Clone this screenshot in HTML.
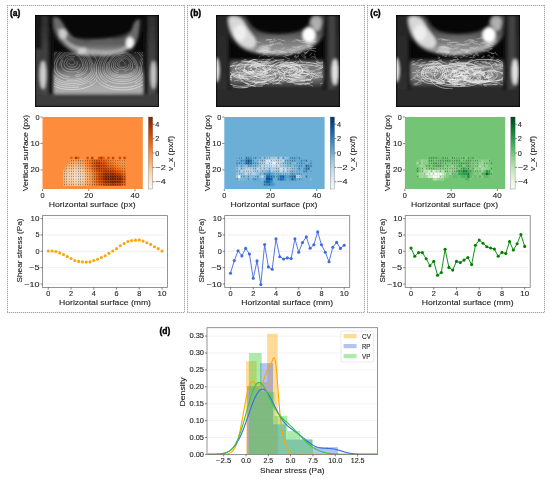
<!DOCTYPE html>
<html><head><meta charset="utf-8"><style>
html,body{margin:0;padding:0;background:#fff;width:550px;height:481px;overflow:hidden}
svg{display:block}
text{font-family:"Liberation Sans", sans-serif}
#root{will-change:transform;transform:translateZ(0)}
</style></head><body>
<svg id="root" width="550" height="481" viewBox="0 0 550 481">
<rect width="550" height="481" fill="#fff"/>
<defs>
<filter id="blur1" x="-20%" y="-20%" width="140%" height="140%"><feGaussianBlur stdDeviation="1.6"/></filter>
<filter id="blur03" x="-20%" y="-20%" width="140%" height="140%"><feGaussianBlur stdDeviation="0.3"/></filter>
<filter id="blur05" x="-20%" y="-20%" width="140%" height="140%"><feGaussianBlur stdDeviation="0.45"/></filter>
<filter id="blur2" x="-50%" y="-50%" width="200%" height="200%"><feGaussianBlur stdDeviation="3"/></filter>
<linearGradient id="swirlA" x1="0" y1="0" x2="0" y2="1"><stop offset="0" stop-color="#303030"/><stop offset="0.45" stop-color="#555"/><stop offset="0.8" stop-color="#b4b4b4"/><stop offset="1" stop-color="#c8c8c8"/></linearGradient>
<linearGradient id="swirlB" x1="0" y1="0" x2="0" y2="1"><stop offset="0" stop-color="#505050"/><stop offset="0.2" stop-color="#9a9a9a"/><stop offset="0.6" stop-color="#a0a0a0"/><stop offset="1" stop-color="#202020"/></linearGradient>
</defs>
<path d="M7 5.5 H185 M184.5 5 V313 M7 312.5 H185 M7.5 5 V313" fill="none" stroke="#e2e2e2" stroke-width="1"/>
<path d="M7 5.5 H185 M184.5 5 V313 M7 312.5 H185 M7.5 5 V313" fill="none" stroke="#a8a8a8" stroke-width="1" stroke-dasharray="1 1"/>
<path d="M187 5.5 H365 M364.5 5 V313 M187 312.5 H365 M187.5 5 V313" fill="none" stroke="#e2e2e2" stroke-width="1"/>
<path d="M187 5.5 H365 M364.5 5 V313 M187 312.5 H365 M187.5 5 V313" fill="none" stroke="#a8a8a8" stroke-width="1" stroke-dasharray="1 1"/>
<path d="M367 5.5 H545 M544.5 5 V313 M367 312.5 H545 M367.5 5 V313" fill="none" stroke="#e2e2e2" stroke-width="1"/>
<path d="M367 5.5 H545 M544.5 5 V313 M367 312.5 H545 M367.5 5 V313" fill="none" stroke="#a8a8a8" stroke-width="1" stroke-dasharray="1 1"/>
<text x="10.00" y="15.60" font-size="8.5" text-anchor="start" fill="#000" font-weight="bold" stroke="#000" stroke-width="0.4">(a)</text>
<text x="190.30" y="15.60" font-size="8.5" text-anchor="start" fill="#000" font-weight="bold" stroke="#000" stroke-width="0.4">(b)</text>
<text x="370.30" y="15.60" font-size="8.5" text-anchor="start" fill="#000" font-weight="bold" stroke="#000" stroke-width="0.4">(c)</text>
<text x="159.50" y="333.60" font-size="8.5" text-anchor="start" fill="#000" font-weight="bold" stroke="#000" stroke-width="0.4">(d)</text>
<svg x="35" y="15" width="124" height="92" viewBox="0 0 124 92"><defs>
<clipPath id="pasw"><rect x="19" y="37" width="89" height="39"/></clipPath>
<clipPath id="paswl"><rect x="19" y="37" width="43" height="39"/></clipPath>
<clipPath id="paswr"><rect x="61" y="37" width="47" height="39"/></clipPath>
<linearGradient id="pag1" x1="0" y1="0" x2="0" y2="1"><stop offset="0" stop-color="#222"/><stop offset="0.35" stop-color="#3a3a3a"/><stop offset="0.6" stop-color="#909090"/><stop offset="1" stop-color="#b4b4b4"/></linearGradient>
<linearGradient id="papl" x1="0" y1="0" x2="0" y2="1"><stop offset="0" stop-color="#2e2e2e"/><stop offset="0.4" stop-color="#404040"/><stop offset="1" stop-color="#505050"/></linearGradient>
<linearGradient id="paringmask" x1="0" y1="0" x2="0" y2="1"><stop offset="0" stop-color="#fff" stop-opacity="0.35"/><stop offset="0.5" stop-color="#fff" stop-opacity="0.6"/><stop offset="1" stop-color="#fff" stop-opacity="1"/></linearGradient>
<linearGradient id="pabg" gradientUnits="userSpaceOnUse" x1="0" y1="20" x2="0" y2="40"><stop offset="0" stop-color="#6a6a6a"/><stop offset="0.4" stop-color="#5a5a5a"/><stop offset="1" stop-color="#9e9e9e"/></linearGradient>
<mask id="pamk"><rect x="0" y="37" width="124" height="40" fill="url(#paringmask)"/></mask>
</defs><rect width="124" height="92" fill="#080808"/><g filter="url(#blur1)"><rect x="0" y="0" width="6.5" height="92" fill="#161616"/><rect x="0" y="34" width="6.5" height="46" fill="#404040"/><rect x="6.5" y="0" width="7" height="92" fill="url(#papl)"/><ellipse cx="8" cy="60" rx="3.2" ry="14" fill="#cfcfcf"/><rect x="112.5" y="0" width="10.5" height="92" fill="url(#papl)"/><rect x="121" y="0" width="3" height="92" fill="#1a1a1a"/><ellipse cx="118.5" cy="60" rx="2.8" ry="14" fill="#c8c8c8"/><rect x="19" y="37" width="89" height="39" fill="url(#pag1)"/><rect x="18" y="75.5" width="91" height="3.5" fill="#a8a8a8"/><rect x="0" y="79" width="124" height="13" fill="#3c3c3c"/><rect x="14.5" y="0" width="4.5" height="79" fill="#0c0c0c"/><rect x="108" y="0" width="4.5" height="79" fill="#0c0c0c"/><path d="M18.50 4.00 C18.17 7.25 19.75 17.67 22.00 22.50 C24.25 27.33 28.17 30.25 32.00 33.00 C35.83 35.75 39.83 37.75 45.00 39.00 C50.17 40.25 57.17 40.42 63.00 40.50 C68.83 40.58 75.33 40.20 80.00 39.50 C84.67 38.80 87.43 38.28 91.00 36.30 C94.57 34.32 99.10 31.92 101.40 27.60 C103.70 23.28 104.37 14.33 104.80 10.40 C105.23 6.47 104.97 4.40 104.00 4.00 C103.03 3.60 100.33 6.08 99.00 8.00 C97.67 9.92 97.92 13.08 96.00 15.50 C94.08 17.92 93.00 21.00 87.50 22.50 C82.00 24.00 69.33 24.00 63.00 24.50 C56.67 25.00 53.75 26.00 49.50 25.50 C45.25 25.00 41.25 24.58 37.50 21.50 C33.75 18.42 29.25 10.08 27.00 7.00 C24.75 3.92 25.42 3.50 24.00 3.00 C22.58 2.50 18.83 0.75 18.50 4.00Z" fill="url(#pabg)"/><path d="M24 14 C 28 30, 42 36, 64 37 S 88 35, 97 28" stroke="#b0b0b0" stroke-width="3" fill="none"/><ellipse cx="28" cy="19" rx="4" ry="5" fill="#cccccc"/><ellipse cx="95" cy="28" rx="4" ry="6" fill="#f4f4f4"/><rect x="43" y="33" width="8" height="6" fill="#d0d0d0"/><path d="M33 22 C 45 26, 80 26, 94 18" stroke="#707070" stroke-width="1" fill="none"/></g><g mask="url(#pamk)" filter="url(#blur03)"><g clip-path="url(#paswl)"><polyline points="34.9,45.7 35.2,45.5 35.5,45.2 35.9,45.0 36.3,44.9 36.7,44.8 37.1,44.8 37.6,44.8 38.0,45.0 38.4,45.2 38.7,45.4 39.0,45.6 39.2,45.9 39.4,46.2 39.6,46.5 39.8,46.8 39.9,47.2 40.0,47.5 40.0,47.9 40.0,48.2 39.8,48.6 39.6,48.9 39.3,49.2 39.0,49.4 38.6,49.6 38.2,49.7 37.8,49.8 37.4,49.9 37.0,49.9 36.6,49.9 36.2,49.8 35.8,49.7 35.4,49.6 35.0,49.4 34.7,49.2 34.4,48.9 34.2,48.6 34.0,48.3 34.0,47.9 34.0,47.5" stroke="#e8e8e8" stroke-width="0.75" fill="none" opacity="0.9"/><polyline points="41.8,46.3 42.1,46.8 42.3,47.4 42.4,48.1 42.4,48.7 42.3,49.4 42.0,50.0 41.6,50.6 41.0,51.1 40.4,51.5 39.7,51.7 39.0,51.9 38.3,52.1 37.5,52.1 36.8,52.1 36.1,52.1 35.4,52.0 34.7,51.8 34.0,51.6 33.3,51.3 32.7,50.8 32.2,50.3 31.9,49.7 31.7,49.1 31.6,48.4 31.7,47.8 31.8,47.1 32.1,46.5 32.4,46.0 32.7,45.5 33.1,45.0 33.6,44.5 34.1,44.0 34.7,43.6 35.4,43.3 36.1,43.1 36.9,43.0 37.7,43.1 38.5,43.3 39.2,43.5" stroke="#e8e8e8" stroke-width="0.75" fill="none" opacity="0.9"/><polyline points="44.9,49.4 44.8,50.3 44.5,51.1 44.0,51.9 43.3,52.6 42.6,53.2 41.7,53.7 40.8,54.0 39.8,54.3 38.9,54.4 37.9,54.5 37.0,54.5 36.0,54.5 35.1,54.4 34.1,54.3 33.2,54.0 32.3,53.6 31.4,53.2 30.6,52.6 30.0,51.9 29.5,51.1 29.2,50.3 29.1,49.4 29.1,48.5 29.2,47.7 29.5,46.9 29.9,46.1 30.3,45.4 30.8,44.7 31.3,44.0 31.9,43.4 32.6,42.8 33.3,42.2 34.2,41.8 35.1,41.4 36.1,41.2 37.2,41.2 38.2,41.3 39.2,41.5 40.1,41.9" stroke="#e8e8e8" stroke-width="0.75" fill="none" opacity="0.9"/><polyline points="30.9,41.6 32.1,40.7 33.5,40.0 35.0,39.5 36.6,39.3 38.2,39.4 39.7,39.7 41.2,40.3 42.5,41.1 43.6,42.0 44.5,43.0 45.3,44.0 46.0,45.1 46.6,46.3 47.1,47.5 47.4,48.8 47.5,50.1 47.3,51.5 46.7,52.8 45.9,53.9 44.7,54.9 43.4,55.7 42.0,56.3 40.5,56.6 39.0,56.9 37.6,56.9 36.1,56.9 34.6,56.8 33.1,56.6 31.7,56.2 30.3,55.6 29.0,54.7 27.9,53.7 27.1,52.5 26.7,51.2 26.5,49.8 26.6,48.5 27.0,47.2 27.5,46.0 28.1,44.9" stroke="#e8e8e8" stroke-width="0.75" fill="none" opacity="0.9"/><polyline points="25.0,50.8 25.0,49.6 25.1,48.4 25.5,47.3 25.9,46.2 26.4,45.2 27.0,44.2 27.7,43.2 28.5,42.3 29.3,41.4 30.2,40.6 31.3,39.8 32.5,39.2 33.7,38.7 35.1,38.3 36.5,38.2 38.0,38.2 39.4,38.4 40.7,38.8 42.0,39.4 43.1,40.1 44.1,40.9 45.0,41.8 45.8,42.6 46.5,43.6 47.2,44.5 47.8,45.5 48.3,46.6 48.7,47.7 48.9,48.8 49.1,50.0 49.0,51.2 48.7,52.4 48.2,53.6 47.5,54.6 46.5,55.6 45.5,56.4 44.3,57.0 43.0,57.6 41.7,57.9" stroke="#e8e8e8" stroke-width="0.75" fill="none" opacity="0.9"/><polyline points="25.1,44.0 25.8,43.0 26.5,42.0 27.4,41.1 28.3,40.2 29.3,39.3 30.4,38.5 31.7,37.9 33.0,37.3 34.4,36.9 35.9,36.7 37.4,36.6 38.9,36.8 40.4,37.1 41.8,37.6 43.1,38.2 44.2,39.0 45.3,39.8 46.2,40.7 47.1,41.6 47.9,42.6 48.6,43.6 49.2,44.6 49.8,45.7 50.3,46.8 50.7,48.0 51.0,49.2 51.1,50.4 51.1,51.7 50.8,53.0 50.4,54.2 49.7,55.3 48.9,56.4 47.8,57.3 46.7,58.2 45.4,58.8 44.1,59.4 42.7,59.8 41.3,60.0 40.0,60.2" stroke="#e8e8e8" stroke-width="0.75" fill="none" opacity="0.9"/><polyline points="34.2,61.9 32.0,61.6 29.8,61.0 27.6,60.2 25.6,59.1 23.8,57.6 22.5,55.9 21.6,54.0 21.2,51.9 21.3,49.9 21.7,47.9 22.4,46.1 23.3,44.3 24.4,42.6 25.6,41.1 27.0,39.6 28.7,38.2 30.6,37.0 32.8,36.1 35.1,35.5 37.6,35.4 40.0,35.7 42.3,36.4 44.3,37.5 46.1,38.8 47.6,40.2 49.0,41.8 50.1,43.4 51.1,45.1 51.9,46.9 52.5,48.8 52.8,50.8 52.7,52.9 52.0,54.9 50.9,56.7 49.4,58.4 47.5,59.7 45.4,60.6 43.2,61.3 41.0,61.7" stroke="#e8e8e8" stroke-width="0.75" fill="none" opacity="0.9"/><polyline points="46.7,62.6 44.3,63.4 41.8,63.9 39.4,64.1 36.9,64.2 34.4,64.1 32.0,63.8 29.5,63.4 27.1,62.6 24.8,61.5 22.7,60.0 21.0,58.2 19.8,56.2 19.1,54.0 18.9,51.7 19.1,49.5 19.7,47.4 20.5,45.4 21.6,43.5 22.8,41.7 24.2,39.9 25.8,38.3 27.6,36.8 29.7,35.5 32.1,34.5 34.7,33.8 37.4,33.7 40.1,34.0 42.6,34.7 44.9,35.8 46.9,37.2 48.7,38.7 50.2,40.4 51.6,42.2 52.7,44.0 53.7,45.9 54.5,48.0 55.0,50.1 55.1,52.3 54.8,54.6" stroke="#e8e8e8" stroke-width="0.75" fill="none" opacity="0.9"/><polyline points="23.1,39.2 24.4,37.8 25.9,36.6 27.5,35.4 29.3,34.3 31.3,33.5 33.4,32.9 35.6,32.6 37.8,32.5 40.0,32.8 42.2,33.3 44.2,34.1 46.0,35.1 47.7,36.2 49.2,37.5 50.5,38.8 51.7,40.2 52.8,41.7 53.8,43.2 54.7,44.8 55.5,46.4 56.1,48.1 56.5,49.9 56.7,51.7 56.7,53.6 56.3,55.4 55.6,57.2 54.6,58.9 53.3,60.4 51.7,61.8 49.9,62.9 48.0,63.8 46.0,64.5 44.0,65.0 42.0,65.4 39.9,65.6 37.9,65.7 35.9,65.7 33.8,65.6 31.8,65.4" stroke="#e8e8e8" stroke-width="0.75" fill="none" opacity="0.9"/><polyline points="51.0,37.7 52.4,39.2 53.6,40.9 54.8,42.5 55.8,44.2 56.6,46.0 57.4,47.9 57.9,49.9 58.1,51.9 58.1,54.0 57.7,56.1 56.9,58.1 55.7,59.9 54.2,61.6 52.4,63.1 50.4,64.3 48.3,65.3 46.1,66.0 43.8,66.5 41.5,66.8 39.2,67.0 37.0,67.0 34.7,67.0 32.5,66.8 30.2,66.5 27.9,66.0 25.7,65.2 23.5,64.3 21.5,63.1 19.8,61.6 18.3,59.9 17.1,58.0 16.3,56.0 15.9,54.0 15.9,51.9 16.1,49.9 16.6,47.9 17.4,46.0 18.2,44.2 19.3,42.5" stroke="#e8e8e8" stroke-width="0.75" fill="none" opacity="0.9"/><polyline points="59.1,48.3 59.7,51.1 59.8,54.0 59.3,56.9 58.0,59.7 56.2,62.2 53.8,64.3 50.9,66.0 47.9,67.2 44.7,68.0 41.5,68.4 38.3,68.6 35.1,68.6 32.0,68.4 28.8,67.8 25.6,67.0 22.6,65.7 19.8,64.0 17.5,61.8 15.7,59.2 14.6,56.4 14.2,53.5 14.4,50.6 15.1,47.8 16.1,45.2 17.5,42.8 19.0,40.4 20.8,38.2 22.8,36.1 25.2,34.1 28.0,32.4 31.1,31.1 34.4,30.4 37.9,30.2 41.3,30.7 44.6,31.8 47.5,33.2 50.1,35.1 52.3,37.1 54.2,39.3" stroke="#e8e8e8" stroke-width="0.75" fill="none" opacity="0.9"/><polyline points="59.8,45.9 60.8,48.4 61.4,51.0 61.6,53.8 61.3,56.6 60.4,59.3 58.9,61.8 56.9,64.1 54.5,66.0 51.8,67.5 48.9,68.7 45.8,69.5 42.8,70.0 39.8,70.2 36.8,70.3 33.7,70.2 30.7,69.9 27.7,69.4 24.7,68.5 21.8,67.3 19.1,65.7 16.7,63.7 14.8,61.4 13.4,58.8 12.7,56.1 12.4,53.3 12.7,50.6 13.3,48.0 14.3,45.5 15.6,43.1 17.0,40.8 18.6,38.7 20.4,36.6 22.4,34.6 24.8,32.8 27.4,31.2 30.4,30.0 33.5,29.2 36.8,28.9 40.2,29.2" stroke="#e8e8e8" stroke-width="0.75" fill="none" opacity="0.9"/><polyline points="44.2,71.9 40.4,72.3 36.6,72.4 32.7,72.3 28.9,71.8 25.1,70.9 21.3,69.6 17.9,67.7 14.9,65.2 12.5,62.3 11.0,59.0 10.2,55.5 10.3,52.0 11.0,48.6 12.2,45.5 13.8,42.5 15.6,39.6 17.7,36.9 20.1,34.3 23.0,32.0 26.3,29.9 30.0,28.4 34.0,27.5 38.2,27.3 42.3,27.9 46.2,29.2 49.7,31.0 52.7,33.3 55.3,35.8 57.5,38.4 59.5,41.2 61.2,44.2 62.5,47.3 63.5,50.5 63.8,54.0 63.5,57.5 62.3,60.9 60.2,64.0 57.5,66.7 54.2,68.9" stroke="#e8e8e8" stroke-width="0.75" fill="none" opacity="0.9"/><polyline points="64.3,46.4 65.5,49.8 66.0,53.5 65.9,57.2 64.9,60.9 63.0,64.3 60.4,67.4 57.0,69.9 53.3,71.8 49.3,73.1 45.2,74.0 41.1,74.4 37.0,74.6 32.9,74.4 28.9,74.0 24.8,73.1 20.7,71.8 17.0,69.9 13.6,67.4 11.0,64.3 9.1,60.9 8.1,57.2 8.0,53.5 8.5,49.8 9.7,46.4 11.2,43.1 13.1,40.0 15.2,37.1 17.7,34.3 20.5,31.7 23.8,29.3 27.6,27.5 31.8,26.2 36.2,25.6 40.7,25.9 45.0,26.9 48.9,28.6 52.4,30.8 55.4,33.4 58.0,36.1" stroke="#e8e8e8" stroke-width="0.75" fill="none" opacity="0.9"/></g><g clip-path="url(#paswr)"><polyline points="85.0,50.5 84.7,50.3 84.5,50.1 84.3,49.8 84.1,49.6 84.0,49.3 84.0,49.0 84.0,48.7 84.0,48.4 84.1,48.1 84.2,47.9 84.3,47.6 84.4,47.4 84.6,47.1 84.8,46.9 85.0,46.7 85.2,46.5 85.4,46.3 85.7,46.1 86.0,46.0 86.3,45.9 86.7,45.8 87.0,45.8 87.4,45.8 87.7,45.9 88.0,46.0 88.3,46.1 88.6,46.3 88.8,46.5 89.0,46.7 89.2,46.9 89.4,47.1 89.6,47.4 89.7,47.6 89.8,47.9 89.9,48.1 90.0,48.4 90.0,48.7 90.0,49.0 90.0,49.3" stroke="#e8e8e8" stroke-width="0.75" fill="none" opacity="0.9"/><polyline points="91.4,50.3 91.2,50.7 90.8,51.1 90.4,51.5 90.0,51.8 89.5,52.0 89.0,52.1 88.5,52.3 87.9,52.3 87.4,52.4 86.9,52.4 86.4,52.4 85.9,52.3 85.4,52.2 84.9,52.1 84.4,51.9 83.9,51.7 83.4,51.4 83.1,51.0 82.8,50.6 82.5,50.2 82.4,49.7 82.4,49.2 82.4,48.8 82.5,48.3 82.7,47.9 82.9,47.5 83.1,47.1 83.3,46.7 83.6,46.3 83.9,46.0 84.3,45.6 84.7,45.3 85.2,45.1 85.6,44.8 86.2,44.7 86.7,44.6 87.3,44.6 87.9,44.7 88.4,44.9" stroke="#e8e8e8" stroke-width="0.75" fill="none" opacity="0.9"/><polyline points="93.7,49.1 93.8,49.9 93.7,50.7 93.4,51.5 92.9,52.2 92.3,52.9 91.6,53.4 90.8,53.8 89.9,54.1 89.0,54.3 88.1,54.4 87.2,54.4 86.4,54.4 85.5,54.3 84.6,54.2 83.7,54.0 82.9,53.6 82.1,53.2 81.4,52.6 80.9,51.9 80.5,51.2 80.3,50.4 80.2,49.6 80.3,48.8 80.6,48.0 80.9,47.3 81.3,46.6 81.7,46.0 82.2,45.4 82.8,44.8 83.4,44.2 84.1,43.8 85.0,43.4 85.9,43.1 86.8,43.0 87.8,43.1 88.7,43.3 89.6,43.6 90.4,44.1 91.0,44.6" stroke="#e8e8e8" stroke-width="0.75" fill="none" opacity="0.9"/><polyline points="83.9,55.9 82.8,55.5 81.6,55.1 80.6,54.4 79.7,53.7 79.0,52.7 78.6,51.7 78.4,50.6 78.5,49.5 78.7,48.5 79.0,47.5 79.5,46.6 80.1,45.7 80.7,44.9 81.4,44.1 82.3,43.4 83.2,42.7 84.3,42.2 85.6,41.8 86.8,41.7 88.1,41.8 89.4,42.1 90.5,42.6 91.5,43.2 92.4,43.9 93.1,44.7 93.8,45.5 94.3,46.4 94.8,47.3 95.2,48.3 95.5,49.3 95.6,50.3 95.5,51.4 95.1,52.5 94.5,53.4 93.6,54.3 92.6,54.9 91.5,55.4 90.4,55.8 89.2,56.0" stroke="#e8e8e8" stroke-width="0.75" fill="none" opacity="0.9"/><polyline points="82.9,57.6 81.6,57.2 80.4,56.7 79.2,56.0 78.3,55.2 77.5,54.2 76.9,53.1 76.5,52.0 76.4,50.8 76.5,49.7 76.8,48.6 77.2,47.5 77.7,46.5 78.2,45.5 78.9,44.6 79.6,43.7 80.5,42.9 81.4,42.1 82.5,41.4 83.7,40.8 85.0,40.4 86.4,40.2 87.8,40.3 89.2,40.5 90.4,40.9 91.6,41.5 92.7,42.2 93.6,43.0 94.5,43.8 95.2,44.7 95.8,45.6 96.4,46.6 96.9,47.6 97.3,48.7 97.5,49.8 97.6,51.0 97.4,52.1 97.1,53.3 96.5,54.4 95.6,55.3" stroke="#e8e8e8" stroke-width="0.75" fill="none" opacity="0.9"/><polyline points="99.4,53.9 98.7,55.5 97.5,56.9 96.0,58.0 94.3,58.9 92.5,59.5 90.6,59.9 88.8,60.1 86.9,60.2 85.1,60.1 83.2,59.9 81.3,59.5 79.5,58.8 77.8,57.9 76.4,56.7 75.2,55.3 74.5,53.7 74.2,52.0 74.2,50.3 74.6,48.7 75.2,47.1 75.9,45.7 76.8,44.3 77.9,43.0 79.1,41.8 80.5,40.7 82.1,39.7 83.9,39.0 85.9,38.6 87.9,38.6 89.9,38.9 91.8,39.6 93.4,40.6 94.8,41.7 96.0,42.9 97.1,44.2 98.0,45.6 98.8,47.0 99.4,48.6 99.8,50.2" stroke="#e8e8e8" stroke-width="0.75" fill="none" opacity="0.9"/><polyline points="87.0,37.5 89.1,37.7 91.2,38.2 93.1,39.1 94.7,40.2 96.1,41.4 97.4,42.7 98.5,44.1 99.4,45.6 100.2,47.1 100.8,48.8 101.2,50.5 101.3,52.3 101.0,54.1 100.2,55.8 99.1,57.4 97.6,58.7 95.9,59.8 94.0,60.6 92.0,61.1 90.0,61.4 88.1,61.5 86.1,61.5 84.1,61.4 82.2,61.1 80.2,60.6 78.3,59.9 76.5,58.8 75.0,57.5 73.8,56.0 73.1,54.3 72.7,52.5 72.8,50.7 73.1,48.9 73.7,47.3 74.5,45.7 75.5,44.3 76.5,42.9 77.7,41.5 79.2,40.3" stroke="#e8e8e8" stroke-width="0.75" fill="none" opacity="0.9"/><polyline points="90.8,37.0 92.6,37.6 94.2,38.5 95.7,39.5 97.0,40.7 98.2,41.9 99.2,43.2 100.1,44.5 100.9,45.8 101.6,47.3 102.2,48.8 102.6,50.4 102.7,52.0 102.6,53.6 102.2,55.3 101.5,56.8 100.4,58.3 99.1,59.5 97.6,60.6 95.9,61.4 94.1,62.0 92.3,62.4 90.5,62.7 88.7,62.9 86.9,62.9 85.1,62.9 83.3,62.7 81.5,62.4 79.7,61.9 77.9,61.3 76.2,60.4 74.7,59.4 73.4,58.1 72.4,56.6 71.7,55.1 71.3,53.4 71.3,51.8 71.5,50.1 71.9,48.6 72.5,47.1" stroke="#e8e8e8" stroke-width="0.75" fill="none" opacity="0.9"/><polyline points="104.8,51.5 104.8,53.1 104.7,54.8 104.2,56.4 103.5,57.9 102.5,59.3 101.3,60.6 99.8,61.7 98.3,62.6 96.6,63.4 94.8,64.0 93.1,64.4 91.3,64.7 89.5,64.8 87.7,64.9 86.0,64.9 84.2,64.8 82.4,64.6 80.7,64.3 78.9,63.9 77.1,63.3 75.5,62.5 73.9,61.5 72.5,60.4 71.3,59.1 70.4,57.7 69.7,56.1 69.3,54.5 69.1,52.9 69.2,51.3 69.5,49.7 70.0,48.2 70.6,46.7 71.3,45.3 72.1,44.0 73.0,42.7 74.0,41.5 75.1,40.3 76.3,39.1 77.6,38.0" stroke="#e8e8e8" stroke-width="0.75" fill="none" opacity="0.9"/><polyline points="104.8,46.5 105.6,48.2 106.1,50.0 106.4,51.8 106.5,53.7 106.2,55.6 105.6,57.5 104.7,59.2 103.5,60.9 101.9,62.3 100.2,63.5 98.2,64.5 96.2,65.2 94.2,65.8 92.1,66.1 90.0,66.4 87.9,66.5 85.9,66.5 83.8,66.3 81.7,66.1 79.6,65.7 77.5,65.2 75.5,64.4 73.6,63.4 71.9,62.1 70.4,60.7 69.2,59.1 68.3,57.3 67.7,55.4 67.5,53.5 67.6,51.6 68.0,49.8 68.5,48.0 69.3,46.3 70.1,44.7 71.1,43.2 72.2,41.7 73.4,40.2 74.7,38.8 76.2,37.5" stroke="#e8e8e8" stroke-width="0.75" fill="none" opacity="0.9"/><polyline points="105.6,43.8 106.9,46.2 107.9,48.7 108.6,51.4 108.8,54.3 108.4,57.1 107.3,59.8 105.5,62.3 103.2,64.4 100.4,66.1 97.4,67.3 94.3,68.0 91.2,68.5 88.1,68.7 85.0,68.6 81.8,68.4 78.7,67.8 75.6,66.9 72.7,65.6 70.0,63.8 67.9,61.6 66.3,59.0 65.4,56.2 65.2,53.4 65.5,50.6 66.4,47.9 67.5,45.4 68.9,43.0 70.5,40.8 72.4,38.6 74.5,36.6 77.0,34.8 79.9,33.4 83.1,32.4 86.4,32.0 89.8,32.2 93.1,33.0 96.1,34.3 98.7,36.0 101.0,38.0" stroke="#e8e8e8" stroke-width="0.75" fill="none" opacity="0.9"/><polyline points="72.4,67.6 69.8,66.0 67.6,64.2 65.7,62.0 64.4,59.5 63.6,56.9 63.3,54.3 63.6,51.6 64.2,49.1 65.1,46.7 66.3,44.4 67.6,42.3 69.1,40.2 70.8,38.2 72.8,36.3 75.0,34.5 77.5,33.0 80.3,31.8 83.3,31.0 86.4,30.6 89.6,30.8 92.7,31.4 95.6,32.5 98.2,33.9 100.5,35.6 102.5,37.5 104.3,39.4 105.9,41.5 107.3,43.6 108.5,45.9 109.5,48.2 110.2,50.7 110.6,53.3 110.5,56.0 110.0,58.6 108.8,61.1 107.2,63.4 105.0,65.4 102.6,67.1 99.8,68.3" stroke="#e8e8e8" stroke-width="0.75" fill="none" opacity="0.9"/><polyline points="107.9,66.2 105.1,68.4 101.9,70.0 98.5,71.2 95.1,72.0 91.6,72.4 88.1,72.6 84.7,72.6 81.2,72.3 77.7,71.8 74.3,70.9 70.9,69.5 67.9,67.7 65.2,65.4 63.2,62.7 61.8,59.7 61.1,56.5 61.1,53.3 61.6,50.3 62.6,47.3 63.9,44.6 65.5,41.9 67.3,39.4 69.3,37.0 71.7,34.8 74.4,32.7 77.5,31.0 81.0,29.7 84.7,29.0 88.5,28.9 92.2,29.5 95.7,30.7 98.9,32.3 101.7,34.3 104.1,36.5 106.2,38.9 108.1,41.3 109.7,43.9 111.1,46.7 112.2,49.6" stroke="#e8e8e8" stroke-width="0.75" fill="none" opacity="0.9"/><polyline points="104.4,34.2 106.3,36.1 108.0,38.0 109.5,40.0 110.9,42.1 112.1,44.2 113.2,46.4 114.2,48.7 114.9,51.1 115.3,53.6 115.4,56.2 115.1,58.7 114.4,61.3 113.2,63.7 111.6,66.0 109.7,68.0 107.5,69.8 105.0,71.2 102.3,72.4 99.6,73.4 96.8,74.0 93.9,74.5 91.1,74.8 88.3,74.9 85.6,74.9 82.8,74.7 79.9,74.5 77.1,74.0 74.3,73.3 71.6,72.4 68.9,71.2 66.4,69.7 64.2,67.9 62.3,65.9 60.7,63.6 59.6,61.2 58.9,58.6 58.6,56.1 58.7,53.5 59.2,51.0" stroke="#e8e8e8" stroke-width="0.75" fill="none" opacity="0.9"/></g></g><rect x="0" y="0" width="124" height="92" fill="none" stroke="#000" stroke-width="1"/></svg>
<svg x="216" y="15" width="124" height="92" viewBox="0 0 124 92"><defs>
<clipPath id="pbsw"><rect x="14" y="44" width="93" height="30"/></clipPath>
<linearGradient id="pbg1" x1="0" y1="0" x2="0" y2="1"><stop offset="0" stop-color="#282828"/><stop offset="0.2" stop-color="#787878"/><stop offset="0.6" stop-color="#808080"/><stop offset="0.88" stop-color="#404040"/><stop offset="1" stop-color="#1c1c1c"/></linearGradient>
<linearGradient id="pbpl" x1="0" y1="0" x2="0" y2="1"><stop offset="0" stop-color="#262626"/><stop offset="1" stop-color="#303030"/></linearGradient>
<linearGradient id="pbbg" gradientUnits="userSpaceOnUse" x1="0" y1="16" x2="0" y2="41"><stop offset="0" stop-color="#4a4a4a"/><stop offset="0.45" stop-color="#7a7a7a"/><stop offset="0.8" stop-color="#9a9a9a"/><stop offset="1" stop-color="#707070"/></linearGradient>
</defs><rect width="124" height="92" fill="#070707"/><g filter="url(#blur1)"><rect x="0" y="0" width="12" height="92" fill="url(#pbpl)"/><ellipse cx="0" cy="55" rx="3" ry="12" fill="#f0f0f0"/><rect x="110" y="0" width="14" height="92" fill="url(#pbpl)"/><rect x="113" y="0" width="6" height="92" fill="#555" opacity="0.6"/><ellipse cx="119" cy="57" rx="3.2" ry="13" fill="#e4e4e4"/><rect x="14" y="44" width="93" height="30" fill="url(#pbg1)"/><rect x="0" y="74" width="124" height="18" fill="#2c2c2c"/><rect x="12" y="0" width="2.5" height="75" fill="#0a0a0a"/><rect x="107.5" y="0" width="2.5" height="75" fill="#0a0a0a"/><path d="M12.00 1.00 C9.67 4.00 11.67 13.67 14.00 19.00 C16.33 24.33 20.92 29.67 26.00 33.00 C31.08 36.33 37.50 37.75 44.50 39.00 C51.50 40.25 60.25 41.17 68.00 40.50 C75.75 39.83 84.83 37.82 91.00 35.00 C97.17 32.18 102.17 28.60 105.00 23.60 C107.83 18.60 107.67 8.93 108.00 5.00 C108.33 1.07 109.00 0.67 107.00 0.00 C105.00 -0.67 98.67 -0.83 96.00 1.00 C93.33 2.83 93.75 8.33 91.00 11.00 C88.25 13.67 84.33 15.67 79.50 17.00 C74.67 18.33 67.58 19.00 62.00 19.00 C56.42 19.00 50.33 18.33 46.00 17.00 C41.67 15.67 39.00 13.67 36.00 11.00 C33.00 8.33 32.00 2.67 28.00 1.00 C24.00 -0.67 14.33 -2.00 12.00 1.00Z" fill="url(#pbbg)"/><path d="M13.00 3.00 C11.67 5.50 14.17 13.67 16.00 18.00 C17.83 22.33 20.67 26.50 24.00 29.00 C27.33 31.50 33.33 33.50 36.00 33.00 C38.67 32.50 40.67 29.17 40.00 26.00 C39.33 22.83 34.67 17.83 32.00 14.00 C29.33 10.17 27.17 4.83 24.00 3.00 C20.83 1.17 14.33 0.50 13.00 3.00Z" fill="#d8d8d8"/><ellipse cx="24" cy="18" rx="6" ry="8" fill="#eeeeee"/><ellipse cx="48" cy="35" rx="6" ry="4" fill="#c4c4c4"/><path d="M40 37 C 55 40, 80 38, 100 26" stroke="#b8b8b8" stroke-width="2.2" fill="none"/><ellipse cx="100" cy="7" rx="6" ry="6" fill="#a8a8a8"/><ellipse cx="93" cy="20" rx="6.5" ry="7.5" fill="#ffffff"/><ellipse cx="101" cy="10" rx="4" ry="6" fill="#b0b0b0"/></g><g clip-path="url(#pbsw)" filter="url(#blur03)"><g stroke="#f2f2f2" stroke-width="0.65" fill="none" opacity="0.85"><polyline points="32.1,52.7 32.7,52.3 32.8,51.9 33.6,51.6 33.9,51.2 34.6,50.9 35.6,50.6 36.7,50.3 37.2,50.0 38.2,49.8 39.5,49.6 40.7,49.4 41.6,49.2 42.7,49.1 44.2,49.0 44.9,48.9"/><polyline points="59.5,59.5 59.0,59.7 57.8,60.0 57.2,60.1 56.3,60.3 55.2,60.5 54.3,60.6 53.1,60.7 52.1,60.8 51.2,60.9 50.5,61.0 49.3,61.0 48.2,61.1 47.4,61.1 46.3,61.0 45.1,61.0"/><polyline points="48.4,62.5 46.7,62.5 44.8,62.4 42.7,62.2 41.4,61.9 39.2,61.6 37.7,61.1 36.4,60.6 34.7,60.0 33.6,59.4 32.2,58.7 31.7,57.9 30.9,57.1 30.2,56.3 29.9,55.5 29.3,54.6"/><polyline points="33.4,50.2 34.2,49.7 34.8,49.2 35.9,48.7 36.6,48.2 38.1,47.8 39.3,47.4 40.8,47.1 42.1,46.9 43.1,46.7 44.6,46.5 46.2,46.4 47.3,46.4 49.0,46.4 50.3,46.5 51.7,46.7"/><polyline points="51.1,55.6 51.1,55.7 50.4,55.8 50.3,55.9 50.1,56.0 50.0,56.1 49.6,56.1 49.3,56.2 48.7,56.2 48.4,56.3 48.1,56.3 48.0,56.3 47.7,56.3 46.9,56.3 46.6,56.3 46.3,56.2"/><polyline points="40.4,52.0 41.0,51.8 41.3,51.6 41.8,51.4 42.4,51.3 42.7,51.1 43.0,51.0 43.6,50.8 44.1,50.7 44.2,50.6 45.2,50.5 45.7,50.5 46.3,50.4 46.8,50.4 47.1,50.4 47.7,50.4"/><polyline points="52.9,54.8 52.8,55.0 52.8,55.1 52.5,55.2 52.3,55.3 52.2,55.4 52.0,55.5 52.0,55.6 51.6,55.7 51.9,55.8 51.5,55.9 51.1,55.9 50.9,56.0 50.7,56.1 50.5,56.1 50.1,56.2"/><polyline points="28.6,56.1 28.3,55.1 28.3,54.1 28.3,53.2 28.8,52.2 28.8,51.3 29.2,50.3 30.4,49.4 30.9,48.6 31.7,47.7 33.0,47.0 33.9,46.3 35.5,45.6 37.2,45.0 38.6,44.5 40.1,44.1"/><polyline points="52.0,56.8 51.2,57.0 49.9,57.1 48.8,57.2 48.1,57.2 47.2,57.2 46.0,57.1 45.0,57.0 44.0,56.9 43.0,56.7 41.9,56.4 41.3,56.1 40.5,55.8 39.8,55.4 39.3,55.1 39.1,54.7"/></g><g stroke="#f2f2f2" stroke-width="0.65" fill="none" opacity="0.85"><polyline points="63.0,56.9 63.6,58.1 64.1,59.4 64.2,60.7 63.8,61.9 63.0,63.2 62.1,64.3 60.6,65.4 58.6,66.4 56.1,67.2 53.6,67.9 50.9,68.5 47.6,68.8 44.9,69.0 41.9,69.0 38.8,68.8"/><polyline points="50.6,66.9 48.9,67.3 46.9,67.5 44.4,67.6 42.3,67.6 40.4,67.5 38.2,67.3 35.8,67.0 33.9,66.6 32.1,66.1 30.9,65.5 29.4,64.8 27.8,64.0 27.3,63.2 26.6,62.3 26.0,61.5"/><polyline points="50.4,63.6 49.9,63.7 49.5,63.9 49.4,64.0 48.8,64.1 48.7,64.2 48.3,64.3 47.5,64.4 47.2,64.4 46.8,64.5 46.4,64.6 46.2,64.6 45.5,64.7 45.2,64.7 44.6,64.8 44.7,64.8"/><polyline points="34.1,58.2 35.2,57.7 35.9,57.2 37.0,56.9 38.2,56.5 39.2,56.3 40.8,56.1 42.0,56.0 43.3,56.0 45.2,56.1 46.2,56.2 47.7,56.4 49.0,56.7 50.1,57.1 50.9,57.5 51.9,58.0"/><polyline points="54.0,64.6 53.1,65.1 52.4,65.6 51.1,66.0 50.0,66.4 48.8,66.7 47.6,66.9 46.0,67.1 44.7,67.2 43.2,67.3 41.8,67.2 40.6,67.1 39.1,67.0 37.8,66.7 36.5,66.4 35.6,66.1"/><polyline points="58.7,57.3 59.3,57.8 59.5,58.4 59.3,58.9 59.4,59.5 59.7,60.1 59.5,60.7 59.5,61.3 59.2,61.8 59.3,62.4 59.1,63.0 58.8,63.5 57.9,64.0 57.7,64.6 57.1,65.1 56.1,65.5"/><polyline points="46.9,70.9 44.1,71.1 41.6,71.0 38.7,70.8 35.6,70.3 33.3,69.7 31.0,68.8 28.8,67.8 26.9,66.7 25.5,65.4 24.6,64.0 23.4,62.5 23.3,61.0 23.3,59.5 23.4,58.0 24.4,56.5"/><polyline points="57.3,62.9 56.4,63.7 54.6,64.5 53.2,65.2 51.3,65.7 49.8,66.2 47.5,66.5 45.2,66.8 43.2,66.8 41.3,66.8 39.1,66.6 36.7,66.2 34.7,65.8 33.4,65.2 31.6,64.5 30.4,63.8"/><polyline points="40.8,58.7 41.7,58.6 42.0,58.6 42.6,58.6 42.6,58.5 43.6,58.5 43.6,58.6 44.5,58.6 44.7,58.6 45.1,58.7 45.7,58.7 46.3,58.8 46.3,58.9 46.6,59.0 47.2,59.1 47.4,59.2"/></g><g stroke="#f2f2f2" stroke-width="0.65" fill="none" opacity="0.85"><polyline points="31.0,55.5 30.3,55.5 30.2,55.4 29.7,55.3 29.5,55.3 29.0,55.2 28.9,55.1 28.5,55.0 28.8,54.9 28.5,54.8 28.1,54.7 28.1,54.6 28.3,54.5 27.7,54.3 28.0,54.2 27.7,54.1"/><polyline points="22.7,58.0 22.1,57.5 21.1,57.0 20.9,56.4 20.4,55.9 20.1,55.3 19.8,54.6 19.7,54.0 19.5,53.4 19.7,52.8 20.0,52.2 20.7,51.6 20.9,51.0 21.5,50.5 22.1,50.0 23.3,49.5"/><polyline points="28.6,63.0 27.5,62.8 26.0,62.6 25.0,62.4 23.7,62.2 23.0,61.9 21.9,61.6 20.6,61.2 19.4,60.8 18.9,60.4 17.7,59.9 16.9,59.5 15.9,59.0 15.5,58.5 14.9,57.9 14.4,57.4"/><polyline points="40.0,54.0 40.2,54.3 39.9,54.5 39.8,54.7 39.8,54.9 39.6,55.1 39.6,55.3 39.3,55.5 39.2,55.7 38.8,55.9 38.6,56.1 38.3,56.2 37.6,56.4 37.2,56.5 37.2,56.6 36.2,56.8"/><polyline points="49.3,56.1 48.4,57.0 47.5,57.9 46.3,58.8 44.4,59.5 43.0,60.2 41.1,60.7 39.4,61.2 37.3,61.5 35.1,61.7 32.8,61.8 30.8,61.7 28.5,61.5 26.4,61.2 24.2,60.8 22.2,60.2"/><polyline points="37.8,55.5 37.2,55.7 36.6,55.9 36.0,56.1 35.1,56.2 34.0,56.3 33.7,56.4 32.9,56.4 31.9,56.4 31.1,56.4 30.4,56.3 29.3,56.1 29.0,55.9 28.1,55.7 27.4,55.5 27.1,55.2"/><polyline points="31.6,47.9 34.0,47.9 36.5,48.1 38.9,48.3 41.2,48.7 43.2,49.2 45.0,49.7 46.3,50.4 47.6,51.1 48.7,51.9 49.6,52.8 49.7,53.6 49.8,54.5 49.0,55.4 48.3,56.2 47.3,57.0"/><polyline points="25.4,47.1 26.4,46.9 27.5,46.7 28.4,46.6 30.0,46.4 30.7,46.4 32.3,46.3 33.4,46.3 34.0,46.4 35.4,46.4 36.7,46.5 37.9,46.7 38.7,46.9 39.6,47.1 40.6,47.4 42.0,47.6"/><polyline points="37.8,56.6 36.7,56.8 36.5,57.0 35.6,57.1 35.2,57.3 34.3,57.3 33.3,57.4 33.0,57.4 32.0,57.4 31.0,57.4 30.2,57.3 29.8,57.2 29.1,57.0 28.4,56.9 27.7,56.7 27.2,56.5"/></g><g stroke="#f2f2f2" stroke-width="0.65" fill="none" opacity="0.85"><polyline points="49.5,60.4 49.6,60.5 49.9,60.5 49.7,60.6 49.9,60.7 50.0,60.7 50.5,60.8 50.4,60.9 50.4,61.0 50.5,61.1 50.6,61.2 50.5,61.3 50.6,61.4 51.1,61.5 50.9,61.6 51.3,61.7"/><polyline points="38.6,61.9 39.0,61.7 39.0,61.5 39.1,61.3 39.1,61.1 39.5,61.0 39.7,60.8 39.7,60.6 40.0,60.5 39.9,60.3 40.6,60.1 40.8,60.0 41.3,59.9 41.6,59.7 41.8,59.6 42.1,59.5"/><polyline points="26.6,63.3 26.7,62.8 26.7,62.2 26.3,61.7 26.7,61.2 26.8,60.7 27.3,60.2 27.7,59.7 28.2,59.2 28.9,58.7 29.8,58.3 31.1,57.8 31.9,57.4 32.9,57.1 34.5,56.7 35.8,56.4"/><polyline points="51.3,65.9 50.6,65.9 50.1,66.0 49.5,66.0 49.1,66.1 48.7,66.1 48.0,66.1 47.2,66.1 46.6,66.1 46.1,66.1 45.4,66.1 44.8,66.1 44.1,66.0 43.6,66.0 43.4,65.9 42.4,65.8"/><polyline points="55.5,57.5 56.1,57.8 56.7,58.1 57.3,58.4 58.1,58.7 58.5,59.0 58.9,59.3 58.8,59.6 59.1,60.0 59.8,60.3 60.1,60.7 60.0,61.1 60.2,61.5 59.9,61.8 60.1,62.2 60.4,62.6"/><polyline points="65.5,60.4 65.7,61.0 66.0,61.7 66.1,62.3 66.2,63.0 65.9,63.6 65.6,64.2 65.4,64.9 64.8,65.5 64.3,66.1 63.5,66.6 63.3,67.2 62.3,67.7 61.9,68.3 60.9,68.7 59.8,69.2"/><polyline points="42.8,60.4 43.3,60.2 44.2,60.1 44.9,60.0 45.5,59.9 46.1,59.8 47.0,59.8 47.4,59.8 48.3,59.8 49.1,59.9 50.0,60.0 50.5,60.1 51.2,60.3 51.5,60.4 51.9,60.6 52.3,60.9"/><polyline points="39.6,71.6 38.9,71.4 37.9,71.2 37.0,71.0 36.5,70.8 35.9,70.6 34.7,70.4 33.8,70.1 33.3,69.8 32.7,69.6 32.2,69.3 31.3,69.0 31.1,68.6 30.4,68.3 29.8,68.0 29.1,67.6"/><polyline points="56.1,54.7 57.7,55.0 58.6,55.3 60.1,55.5 60.9,55.9 61.8,56.2 62.8,56.6 63.8,57.0 64.8,57.4 65.7,57.8 65.9,58.3 66.7,58.8 67.1,59.3 68.0,59.8 67.8,60.3 68.0,60.8"/></g><g stroke="#f2f2f2" stroke-width="0.65" fill="none" opacity="0.85"><polyline points="27.3,46.3 29.9,46.2 32.7,46.4 36.0,46.8 38.6,47.4 40.7,48.2 43.3,49.2 45.1,50.3 46.8,51.6 48.0,53.0 48.7,54.5 49.0,56.0 49.2,57.5 48.8,59.1 48.3,60.5 46.5,61.9"/><polyline points="16.1,62.6 13.9,62.0 11.9,61.2 10.6,60.4 9.4,59.6 8.8,58.7 7.9,57.7 7.8,56.8 8.2,55.8 8.2,54.9 9.3,54.0 10.7,53.1 12.1,52.3 13.4,51.6 15.4,50.9 17.7,50.3"/><polyline points="28.8,49.2 31.5,49.3 34.7,49.5 37.1,49.8 39.4,50.2 42.0,50.8 43.8,51.5 45.6,52.3 46.9,53.1 48.6,54.0 49.5,55.0 49.8,56.0 50.0,57.0 49.2,58.0 48.6,59.0 47.7,60.0"/><polyline points="13.1,64.2 12.3,63.6 11.7,63.0 10.5,62.3 10.2,61.6 9.6,60.9 9.2,60.2 8.8,59.5 8.4,58.8 8.0,58.0 7.9,57.2 7.9,56.5 8.2,55.7 8.0,55.0 8.3,54.2 9.0,53.5"/><polyline points="37.4,57.3 37.5,57.5 37.2,57.8 36.9,58.0 36.0,58.2 35.4,58.5 34.8,58.6 34.4,58.8 33.9,59.0 33.0,59.1 32.1,59.2 31.4,59.3 30.7,59.4 29.9,59.4 29.1,59.4 28.4,59.4"/><polyline points="37.9,52.3 38.7,52.5 39.8,52.7 40.3,53.0 41.1,53.3 41.8,53.6 42.4,53.9 43.4,54.2 43.8,54.5 44.1,54.9 44.5,55.2 45.1,55.6 45.0,56.0 45.0,56.3 45.4,56.7 45.2,57.1"/><polyline points="7.9,57.8 7.6,56.9 7.2,56.0 7.8,55.1 8.5,54.3 9.6,53.4 11.5,52.7 13.0,52.0 15.2,51.3 17.1,50.8 19.8,50.3 22.1,50.0 24.7,49.8 27.8,49.6 30.7,49.6 32.9,49.7"/><polyline points="32.0,63.3 30.9,63.4 29.7,63.4 28.8,63.4 27.6,63.4 26.2,63.3 24.9,63.2 24.0,63.0 23.2,62.8 21.8,62.6 20.9,62.3 19.9,62.0 19.4,61.6 18.4,61.3 17.3,60.8 16.7,60.4"/><polyline points="21.9,53.0 22.6,52.8 22.9,52.7 23.3,52.6 23.8,52.4 24.7,52.3 24.8,52.2 25.5,52.1 25.9,52.1 26.4,52.0 27.2,52.0 27.9,51.9 28.0,51.9 28.5,51.9 29.3,51.9 29.6,51.9"/></g><g stroke="#f2f2f2" stroke-width="0.65" fill="none" opacity="0.85"><polyline points="15.7,66.1 14.8,65.4 14.1,64.7 14.0,63.9 13.9,63.1 14.1,62.3 13.8,61.6 14.6,60.8 15.0,60.1 15.9,59.4 16.7,58.8 17.9,58.3 19.3,57.8 21.0,57.4 21.9,57.2 23.7,57.0"/><polyline points="31.7,72.3 30.8,72.5 29.5,72.6 28.3,72.7 27.8,72.8 26.5,72.8 25.8,72.8 24.7,72.8 23.8,72.8 22.4,72.7 21.8,72.6 20.5,72.5 19.7,72.4 19.0,72.2 18.1,72.0 16.8,71.7"/><polyline points="17.3,62.5 17.5,62.2 17.9,62.0 18.2,61.7 18.0,61.5 18.6,61.3 19.0,61.0 19.0,60.8 19.9,60.6 19.9,60.5 20.7,60.3 21.2,60.1 21.8,60.0 22.2,59.9 22.8,59.8 23.5,59.7"/><polyline points="14.1,64.6 14.2,64.1 13.9,63.7 13.6,63.2 13.9,62.8 14.0,62.3 13.9,61.8 14.0,61.4 14.5,60.9 14.7,60.5 15.1,60.1 15.9,59.7 16.3,59.3 17.2,59.0 18.0,58.6 18.5,58.4"/><polyline points="23.8,57.9 25.4,57.9 27.6,57.9 29.4,58.0 31.5,58.2 32.8,58.5 34.8,58.8 36.3,59.2 37.5,59.7 38.6,60.2 39.2,60.7 40.4,61.3 40.6,61.8 41.1,62.4 41.1,63.1 40.4,63.7"/><polyline points="42.2,66.7 41.3,67.4 41.0,68.0 39.8,68.6 39.3,69.2 37.9,69.8 37.1,70.3 36.2,70.7 34.6,71.1 33.4,71.5 32.2,71.8 30.8,72.1 29.3,72.3 28.0,72.4 26.6,72.5 25.6,72.5"/><polyline points="33.1,70.2 31.6,70.7 29.7,71.0 27.6,71.2 25.9,71.3 23.7,71.3 21.7,71.1 20.0,70.8 17.7,70.4 16.5,69.8 14.7,69.2 13.1,68.4 12.2,67.6 10.8,66.7 10.5,65.7 9.6,64.7"/><polyline points="15.8,64.6 15.1,64.4 15.4,64.1 15.0,63.8 15.1,63.5 15.2,63.2 15.0,62.9 15.0,62.6 14.9,62.3 14.8,62.0 14.9,61.7 15.1,61.4 15.6,61.1 15.7,60.8 16.0,60.5 16.6,60.3"/><polyline points="21.5,61.0 21.9,60.9 22.0,60.8 22.4,60.8 22.5,60.8 23.0,60.7 23.3,60.7 23.3,60.7 23.8,60.6 24.0,60.6 24.0,60.6 24.8,60.6 24.6,60.6 24.8,60.5 25.1,60.5 25.7,60.5"/></g><g stroke="#f2f2f2" stroke-width="0.65" fill="none" opacity="0.85"><polyline points="97.2,61.7 97.0,62.1 96.8,62.6 96.3,63.0 96.1,63.4 95.3,63.8 94.2,64.1 93.8,64.4 92.3,64.7 91.6,65.0 90.4,65.2 89.2,65.3 87.9,65.4 87.1,65.5 85.4,65.5 84.5,65.5"/><polyline points="92.5,68.1 90.5,68.3 88.4,68.4 85.8,68.4 83.7,68.4 81.6,68.3 79.3,68.1 77.7,67.8 75.7,67.5 73.8,67.1 71.7,66.6 70.7,66.1 69.2,65.5 67.8,64.9 67.0,64.3 66.1,63.6"/><polyline points="86.8,64.0 86.7,64.0 86.3,64.0 86.0,64.0 85.6,64.0 85.0,64.0 84.8,64.0 84.4,64.0 84.2,63.9 83.7,63.9 83.2,63.9 83.1,63.8 83.0,63.8 82.2,63.7 82.3,63.7 81.5,63.6"/><polyline points="85.8,58.3 86.8,58.3 88.3,58.4 89.1,58.5 90.2,58.7 91.6,58.9 92.3,59.2 93.2,59.6 93.8,59.9 94.5,60.3 94.5,60.8 94.9,61.2 94.8,61.6 94.7,62.1 94.1,62.5 93.7,62.9"/><polyline points="89.1,66.6 88.1,66.7 86.1,66.8 84.6,66.7 83.1,66.7 82.1,66.5 80.3,66.3 78.9,66.1 77.5,65.8 76.3,65.4 75.6,65.0 74.6,64.6 73.8,64.1 73.1,63.6 72.2,63.1 72.1,62.5"/><polyline points="90.2,56.6 91.9,56.9 93.1,57.3 94.1,57.8 94.5,58.4 95.3,59.0 95.8,59.7 96.1,60.4 96.7,61.1 96.7,61.8 96.4,62.5 96.1,63.2 95.4,63.9 94.4,64.5 93.4,65.0 92.4,65.5"/><polyline points="78.3,67.0 77.1,66.8 75.8,66.5 74.9,66.2 73.6,65.8 72.5,65.4 72.0,65.0 70.9,64.6 70.4,64.1 69.6,63.6 68.8,63.1 68.7,62.6 68.4,62.1 68.5,61.6 68.3,61.0 68.7,60.5"/><polyline points="95.1,57.7 95.2,57.9 95.5,58.0 96.1,58.2 96.9,58.4 97.4,58.6 97.2,58.8 97.9,59.0 98.2,59.2 98.7,59.4 98.6,59.6 99.0,59.9 99.1,60.1 99.5,60.3 99.3,60.6 99.8,60.8"/><polyline points="82.9,58.3 84.0,58.2 84.5,58.2 85.8,58.2 86.6,58.2 87.5,58.2 88.2,58.3 88.9,58.3 89.7,58.5 90.5,58.6 91.5,58.8 91.7,58.9 92.8,59.1 92.8,59.4 93.4,59.6 93.9,59.9"/></g><g stroke="#f2f2f2" stroke-width="0.65" fill="none" opacity="0.85"><polyline points="89.2,63.6 88.4,63.7 87.4,63.6 86.4,63.6 85.3,63.5 84.3,63.3 83.3,63.1 82.9,62.9 82.0,62.6 81.3,62.3 80.2,62.0 79.7,61.6 79.3,61.2 78.7,60.8 78.0,60.3 77.8,59.9"/><polyline points="95.4,64.7 94.1,64.9 92.3,65.0 90.9,65.1 89.5,65.2 88.1,65.2 86.8,65.2 85.1,65.1 83.8,65.0 82.3,64.9 81.5,64.7 80.0,64.5 78.3,64.3 77.6,64.0 75.9,63.7 74.9,63.4"/><polyline points="85.6,47.2 87.8,47.2 89.3,47.2 91.2,47.3 93.2,47.5 94.8,47.8 96.7,48.1 98.7,48.5 100.2,49.0 101.6,49.5 103.1,50.2 104.3,50.8 105.3,51.6 106.6,52.3 107.4,53.1 108.4,54.0"/><polyline points="69.9,54.3 71.0,53.4 72.7,52.6 74.5,51.9 76.3,51.3 78.3,50.8 80.6,50.3 82.8,50.0 85.2,49.8 87.5,49.7 89.9,49.8 92.5,49.9 94.5,50.2 96.9,50.6 99.3,51.0 101.2,51.6"/><polyline points="74.6,60.6 73.9,60.1 73.6,59.7 73.4,59.2 72.7,58.7 72.9,58.2 72.9,57.7 72.8,57.2 73.1,56.8 73.8,56.3 73.7,55.8 74.6,55.4 75.1,55.0 76.2,54.6 77.2,54.2 78.0,53.8"/><polyline points="82.5,57.4 82.8,57.1 83.2,56.8 83.3,56.5 83.7,56.3 84.5,56.1 84.6,55.9 85.4,55.7 85.9,55.6 86.7,55.5 87.0,55.5 88.2,55.4 88.5,55.4 89.0,55.5 89.8,55.6 90.5,55.7"/><polyline points="84.3,58.8 84.0,58.7 83.8,58.5 84.0,58.3 84.1,58.1 83.9,57.9 83.8,57.7 84.2,57.5 84.1,57.3 84.3,57.1 84.5,57.0 85.2,56.8 85.6,56.7 85.8,56.6 86.2,56.5 86.7,56.4"/><polyline points="83.4,61.5 82.7,61.2 81.9,60.8 81.3,60.5 81.0,60.1 80.4,59.6 80.5,59.2 80.0,58.7 80.2,58.3 79.9,57.8 80.0,57.3 80.2,56.9 80.5,56.4 80.8,56.0 81.1,55.6 82.0,55.2"/><polyline points="85.1,61.1 84.5,61.0 83.8,60.9 82.9,60.7 82.6,60.5 81.9,60.3 80.9,60.1 80.8,59.9 80.4,59.6 80.0,59.4 79.3,59.1 79.5,58.8 79.2,58.5 78.7,58.2 78.7,57.9 79.4,57.6"/></g><g stroke="#f2f2f2" stroke-width="0.65" fill="none" opacity="0.85"><polyline points="71.4,56.9 70.6,57.0 70.3,56.9 69.6,56.9 68.5,56.8 68.3,56.7 67.5,56.6 67.1,56.4 66.5,56.2 66.2,56.1 65.8,55.8 65.6,55.6 65.0,55.4 65.2,55.2 65.1,54.9 65.3,54.7"/><polyline points="59.6,52.9 59.8,52.5 60.4,52.1 60.5,51.8 61.2,51.4 61.5,51.1 62.3,50.8 62.8,50.5 63.5,50.2 64.3,49.9 64.5,49.7 65.7,49.5 66.2,49.3 67.0,49.2 67.8,49.0 68.7,48.9"/><polyline points="81.4,53.9 81.5,54.1 81.3,54.3 81.7,54.6 81.8,54.8 81.9,55.0 81.6,55.2 81.9,55.4 81.6,55.6 81.5,55.8 81.6,56.0 81.0,56.2 81.2,56.4 81.0,56.6 80.6,56.8 80.7,57.0"/><polyline points="60.3,54.3 60.7,53.8 61.1,53.3 61.8,52.8 62.7,52.3 63.2,51.9 64.5,51.5 65.3,51.2 66.5,51.0 67.5,50.8 68.9,50.6 70.5,50.6 71.6,50.6 73.0,50.6 73.9,50.8 75.2,51.0"/><polyline points="64.4,51.9 65.8,51.5 66.8,51.3 67.7,51.1 68.5,50.9 69.8,50.8 70.8,50.8 72.1,50.9 73.6,51.0 74.5,51.1 75.6,51.3 76.7,51.6 77.6,52.0 78.2,52.3 78.9,52.8 79.5,53.2"/><polyline points="64.1,48.3 64.9,48.1 66.1,47.9 66.7,47.8 67.7,47.7 68.7,47.6 70.1,47.6 71.2,47.6 72.1,47.6 73.0,47.6 74.3,47.7 75.3,47.8 76.1,47.9 76.9,48.1 77.9,48.3 78.9,48.5"/><polyline points="64.5,51.9 65.9,51.6 66.8,51.3 68.2,51.2 69.9,51.1 71.1,51.0 72.7,51.1 73.7,51.2 74.7,51.4 76.2,51.7 77.4,52.0 78.5,52.4 79.4,52.8 79.7,53.3 80.2,53.8 80.3,54.4"/><polyline points="79.6,59.5 79.5,59.6 78.6,59.7 78.6,59.9 77.5,60.0 77.3,60.1 76.3,60.1 75.6,60.2 75.4,60.3 74.5,60.3 74.2,60.4 73.2,60.4 72.5,60.5 72.3,60.5 71.6,60.5 71.0,60.5"/><polyline points="59.1,51.0 60.8,50.6 62.1,50.3 64.3,50.0 66.0,49.7 67.5,49.6 69.4,49.5 71.8,49.5 73.9,49.6 75.4,49.7 77.4,49.9 79.4,50.2 80.7,50.5 82.7,50.9 83.9,51.4 84.8,51.9"/></g><g stroke="#f2f2f2" stroke-width="0.65" fill="none" opacity="0.85"><polyline points="57.9,63.3 56.9,63.7 55.6,64.0 54.0,64.3 52.6,64.4 51.3,64.5 49.9,64.5 48.4,64.4 46.8,64.2 45.3,63.9 43.8,63.5 43.2,63.1 42.0,62.6 41.1,62.1 40.1,61.5 39.6,60.8"/><polyline points="33.3,52.4 34.6,51.8 35.3,51.2 36.7,50.6 37.8,50.1 39.3,49.7 40.6,49.3 41.7,48.9 43.0,48.6 44.6,48.4 46.3,48.2 47.9,48.0 49.6,48.0 51.2,47.9 52.3,48.0 54.3,48.1"/><polyline points="34.2,54.7 34.8,54.1 35.4,53.5 36.3,53.0 36.8,52.5 37.5,52.0 38.7,51.6 39.9,51.2 40.6,50.8 42.0,50.4 43.3,50.1 44.1,49.9 45.5,49.7 46.8,49.5 47.9,49.4 49.1,49.3"/><polyline points="52.7,54.9 53.9,55.0 54.5,55.1 54.9,55.3 55.8,55.5 56.5,55.7 57.1,56.0 57.4,56.2 57.8,56.5 58.3,56.9 58.4,57.2 58.7,57.5 58.9,57.9 59.3,58.3 59.2,58.6 59.4,59.0"/><polyline points="57.7,62.8 56.9,62.9 56.3,63.0 56.2,63.1 55.8,63.2 55.0,63.3 54.8,63.4 54.2,63.5 53.8,63.5 53.0,63.6 52.5,63.6 52.6,63.7 52.0,63.7 51.3,63.7 50.9,63.7 50.2,63.7"/><polyline points="67.9,56.5 68.6,57.3 68.5,58.2 68.5,59.1 68.4,60.0 67.9,60.9 67.1,61.7 66.1,62.5 65.2,63.3 64.0,63.9 62.2,64.6 60.7,65.1 58.7,65.5 56.2,65.8 54.4,66.1 52.1,66.2"/><polyline points="50.5,62.2 50.1,62.2 49.3,62.1 48.6,62.0 48.0,61.9 47.3,61.7 47.3,61.6 46.8,61.3 45.9,61.1 45.5,60.8 45.2,60.6 45.0,60.3 45.1,60.0 45.0,59.6 44.8,59.3 44.3,59.0"/><polyline points="39.5,52.0 41.7,51.3 44.5,50.8 47.1,50.4 49.6,50.3 52.0,50.3 54.8,50.4 57.4,50.8 59.4,51.3 61.7,52.0 63.6,52.9 65.2,53.8 66.8,54.9 67.7,56.1 68.4,57.3 68.7,58.5"/><polyline points="47.1,54.1 48.6,54.0 49.2,54.0 50.6,54.0 51.6,54.0 52.5,54.0 53.1,54.1 54.2,54.1 55.0,54.2 56.4,54.3 57.3,54.4 58.0,54.5 58.8,54.6 59.6,54.8 60.7,55.0 61.2,55.2"/></g><g stroke="#f2f2f2" stroke-width="0.65" fill="none" opacity="0.85"><polyline points="67.0,51.3 68.2,51.2 68.6,51.2 69.5,51.2 70.1,51.2 70.9,51.3 72.0,51.4 72.5,51.5 73.0,51.6 73.9,51.7 74.4,51.9 75.3,52.1 75.3,52.3 76.2,52.5 76.0,52.7 76.8,52.9"/><polyline points="53.0,54.5 52.8,54.1 52.9,53.7 53.3,53.3 53.4,52.9 53.6,52.5 53.3,52.1 53.8,51.8 54.6,51.4 54.6,51.0 55.6,50.7 55.9,50.4 57.0,50.0 57.2,49.8 58.5,49.5 59.1,49.2"/><polyline points="72.0,52.0 72.7,52.1 73.5,52.2 73.5,52.4 74.1,52.5 74.2,52.7 74.6,52.8 75.2,53.0 75.4,53.2 75.2,53.3 75.2,53.5 75.2,53.7 75.5,53.9 75.4,54.1 75.1,54.3 74.8,54.5"/><polyline points="74.5,47.1 75.8,47.4 77.5,47.8 78.5,48.2 79.8,48.7 80.5,49.2 81.8,49.8 82.3,50.5 83.2,51.1 83.7,51.8 83.8,52.6 83.7,53.3 84.2,54.0 83.8,54.7 83.8,55.5 83.0,56.2"/><polyline points="64.0,56.5 63.8,56.3 63.2,56.2 63.2,56.0 62.9,55.8 62.7,55.7 62.3,55.5 62.4,55.3 62.3,55.1 62.2,54.9 61.8,54.7 61.9,54.5 61.6,54.3 61.8,54.0 61.4,53.8 61.9,53.6"/><polyline points="47.9,53.0 47.9,52.1 48.9,51.3 49.1,50.4 49.9,49.7 50.9,48.9 52.1,48.2 53.8,47.5 54.8,46.9 56.5,46.4 58.5,45.9 60.1,45.5 61.9,45.2 64.2,45.0 66.2,44.8 68.2,44.7"/><polyline points="80.1,49.7 81.4,50.2 82.8,50.7 83.8,51.3 84.5,51.8 84.9,52.4 85.4,53.1 85.4,53.7 85.6,54.3 85.4,54.9 84.4,55.5 83.9,56.1 83.1,56.7 81.6,57.2 80.6,57.6 79.2,58.1"/><polyline points="74.8,49.9 76.0,50.2 76.7,50.5 77.2,50.8 77.7,51.1 78.4,51.5 78.9,51.9 79.6,52.3 79.8,52.7 80.1,53.1 80.1,53.5 80.2,53.9 79.6,54.4 79.7,54.8 79.6,55.2 79.2,55.6"/><polyline points="63.3,51.2 63.5,51.0 64.3,50.8 64.9,50.7 65.2,50.6 65.9,50.5 67.0,50.4 67.6,50.3 68.3,50.3 68.8,50.3 69.6,50.3 70.3,50.3 71.0,50.3 71.1,50.4 72.1,50.5 72.5,50.6"/></g><g stroke="#f2f2f2" stroke-width="0.65" fill="none" opacity="0.85"><polyline points="62.5,50.2 63.2,49.9 64.2,49.6 64.5,49.3 65.3,49.0 66.3,48.8 66.8,48.6 67.9,48.4 69.0,48.2 69.7,48.1 70.4,48.0 71.4,48.0 72.4,48.0 73.1,48.0 74.0,48.0 74.9,48.1"/><polyline points="70.0,58.9 69.7,58.8 69.3,58.8 68.6,58.7 68.0,58.5 67.6,58.4 66.8,58.3 66.6,58.1 66.0,58.0 65.6,57.8 65.3,57.6 64.8,57.4 64.4,57.2 64.1,57.0 63.8,56.8 63.7,56.5"/><polyline points="83.6,55.6 83.1,56.0 83.1,56.4 82.9,56.8 82.5,57.1 82.5,57.5 81.7,57.8 81.5,58.1 80.7,58.4 80.0,58.7 79.9,58.9 79.0,59.2 78.1,59.4 77.5,59.6 76.8,59.7 76.2,59.9"/><polyline points="78.1,54.7 78.3,55.0 78.4,55.2 78.5,55.5 78.4,55.7 78.3,56.0 78.0,56.2 77.5,56.4 77.2,56.6 76.7,56.8 76.2,57.0 75.4,57.1 75.0,57.2 74.3,57.3 73.7,57.4 72.5,57.4"/><polyline points="74.4,49.4 76.7,49.5 78.4,49.6 80.2,49.8 82.2,50.1 84.0,50.4 85.4,50.8 86.7,51.2 88.1,51.7 89.2,52.2 90.4,52.7 90.9,53.3 91.5,53.9 92.0,54.5 92.1,55.1 92.0,55.7"/><polyline points="54.1,55.3 54.3,54.5 54.4,53.7 55.0,52.9 55.5,52.1 55.8,51.4 57.0,50.6 57.5,50.0 58.8,49.3 59.8,48.7 61.1,48.2 61.9,47.7 63.3,47.2 65.0,46.9 66.0,46.5 67.5,46.3"/><polyline points="84.9,52.4 86.0,53.1 86.2,53.8 86.5,54.5 86.8,55.2 86.5,56.0 86.2,56.7 85.8,57.4 85.0,58.1 84.4,58.7 83.2,59.3 81.9,59.8 80.3,60.2 78.9,60.6 77.4,60.9 75.8,61.1"/><polyline points="86.4,53.6 86.8,54.3 87.1,55.0 86.7,55.7 86.7,56.4 86.6,57.0 85.9,57.7 85.5,58.3 85.3,58.9 84.5,59.5 83.5,60.1 82.4,60.6 81.9,61.0 80.7,61.4 79.6,61.8 78.6,62.1"/><polyline points="83.6,62.0 82.4,62.3 80.9,62.6 79.6,62.8 78.6,63.0 77.2,63.2 75.6,63.3 74.6,63.3 73.0,63.4 71.2,63.4 70.0,63.3 68.8,63.2 67.2,63.1 66.1,62.9 64.3,62.7 63.2,62.5"/></g><g stroke="#f2f2f2" stroke-width="0.65" fill="none" opacity="0.85"><polyline points="67.8,59.1 68.1,58.6 68.2,58.0 68.9,57.5 69.1,56.9 69.7,56.4 70.3,56.0 71.3,55.5 72.7,55.1 73.5,54.7 74.7,54.4 76.1,54.1 77.8,53.9 79.5,53.7 80.9,53.5 82.6,53.5"/><polyline points="84.7,57.5 84.9,57.5 85.2,57.5 85.6,57.6 85.8,57.6 86.7,57.7 86.8,57.7 87.0,57.8 87.3,57.9 87.6,58.0 87.6,58.0 88.3,58.1 88.4,58.2 88.8,58.3 88.6,58.4 88.9,58.5"/><polyline points="91.5,57.9 92.3,58.2 92.5,58.6 92.3,58.9 92.5,59.3 92.5,59.6 91.9,59.9 91.7,60.3 90.7,60.6 90.1,60.8 89.5,61.1 88.3,61.3 87.4,61.4 86.7,61.6 85.4,61.6 84.4,61.7"/><polyline points="79.0,61.3 78.2,61.2 78.0,61.0 77.4,60.9 77.3,60.8 76.9,60.6 76.7,60.5 76.2,60.3 76.0,60.2 76.3,60.0 75.8,59.9 75.6,59.7 75.5,59.5 75.5,59.4 75.4,59.2 75.3,59.0"/><polyline points="92.6,64.1 91.1,64.5 89.8,64.8 87.6,65.0 86.0,65.1 84.4,65.2 82.5,65.2 80.3,65.0 78.7,64.8 77.2,64.6 75.4,64.2 74.2,63.8 72.4,63.4 71.6,62.8 70.3,62.2 69.3,61.6"/><polyline points="80.9,55.1 81.5,55.1 82.2,55.0 82.9,55.0 84.0,55.0 84.6,55.0 85.8,55.0 86.2,55.1 87.2,55.1 88.0,55.2 88.6,55.3 89.6,55.4 90.1,55.6 91.0,55.7 91.6,55.9 92.1,56.1"/><polyline points="88.7,62.2 87.6,62.4 85.9,62.5 84.7,62.6 83.2,62.6 81.8,62.5 80.3,62.4 78.8,62.2 77.7,62.0 76.5,61.7 75.5,61.4 74.9,61.0 73.9,60.6 73.5,60.2 73.4,59.7 73.1,59.3"/><polyline points="97.1,66.6 96.4,67.1 95.3,67.5 93.9,67.9 92.8,68.2 91.7,68.5 90.4,68.8 88.8,69.0 87.8,69.1 86.1,69.2 84.9,69.3 83.3,69.3 81.9,69.2 81.0,69.1 79.5,69.0 78.2,68.8"/><polyline points="86.3,60.3 86.1,60.3 85.6,60.4 85.5,60.4 85.5,60.4 84.9,60.5 85.0,60.5 84.6,60.5 84.4,60.5 83.8,60.5 83.6,60.5 83.5,60.5 83.0,60.5 82.5,60.5 82.7,60.4 82.4,60.4"/></g><g stroke="#f2f2f2" stroke-width="0.65" fill="none" opacity="0.85"><polyline points="63.3,55.1 63.3,55.6 62.5,56.2 62.3,56.7 61.6,57.2 60.5,57.7 60.1,58.1 59.0,58.5 58.3,59.0 57.4,59.3 56.1,59.7 54.9,60.0 54.3,60.3 52.8,60.5 51.9,60.7 50.6,60.9"/><polyline points="32.8,46.2 34.3,45.7 35.4,45.2 36.7,44.8 38.4,44.5 39.3,44.2 41.2,44.0 42.2,43.8 44.1,43.8 45.7,43.7 46.9,43.8 48.6,43.9 50.3,44.1 51.6,44.4 52.9,44.7 54.1,45.1"/><polyline points="40.6,53.6 40.4,53.5 40.6,53.3 40.4,53.2 40.1,53.1 40.0,53.0 40.1,52.9 40.0,52.8 40.2,52.6 39.9,52.5 39.9,52.4 40.2,52.3 39.8,52.2 40.2,52.0 40.1,51.9 40.5,51.8"/><polyline points="51.8,58.5 50.4,58.8 49.1,59.0 47.6,59.2 45.7,59.3 44.3,59.3 42.8,59.2 41.2,59.1 39.6,58.8 38.4,58.5 37.0,58.1 36.1,57.7 34.8,57.1 33.6,56.5 32.9,55.9 32.3,55.2"/><polyline points="54.8,54.1 54.5,54.2 53.9,54.3 54.0,54.5 53.9,54.6 53.4,54.7 52.9,54.8 52.8,54.9 52.5,55.1 52.0,55.2 51.9,55.3 51.3,55.3 51.5,55.4 50.9,55.5 50.6,55.6 50.4,55.7"/><polyline points="45.2,58.2 44.7,58.2 43.9,58.2 42.7,58.2 41.8,58.1 41.2,58.1 40.5,58.0 39.8,57.9 38.5,57.7 38.1,57.6 37.4,57.5 36.6,57.3 35.6,57.1 34.9,56.9 34.6,56.7 33.7,56.5"/><polyline points="37.6,55.9 36.6,55.5 36.1,55.0 35.5,54.5 35.1,53.9 34.7,53.3 34.7,52.7 34.7,52.1 34.6,51.6 35.0,51.0 35.3,50.4 36.1,49.9 37.1,49.4 37.8,49.0 39.2,48.6 40.1,48.3"/><polyline points="55.1,56.0 54.7,56.2 54.7,56.5 53.9,56.7 54.1,56.9 53.7,57.1 53.3,57.3 52.7,57.5 52.2,57.7 52.0,57.8 51.5,58.0 51.0,58.2 50.4,58.3 50.0,58.4 49.7,58.5 49.3,58.6"/><polyline points="39.3,59.1 37.5,59.0 35.8,58.7 34.2,58.4 32.9,58.1 31.6,57.7 30.6,57.3 29.4,56.8 28.4,56.3 27.5,55.8 26.7,55.3 25.9,54.7 25.5,54.1 24.7,53.5 24.9,52.9 24.8,52.3"/></g><g stroke="#e8e8e8" stroke-width="0.6" fill="none" opacity="0.7"><path d="M41.6 59.7 Q44.5 60.3 46.5 62.1"/><path d="M45.9 67.2 Q48.2 66.2 49.4 65.4"/><path d="M21.9 61.9 Q24.6 61.6 27.8 61.1"/><path d="M66.5 55.5 Q69.5 54.9 70.1 54.0"/><path d="M24.4 66.7 Q26.2 65.5 27.8 65.8"/><path d="M59.5 59.3 Q61.2 58.5 65.1 57.7"/><path d="M68.7 47.9 Q70.2 48.9 72.1 47.6"/><path d="M65.2 63.2 Q68.4 64.3 68.7 64.1"/><path d="M23.5 65.9 Q26.8 65.9 27.3 65.5"/><path d="M86.1 49.3 Q86.9 49.3 89.2 50.2"/><path d="M15.4 60.3 Q18.2 59.4 19.7 59.0"/><path d="M96.6 60.9 Q100.6 63.1 102.1 63.0"/><path d="M29.6 63.9 Q33.5 64.3 36.4 62.8"/><path d="M25.4 55.0 Q29.8 54.5 32.9 56.8"/><path d="M70.2 48.4 Q72.5 49.8 77.2 48.7"/><path d="M76.8 52.1 Q80.3 51.6 81.8 50.5"/><path d="M24.6 46.5 Q26.9 45.3 31.0 43.8"/><path d="M41.0 62.5 Q43.9 62.4 44.7 62.0"/><path d="M78.1 65.4 Q79.0 65.0 80.9 66.7"/><path d="M60.7 67.0 Q61.2 68.4 63.7 67.9"/><path d="M77.2 55.4 Q80.1 55.1 81.0 55.3"/><path d="M95.2 60.7 Q96.5 60.9 99.4 58.7"/><path d="M68.8 47.0 Q71.0 46.5 73.3 45.5"/><path d="M50.1 54.5 Q52.2 51.7 55.3 51.7"/><path d="M56.7 69.7 Q58.9 68.2 60.1 68.0"/><path d="M39.4 58.0 Q42.3 58.7 45.1 56.6"/><path d="M106.3 46.8 Q110.8 47.8 113.1 47.2"/><path d="M72.9 61.2 Q75.9 62.0 77.2 60.6"/><path d="M101.3 62.4 Q105.4 61.7 108.0 61.0"/><path d="M73.1 54.4 Q74.3 54.0 78.1 54.7"/><path d="M44.1 69.7 Q45.7 68.9 48.9 69.6"/><path d="M46.5 49.3 Q49.6 47.4 53.0 45.8"/><path d="M66.9 53.3 Q67.9 52.1 70.0 52.2"/><path d="M81.6 59.2 Q85.0 60.5 85.8 61.2"/><path d="M21.4 50.3 Q25.0 51.4 29.4 50.9"/><path d="M53.8 66.8 Q57.5 65.0 58.8 64.6"/><path d="M38.0 46.6 Q40.6 45.0 42.0 45.1"/><path d="M51.2 50.8 Q55.2 50.3 58.4 51.6"/><path d="M82.3 69.1 Q84.9 70.4 85.6 69.5"/><path d="M45.7 49.3 Q49.6 48.8 51.1 47.5"/><path d="M99.8 51.1 Q103.6 50.2 106.5 49.9"/><path d="M77.1 54.1 Q78.1 53.4 81.7 51.9"/><path d="M45.1 57.9 Q47.1 56.6 49.4 58.3"/><path d="M100.1 59.5 Q101.8 61.0 102.9 61.1"/><path d="M44.6 48.2 Q47.2 46.4 48.1 47.0"/><path d="M89.7 56.2 Q92.8 56.7 95.6 56.4"/><path d="M69.9 53.9 Q72.7 55.2 74.1 55.0"/><path d="M86.2 53.4 Q89.8 53.8 93.8 55.5"/><path d="M62.7 68.6 Q64.0 68.5 65.5 67.5"/><path d="M86.0 54.7 Q88.6 54.4 89.7 56.6"/><path d="M16.6 49.2 Q19.3 47.1 21.6 46.9"/><path d="M101.4 54.8 Q103.9 55.4 105.0 53.4"/><path d="M29.1 46.7 Q32.5 47.3 33.1 47.9"/><path d="M73.2 54.3 Q75.2 56.3 78.2 55.8"/><path d="M24.0 63.6 Q26.6 63.4 29.7 61.0"/><path d="M19.6 59.5 Q24.7 59.6 27.1 58.9"/><path d="M34.8 52.0 Q36.5 50.5 39.9 50.8"/><path d="M84.6 61.4 Q87.7 60.8 92.4 59.8"/><path d="M28.6 66.7 Q31.4 68.5 32.6 68.3"/><path d="M40.3 54.0 Q43.0 54.5 47.7 53.8"/><path d="M69.6 56.9 Q72.4 58.3 77.0 57.5"/><path d="M47.5 64.7 Q50.4 66.9 51.2 66.1"/><path d="M41.7 46.6 Q43.8 46.3 49.0 43.6"/><path d="M28.0 63.7 Q30.3 61.7 31.6 62.2"/><path d="M45.6 68.0 Q50.6 67.4 52.8 69.6"/><path d="M35.8 65.0 Q37.4 64.5 39.0 65.6"/><path d="M54.0 48.5 Q57.0 47.8 61.1 44.8"/><path d="M25.2 57.7 Q26.6 57.3 30.0 55.9"/><path d="M27.8 63.7 Q29.1 63.7 31.3 63.7"/><path d="M99.4 54.4 Q104.3 54.0 107.0 52.2"/><path d="M39.4 50.3 Q39.6 49.9 42.6 49.5"/><path d="M52.0 59.4 Q54.0 59.6 55.0 58.9"/><path d="M64.6 59.2 Q69.6 60.6 72.4 60.7"/><path d="M51.1 53.6 Q54.7 53.0 59.0 53.0"/><path d="M52.1 49.4 Q53.8 51.4 54.8 50.9"/><path d="M37.7 60.7 Q38.9 59.3 41.9 60.1"/><path d="M92.4 64.8 Q94.5 64.9 95.4 66.1"/><path d="M74.1 59.2 Q76.5 59.2 81.8 57.7"/><path d="M93.4 58.2 Q96.5 59.0 101.3 59.0"/><path d="M83.1 55.1 Q85.6 56.0 88.0 56.1"/><path d="M77.0 53.7 Q79.0 54.4 82.6 54.5"/><path d="M38.6 67.8 Q42.0 67.7 45.2 67.6"/><path d="M34.6 49.4 Q37.2 50.7 39.7 51.7"/><path d="M89.6 51.7 Q92.9 51.0 96.4 49.4"/><path d="M91.0 67.5 Q92.1 69.0 94.0 68.6"/><path d="M90.1 49.0 Q90.9 47.8 94.1 47.5"/><path d="M88.7 58.5 Q90.1 59.9 92.1 58.4"/><path d="M78.6 56.8 Q82.9 55.7 85.6 56.6"/><path d="M77.3 54.8 Q79.0 54.4 81.4 54.9"/><path d="M49.4 46.4 Q50.9 44.6 55.0 44.7"/><path d="M80.8 52.6 Q83.9 51.0 84.9 51.9"/><path d="M73.2 66.6 Q76.5 66.2 78.1 65.1"/><path d="M48.6 47.1 Q51.6 46.3 53.4 46.8"/><path d="M51.9 61.6 Q53.9 62.5 56.5 63.0"/><path d="M100.0 50.6 Q102.5 52.6 105.9 53.6"/><path d="M44.6 47.7 Q47.1 48.3 49.4 48.9"/><path d="M97.8 64.2 Q100.4 62.7 103.1 61.4"/><path d="M92.1 56.0 Q95.6 55.8 99.5 55.8"/><path d="M61.6 65.8 Q64.6 65.0 68.2 66.9"/><path d="M77.2 59.3 Q79.4 59.4 83.8 61.1"/><path d="M21.2 65.6 Q23.5 65.1 24.3 64.3"/><path d="M19.1 62.3 Q20.4 63.5 24.4 63.5"/><path d="M52.9 60.0 Q57.1 60.6 59.1 63.4"/><path d="M45.1 58.4 Q47.9 55.8 52.1 54.7"/><path d="M43.1 52.1 Q45.9 52.9 48.5 54.2"/><path d="M18.8 53.3 Q23.1 53.8 25.3 55.8"/><path d="M32.8 47.3 Q35.1 47.3 37.7 47.4"/><path d="M68.3 54.8 Q71.5 55.5 72.1 56.0"/><path d="M18.8 53.5 Q21.5 53.1 23.8 53.7"/><path d="M39.4 65.1 Q43.6 64.7 45.9 63.7"/><path d="M56.3 68.4 Q58.6 68.0 63.7 68.0"/><path d="M73.5 47.2 Q75.3 46.8 76.6 48.4"/><path d="M99.8 59.5 Q102.9 60.8 105.0 61.1"/><path d="M41.4 51.1 Q44.4 50.8 44.9 52.3"/><path d="M23.4 48.3 Q26.8 49.8 30.8 50.5"/><path d="M38.0 67.7 Q38.5 68.7 41.7 68.4"/><path d="M17.9 66.1 Q20.2 65.1 22.0 65.2"/><path d="M66.1 49.7 Q69.3 49.6 70.4 51.5"/><path d="M88.3 69.5 Q89.6 69.8 91.5 69.2"/><path d="M34.8 59.1 Q37.9 57.8 39.7 57.0"/><path d="M77.1 48.7 Q80.1 50.8 80.6 49.9"/><path d="M101.4 58.6 Q104.4 58.1 106.0 57.6"/><path d="M100.5 48.2 Q104.4 48.3 107.8 48.1"/><path d="M22.2 49.4 Q26.9 47.7 29.5 47.7"/><path d="M100.0 46.8 Q103.4 48.5 107.8 47.6"/><path d="M75.1 47.2 Q76.9 47.5 80.2 46.3"/><path d="M30.6 64.9 Q32.5 63.4 33.9 64.2"/><path d="M65.3 64.9 Q66.5 65.2 70.6 65.4"/><path d="M23.0 61.5 Q25.3 60.1 28.5 59.4"/><path d="M75.7 49.9 Q78.8 49.7 83.0 47.4"/><path d="M95.2 57.5 Q98.0 55.8 98.5 56.3"/><path d="M60.1 58.9 Q61.6 58.0 65.1 56.9"/><path d="M61.1 54.8 Q62.6 52.9 65.9 53.3"/><path d="M36.3 66.9 Q38.6 68.3 43.8 66.9"/><path d="M59.4 65.0 Q61.8 66.0 65.9 65.4"/><path d="M28.3 52.3 Q30.6 50.6 32.7 50.1"/><path d="M96.8 48.0 Q99.2 49.0 101.0 48.4"/><path d="M80.1 47.5 Q84.5 45.4 85.9 46.0"/><path d="M71.5 62.6 Q74.7 63.2 76.0 64.1"/><path d="M99.6 46.3 Q101.6 46.1 104.2 48.4"/><path d="M36.8 63.6 Q38.2 62.9 40.5 64.3"/><path d="M32.4 51.3 Q37.8 51.5 40.2 49.9"/><path d="M58.6 57.9 Q63.0 59.4 65.9 60.0"/><path d="M32.5 61.0 Q34.5 62.8 39.0 63.4"/><path d="M46.5 49.9 Q50.1 50.2 52.2 52.8"/><path d="M91.0 68.5 Q95.1 70.7 97.2 71.1"/><path d="M68.9 56.4 Q73.3 57.0 75.5 58.7"/><path d="M103.4 58.8 Q106.4 60.4 106.6 60.3"/><path d="M37.4 66.1 Q39.2 64.8 41.3 65.1"/><path d="M59.8 67.8 Q62.7 69.3 66.3 69.0"/><path d="M87.8 62.4 Q90.8 62.7 94.3 65.4"/><path d="M74.7 66.1 Q78.6 66.5 80.6 65.1"/><path d="M14.4 57.7 Q16.9 56.7 17.6 56.1"/><path d="M70.2 57.0 Q71.8 57.7 74.3 56.3"/><path d="M71.6 53.0 Q74.2 52.0 75.6 51.3"/><path d="M75.5 65.4 Q77.1 65.2 81.4 63.0"/><path d="M31.1 52.5 Q32.5 54.7 35.4 54.6"/><path d="M70.8 67.5 Q74.9 67.2 76.2 66.9"/><path d="M105.9 50.5 Q107.8 49.7 109.5 51.8"/><path d="M30.3 68.7 Q33.1 68.1 37.3 68.4"/><path d="M23.4 59.3 Q25.6 61.5 28.6 61.2"/><path d="M97.1 62.0 Q99.7 62.1 102.7 59.5"/><path d="M47.6 61.9 Q50.1 62.7 52.5 62.5"/><path d="M98.4 58.0 Q100.9 58.4 106.2 56.9"/><path d="M77.6 59.4 Q82.1 59.9 84.3 59.0"/><path d="M83.7 46.8 Q86.9 47.7 87.4 46.2"/><path d="M27.4 60.1 Q28.7 61.0 30.7 60.3"/><path d="M73.7 52.7 Q75.9 53.1 78.0 53.9"/><path d="M105.0 61.6 Q107.7 63.9 111.1 63.5"/><path d="M80.0 62.6 Q82.1 63.1 83.7 61.7"/><path d="M87.8 54.3 Q91.6 52.3 93.0 52.4"/><path d="M82.7 50.1 Q83.7 49.4 85.9 49.5"/><path d="M103.9 69.1 Q107.4 67.5 108.3 67.7"/><path d="M43.8 56.5 Q45.5 55.4 47.8 54.9"/><path d="M103.6 52.4 Q107.1 52.3 110.8 50.2"/><path d="M73.3 64.7 Q75.9 64.3 76.9 64.0"/><path d="M66.0 62.1 Q67.7 63.9 70.2 63.2"/><path d="M63.2 52.9 Q66.2 51.8 67.5 53.5"/><path d="M90.9 59.6 Q94.0 58.3 98.5 58.5"/><path d="M20.5 59.2 Q23.3 60.9 26.7 60.8"/></g></g><g filter="url(#blur03)"><g stroke="#d0d0d0" stroke-width="0.6" fill="none" opacity="0.6"><path d="M46.7 38.5 Q49.9 39.8 52.3 40.0"/><path d="M86.5 39.2 Q87.7 40.6 90.0 42.7"/><path d="M88.3 38.8 Q90.8 37.4 93.0 35.9"/><path d="M80.2 43.2 Q80.2 41.9 82.8 41.2"/><path d="M70.1 42.8 Q71.9 43.7 74.2 44.1"/><path d="M56.4 42.8 Q57.7 44.6 61.1 45.4"/><path d="M85.2 40.0 Q88.1 42.8 89.5 43.7"/><path d="M78.9 43.0 Q81.4 41.9 82.7 40.1"/><path d="M56.5 36.5 Q58.4 36.2 61.7 37.5"/><path d="M53.4 36.8 Q57.1 37.2 59.0 38.6"/><path d="M82.0 36.6 Q81.8 37.9 84.7 38.5"/><path d="M48.3 38.2 Q49.8 37.8 51.0 35.5"/><path d="M42.4 42.6 Q43.9 41.2 44.6 40.8"/><path d="M59.9 40.5 Q61.2 40.3 64.4 38.0"/><path d="M88.5 40.3 Q88.8 38.4 91.9 36.5"/><path d="M65.4 36.5 Q68.1 36.8 70.2 37.6"/><path d="M70.7 40.7 Q74.6 40.3 75.5 38.1"/><path d="M97.7 38.6 Q98.3 38.4 99.1 40.4"/><path d="M67.2 41.5 Q68.5 41.2 70.8 42.9"/><path d="M64.2 38.3 Q66.3 36.8 68.4 35.7"/><path d="M51.9 41.6 Q53.4 41.4 54.5 40.0"/><path d="M98.4 42.0 Q101.0 44.7 102.3 46.1"/><path d="M43.8 37.6 Q46.2 35.9 47.3 33.5"/><path d="M55.8 38.8 Q59.2 37.0 59.6 36.3"/><path d="M42.7 37.4 Q46.3 36.5 48.1 36.0"/><path d="M46.1 36.9 Q48.1 36.8 50.3 33.9"/><path d="M94.7 42.4 Q96.2 41.1 100.0 42.1"/><path d="M73.8 40.1 Q73.7 40.5 76.4 38.6"/><path d="M82.6 43.6 Q84.5 44.6 85.0 46.4"/><path d="M88.7 42.7 Q88.7 42.4 90.3 41.5"/><path d="M62.7 36.1 Q64.8 36.1 67.0 39.0"/><path d="M93.3 40.3 Q94.9 40.3 95.7 38.0"/><path d="M69.1 41.1 Q71.6 40.0 71.6 39.6"/><path d="M46.2 40.7 Q47.2 40.1 48.4 39.0"/><path d="M78.2 41.7 Q80.0 40.2 80.4 41.4"/><path d="M68.2 39.2 Q69.8 40.4 72.9 40.7"/><path d="M81.5 39.8 Q84.1 36.8 86.0 36.4"/><path d="M54.3 43.9 Q56.8 44.0 57.5 42.2"/><path d="M78.0 41.9 Q80.3 42.0 79.6 40.2"/><path d="M42.3 36.4 Q44.0 35.6 47.4 33.8"/></g><g stroke="#e8e8e8" stroke-width="0.6" fill="none" opacity="0.6"><path d="M91.2 32.9 Q92.3 32.1 95.6 34.1"/><path d="M81.6 25.5 Q84.2 27.4 88.6 27.5"/><path d="M49.0 31.2 Q53.9 31.5 56.5 29.4"/><path d="M40.1 35.9 Q44.1 36.4 48.0 36.2"/><path d="M72.7 35.2 Q74.4 34.1 75.9 34.4"/><path d="M61.8 24.1 Q64.4 25.3 64.9 24.6"/><path d="M65.2 25.7 Q67.1 24.7 69.4 26.1"/><path d="M93.7 31.6 Q96.2 32.5 97.3 31.3"/><path d="M86.7 25.4 Q89.8 24.2 91.5 25.0"/><path d="M73.4 37.7 Q73.6 36.8 76.4 38.2"/><path d="M78.1 32.4 Q80.7 32.8 83.8 32.5"/><path d="M75.7 36.8 Q80.8 38.4 83.4 37.9"/><path d="M79.4 24.4 Q83.2 26.0 87.5 25.3"/><path d="M49.9 37.2 Q52.8 36.5 57.1 36.9"/><path d="M59.2 28.5 Q63.4 28.3 64.7 27.2"/><path d="M91.3 34.7 Q96.4 34.9 100.1 36.5"/><path d="M53.7 29.8 Q57.0 30.4 57.9 28.5"/><path d="M58.1 34.8 Q63.1 35.6 66.3 36.2"/><path d="M45.8 35.6 Q48.7 35.3 52.5 34.8"/><path d="M93.1 26.3 Q96.7 27.6 100.0 26.4"/><path d="M62.4 36.8 Q65.6 36.4 71.2 37.8"/><path d="M55.8 36.7 Q58.6 37.5 60.2 35.4"/><path d="M49.7 30.1 Q54.0 31.3 56.8 30.9"/><path d="M53.7 27.6 Q56.2 25.9 60.5 25.6"/><path d="M93.0 33.0 Q96.8 33.8 100.0 33.4"/><path d="M56.7 24.9 Q57.8 23.4 59.7 24.1"/><path d="M46.2 30.9 Q48.9 32.7 53.1 32.9"/><path d="M49.8 25.4 Q53.1 24.9 55.2 24.8"/><path d="M80.1 25.3 Q83.5 24.6 84.9 26.6"/><path d="M85.6 27.2 Q89.9 27.3 93.2 28.8"/><path d="M40.5 26.7 Q42.9 27.4 44.4 27.6"/><path d="M76.4 26.5 Q79.6 25.8 79.9 25.8"/><path d="M75.9 32.0 Q76.1 32.8 79.2 31.4"/><path d="M47.2 37.5 Q49.7 38.0 54.5 36.9"/><path d="M53.8 29.1 Q54.9 30.0 57.5 29.2"/><path d="M55.7 29.3 Q56.9 28.8 60.0 30.0"/><path d="M61.1 29.1 Q65.1 28.0 66.9 29.6"/><path d="M76.5 35.7 Q77.9 34.3 79.6 35.2"/><path d="M65.3 34.0 Q67.0 32.5 68.9 33.1"/><path d="M52.7 30.2 Q53.9 29.7 56.0 29.4"/><path d="M91.5 31.8 Q94.3 31.4 95.7 30.7"/><path d="M87.9 37.5 Q91.0 37.9 91.4 38.3"/><path d="M53.2 26.4 Q54.0 26.1 57.4 27.3"/><path d="M90.8 30.5 Q92.4 30.1 94.2 30.9"/><path d="M51.3 33.3 Q54.6 33.1 55.0 33.0"/><path d="M49.9 24.2 Q51.5 24.3 56.0 24.7"/><path d="M80.7 31.5 Q84.0 31.5 86.6 30.6"/><path d="M48.0 35.3 Q52.6 35.8 55.2 37.2"/><path d="M89.6 26.5 Q94.1 24.8 96.1 25.5"/><path d="M51.9 24.5 Q52.9 25.2 55.8 24.4"/></g></g><rect x="0" y="0" width="124" height="92" fill="none" stroke="#000" stroke-width="1"/></svg>
<svg x="396" y="15" width="124" height="92" viewBox="0 0 124 92"><defs>
<clipPath id="pcsw"><rect x="14" y="44" width="93" height="30"/></clipPath>
<linearGradient id="pcg1" x1="0" y1="0" x2="0" y2="1"><stop offset="0" stop-color="#282828"/><stop offset="0.2" stop-color="#787878"/><stop offset="0.6" stop-color="#808080"/><stop offset="0.88" stop-color="#404040"/><stop offset="1" stop-color="#1c1c1c"/></linearGradient>
<linearGradient id="pcpl" x1="0" y1="0" x2="0" y2="1"><stop offset="0" stop-color="#262626"/><stop offset="1" stop-color="#303030"/></linearGradient>
<linearGradient id="pcbg" gradientUnits="userSpaceOnUse" x1="0" y1="16" x2="0" y2="41"><stop offset="0" stop-color="#4a4a4a"/><stop offset="0.45" stop-color="#7a7a7a"/><stop offset="0.8" stop-color="#9a9a9a"/><stop offset="1" stop-color="#707070"/></linearGradient>
</defs><rect width="124" height="92" fill="#070707"/><g filter="url(#blur1)"><rect x="0" y="0" width="12" height="92" fill="url(#pcpl)"/><ellipse cx="0" cy="55" rx="3" ry="12" fill="#f0f0f0"/><rect x="110" y="0" width="14" height="92" fill="url(#pcpl)"/><rect x="113" y="0" width="6" height="92" fill="#555" opacity="0.6"/><ellipse cx="119" cy="57" rx="3.2" ry="13" fill="#e4e4e4"/><rect x="14" y="44" width="93" height="30" fill="url(#pcg1)"/><rect x="0" y="74" width="124" height="18" fill="#2c2c2c"/><rect x="12" y="0" width="2.5" height="75" fill="#0a0a0a"/><rect x="107.5" y="0" width="2.5" height="75" fill="#0a0a0a"/><path d="M12.00 1.00 C9.67 4.00 11.67 13.67 14.00 19.00 C16.33 24.33 20.92 29.67 26.00 33.00 C31.08 36.33 37.50 37.75 44.50 39.00 C51.50 40.25 60.25 41.17 68.00 40.50 C75.75 39.83 84.83 37.82 91.00 35.00 C97.17 32.18 102.17 28.60 105.00 23.60 C107.83 18.60 107.67 8.93 108.00 5.00 C108.33 1.07 109.00 0.67 107.00 0.00 C105.00 -0.67 98.67 -0.83 96.00 1.00 C93.33 2.83 93.75 8.33 91.00 11.00 C88.25 13.67 84.33 15.67 79.50 17.00 C74.67 18.33 67.58 19.00 62.00 19.00 C56.42 19.00 50.33 18.33 46.00 17.00 C41.67 15.67 39.00 13.67 36.00 11.00 C33.00 8.33 32.00 2.67 28.00 1.00 C24.00 -0.67 14.33 -2.00 12.00 1.00Z" fill="url(#pcbg)"/><path d="M13.00 3.00 C11.67 5.50 14.17 13.67 16.00 18.00 C17.83 22.33 20.67 26.50 24.00 29.00 C27.33 31.50 33.33 33.50 36.00 33.00 C38.67 32.50 40.67 29.17 40.00 26.00 C39.33 22.83 34.67 17.83 32.00 14.00 C29.33 10.17 27.17 4.83 24.00 3.00 C20.83 1.17 14.33 0.50 13.00 3.00Z" fill="#d8d8d8"/><ellipse cx="24" cy="18" rx="6" ry="8" fill="#eeeeee"/><ellipse cx="48" cy="35" rx="6" ry="4" fill="#c4c4c4"/><path d="M40 37 C 55 40, 80 38, 100 26" stroke="#b8b8b8" stroke-width="2.2" fill="none"/><ellipse cx="100" cy="7" rx="6" ry="6" fill="#a8a8a8"/><ellipse cx="93" cy="20" rx="6.5" ry="7.5" fill="#ffffff"/><ellipse cx="101" cy="10" rx="4" ry="6" fill="#b0b0b0"/></g><g clip-path="url(#pcsw)" filter="url(#blur03)"><g stroke="#f2f2f2" stroke-width="0.65" fill="none" opacity="0.85"><polyline points="64.1,56.6 63.6,56.9 63.8,57.2 63.6,57.5 63.1,57.8 63.0,58.1 62.9,58.4 62.4,58.6 62.1,58.9 61.3,59.1 60.9,59.3 60.3,59.4 60.0,59.6 59.7,59.7 58.9,59.8 58.4,59.8"/><polyline points="66.3,59.6 65.8,59.9 65.1,60.2 64.3,60.5 63.9,60.7 63.2,60.9 62.6,61.1 62.2,61.3 61.1,61.4 60.8,61.6 60.0,61.7 58.8,61.7 58.2,61.8 57.5,61.8 56.4,61.8 55.9,61.7"/><polyline points="40.8,52.7 41.6,52.4 41.9,52.1 42.5,51.9 43.3,51.6 44.4,51.4 44.9,51.2 45.8,50.9 47.0,50.8 48.2,50.6 48.8,50.4 49.8,50.3 51.0,50.2 51.7,50.1 53.0,50.0 53.8,49.9"/><polyline points="71.6,59.2 70.7,59.9 70.1,60.6 69.7,61.3 68.8,61.9 67.2,62.5 66.4,63.0 65.3,63.4 63.6,63.8 62.4,64.1 60.7,64.3 59.4,64.5 58.1,64.5 56.6,64.5 55.2,64.5 53.4,64.3"/><polyline points="48.5,53.8 49.3,53.4 49.6,53.1 49.9,52.7 51.1,52.4 51.5,52.1 52.3,51.9 53.0,51.7 54.0,51.5 54.8,51.4 55.5,51.3 56.7,51.2 57.3,51.2 58.6,51.2 59.1,51.3 60.4,51.4"/><polyline points="52.9,48.9 53.9,48.8 55.0,48.7 56.7,48.6 57.6,48.6 58.8,48.6 60.3,48.7 61.2,48.8 62.6,48.9 63.5,49.1 65.0,49.3 65.8,49.5 66.7,49.7 68.3,50.0 68.8,50.3 70.2,50.7"/><polyline points="78.9,57.2 78.9,57.7 78.9,58.1 78.9,58.6 78.3,59.0 77.9,59.4 77.9,59.9 77.2,60.3 76.8,60.7 76.6,61.1 76.2,61.5 75.3,61.9 74.9,62.3 74.5,62.6 73.8,63.0 72.9,63.3"/><polyline points="53.3,49.8 55.5,49.7 57.7,49.6 60.1,49.7 62.8,49.9 64.9,50.2 67.4,50.5 69.1,51.0 71.4,51.5 72.7,52.1 74.0,52.8 75.3,53.6 76.3,54.3 77.0,55.1 77.3,56.0 77.2,56.8"/><polyline points="44.8,55.0 45.9,54.1 46.5,53.2 47.3,52.4 48.5,51.7 49.8,51.0 51.5,50.5 52.6,50.1 54.7,49.8 56.4,49.7 58.0,49.7 60.0,49.8 61.7,50.1 63.0,50.4 64.9,50.9 66.1,51.5"/></g><g stroke="#f2f2f2" stroke-width="0.65" fill="none" opacity="0.85"><polyline points="55.7,61.2 55.6,61.0 55.2,60.8 54.8,60.5 54.8,60.2 54.1,59.9 54.4,59.6 54.5,59.3 54.7,59.0 54.7,58.8 54.8,58.5 55.3,58.2 56.0,58.0 56.2,57.8 56.7,57.7 57.5,57.6"/><polyline points="71.5,60.5 71.4,61.2 70.5,61.8 70.3,62.4 69.3,62.9 68.5,63.4 67.4,63.9 66.0,64.3 64.2,64.6 62.9,64.8 61.4,65.0 60.2,65.0 58.3,65.0 56.8,65.0 55.3,64.8 53.9,64.5"/><polyline points="44.8,67.8 43.1,66.8 41.6,65.7 40.5,64.5 39.4,63.3 38.7,62.0 38.5,60.6 38.3,59.3 38.6,57.9 39.5,56.6 39.7,55.3 40.8,54.1 42.6,53.0 43.7,51.9 45.6,51.0 48.0,50.2"/><polyline points="73.1,61.5 73.0,61.9 72.6,62.2 72.0,62.5 71.5,62.8 70.8,63.1 70.1,63.4 69.4,63.6 68.6,63.9 67.2,64.1 66.5,64.3 65.5,64.4 64.8,64.6 63.7,64.7 62.6,64.8 61.9,64.9"/><polyline points="57.5,63.5 56.5,63.5 55.5,63.3 54.4,63.2 53.7,63.1 52.8,62.9 51.9,62.7 51.4,62.4 50.5,62.2 50.2,61.9 49.7,61.6 48.9,61.3 48.8,60.9 48.4,60.6 48.2,60.3 48.2,59.9"/><polyline points="57.5,50.5 58.5,50.4 59.4,50.4 60.8,50.4 61.9,50.5 63.2,50.6 64.0,50.8 65.3,50.9 66.2,51.1 66.9,51.4 68.3,51.6 69.0,51.9 70.0,52.3 70.6,52.6 71.4,53.0 72.7,53.4"/><polyline points="62.0,61.0 61.9,61.1 61.4,61.1 61.1,61.1 61.2,61.2 60.7,61.2 60.2,61.2 60.3,61.2 59.9,61.2 59.6,61.2 59.4,61.2 59.2,61.2 58.8,61.2 58.9,61.2 58.8,61.2 58.4,61.2"/><polyline points="63.7,59.9 63.5,60.1 63.5,60.2 63.3,60.4 62.9,60.6 62.6,60.7 62.5,60.9 62.4,61.0 61.9,61.1 61.7,61.2 61.6,61.3 61.0,61.4 60.8,61.5 60.4,61.5 60.3,61.6 59.4,61.6"/><polyline points="55.5,56.5 55.9,56.4 56.4,56.3 57.0,56.2 56.9,56.2 57.3,56.1 57.9,56.1 58.1,56.0 58.7,56.0 59.2,56.0 59.5,56.0 59.8,56.0 60.0,56.0 60.1,56.0 60.9,56.1 61.0,56.1"/></g><g stroke="#f2f2f2" stroke-width="0.65" fill="none" opacity="0.85"><polyline points="75.8,55.0 77.2,56.2 78.5,57.4 78.9,58.8 79.1,60.1 78.2,61.4 77.6,62.7 76.6,63.9 74.8,65.1 72.9,66.1 70.8,67.0 67.8,67.7 65.0,68.3 62.5,68.7 59.4,68.9 56.1,68.9"/><polyline points="70.2,64.7 69.4,65.0 68.5,65.3 67.2,65.6 66.3,65.9 64.5,66.1 63.3,66.3 62.0,66.4 60.9,66.5 59.3,66.6 58.3,66.6 56.8,66.6 55.5,66.6 54.3,66.5 52.9,66.4 51.7,66.3"/><polyline points="63.9,58.9 64.1,59.1 64.0,59.4 64.4,59.6 64.2,59.8 63.9,60.0 64.3,60.2 63.8,60.4 63.5,60.6 63.5,60.8 63.4,61.0 62.7,61.2 62.1,61.4 61.9,61.5 61.4,61.7 61.2,61.8"/><polyline points="60.0,64.3 59.4,64.4 59.2,64.4 58.7,64.5 58.3,64.5 58.2,64.5 58.0,64.5 57.2,64.5 57.0,64.5 56.4,64.5 56.4,64.5 55.7,64.4 55.0,64.4 55.1,64.3 54.4,64.3 53.9,64.2"/><polyline points="56.4,57.4 56.8,57.4 56.8,57.4 57.5,57.4 57.8,57.4 58.3,57.4 58.1,57.4 58.8,57.5 59.0,57.5 59.6,57.6 59.6,57.7 60.0,57.8 60.4,57.9 60.4,58.0 60.7,58.1 61.1,58.2"/><polyline points="55.5,61.9 55.5,61.8 55.0,61.7 54.8,61.6 54.1,61.4 54.2,61.3 53.9,61.1 53.6,60.9 53.2,60.7 53.0,60.5 53.0,60.3 52.7,60.1 53.1,59.9 52.8,59.6 53.1,59.4 52.7,59.2"/><polyline points="47.5,53.4 48.9,53.0 50.0,52.7 51.5,52.4 52.8,52.2 54.0,52.0 55.4,51.8 56.2,51.8 57.5,51.8 58.9,51.8 60.1,51.9 61.5,52.0 63.0,52.3 64.0,52.5 65.4,52.8 66.4,53.2"/><polyline points="61.0,64.0 59.9,64.3 58.4,64.4 57.6,64.4 56.5,64.4 54.9,64.3 53.9,64.0 53.0,63.7 51.9,63.4 51.2,62.9 50.3,62.4 49.5,61.9 49.2,61.3 48.9,60.7 48.5,60.0 48.6,59.4"/><polyline points="70.7,63.0 69.9,63.5 68.7,63.9 68.1,64.3 67.2,64.6 66.1,64.9 64.8,65.2 63.9,65.5 62.8,65.7 61.5,65.8 60.4,65.9 59.0,66.0 57.3,66.1 56.2,66.0 55.2,66.0 53.5,65.9"/></g><g stroke="#f2f2f2" stroke-width="0.65" fill="none" opacity="0.85"><polyline points="110.3,60.6 110.0,61.5 109.5,62.2 108.8,63.0 107.4,63.7 106.2,64.3 104.2,64.9 102.8,65.4 100.6,65.8 98.2,66.1 96.0,66.4 93.9,66.5 91.2,66.5 89.1,66.4 86.9,66.1 84.8,65.8"/><polyline points="85.6,57.7 86.6,57.3 87.4,56.9 88.5,56.6 89.3,56.4 90.1,56.2 91.3,56.1 92.7,56.1 93.8,56.1 94.7,56.2 95.4,56.4 96.8,56.6 97.8,56.9 98.3,57.3 99.2,57.7 99.7,58.1"/><polyline points="95.5,62.4 94.8,62.5 95.0,62.5 94.8,62.6 94.2,62.6 94.1,62.7 93.7,62.7 93.8,62.7 93.7,62.7 93.3,62.8 92.9,62.8 92.7,62.8 92.4,62.8 92.3,62.8 91.8,62.8 91.6,62.8"/><polyline points="108.9,59.9 108.8,60.7 108.9,61.4 108.2,62.0 107.8,62.7 107.0,63.3 106.1,63.9 104.6,64.5 103.3,65.0 101.9,65.4 99.8,65.8 98.1,66.0 96.6,66.2 94.4,66.4 92.8,66.4 90.3,66.4"/><polyline points="87.0,60.9 87.0,60.7 87.3,60.5 87.3,60.4 87.1,60.2 87.0,60.0 87.2,59.9 87.1,59.7 87.2,59.5 87.8,59.4 87.7,59.2 87.9,59.1 88.6,59.0 88.5,58.8 88.9,58.7 89.2,58.6"/><polyline points="101.2,69.0 99.9,69.1 99.3,69.3 98.4,69.4 97.4,69.5 96.4,69.6 95.5,69.7 94.4,69.8 93.7,69.8 92.4,69.8 91.7,69.8 90.6,69.8 89.7,69.7 89.1,69.7 87.9,69.6 87.1,69.5"/><polyline points="95.9,55.8 97.8,56.0 99.9,56.2 101.8,56.5 103.0,56.9 104.4,57.4 105.7,57.9 106.5,58.4 107.4,59.0 107.7,59.6 107.9,60.2 108.1,60.9 107.5,61.5 107.1,62.1 106.5,62.7 105.3,63.2"/><polyline points="94.5,62.6 93.8,62.7 93.1,62.8 92.8,62.8 91.7,62.7 91.6,62.7 90.5,62.6 89.9,62.5 89.5,62.3 88.9,62.1 88.9,61.9 88.2,61.7 88.1,61.4 87.7,61.1 87.6,60.8 87.8,60.5"/><polyline points="91.8,55.3 93.0,55.3 93.9,55.3 94.6,55.3 95.3,55.4 96.2,55.4 96.9,55.5 97.4,55.6 97.9,55.7 98.8,55.8 99.4,56.0 100.3,56.1 100.7,56.3 101.1,56.5 101.8,56.6 102.3,56.8"/></g><g stroke="#f2f2f2" stroke-width="0.65" fill="none" opacity="0.85"><polyline points="74.5,55.1 75.5,55.1 77.2,55.1 78.0,55.1 79.2,55.2 80.2,55.3 81.5,55.5 82.6,55.7 83.6,55.9 84.7,56.2 85.4,56.5 86.4,56.8 87.2,57.1 87.6,57.5 88.6,57.9 88.6,58.3"/><polyline points="82.6,63.2 82.5,63.5 82.0,63.7 81.1,63.8 80.8,64.0 80.4,64.2 79.7,64.3 79.0,64.4 78.4,64.5 77.7,64.6 77.1,64.6 76.5,64.6 76.3,64.6 75.6,64.6 74.7,64.6 74.7,64.5"/><polyline points="62.3,66.9 60.3,66.1 58.1,65.2 57.0,64.2 55.7,63.1 54.7,62.0 54.3,60.8 54.5,59.7 54.8,58.5 55.6,57.4 57.1,56.3 58.3,55.3 60.0,54.4 62.0,53.6 64.3,52.9 67.1,52.3"/><polyline points="64.5,59.9 64.9,59.6 64.9,59.3 65.2,59.0 65.8,58.8 66.0,58.5 66.4,58.3 67.0,58.0 67.7,57.8 68.3,57.6 69.1,57.4 69.7,57.3 70.2,57.1 71.3,57.0 71.6,56.8 72.5,56.7"/><polyline points="72.6,62.2 72.1,62.1 71.8,61.9 71.6,61.8 71.4,61.6 71.2,61.5 70.6,61.3 70.4,61.1 70.6,60.9 70.4,60.7 70.4,60.5 69.9,60.3 70.0,60.1 70.1,59.9 70.1,59.7 70.4,59.5"/><polyline points="55.4,60.0 55.5,59.3 55.5,58.7 55.7,58.1 56.6,57.5 57.2,56.9 57.6,56.4 58.3,55.8 59.1,55.3 60.4,54.8 61.4,54.4 62.8,54.0 63.9,53.6 65.1,53.2 66.5,52.9 68.1,52.6"/><polyline points="90.8,65.1 90.5,65.4 89.7,65.7 88.6,65.9 87.9,66.1 86.9,66.3 85.9,66.5 84.7,66.7 84.1,66.8 82.6,66.9 81.5,67.0 80.4,67.1 79.7,67.2 78.6,67.3 77.6,67.3 76.4,67.3"/><polyline points="74.5,63.4 73.6,63.3 72.8,63.1 71.9,62.9 70.7,62.6 70.0,62.3 69.4,62.0 68.9,61.6 68.6,61.3 68.1,60.9 68.4,60.4 68.2,60.0 68.5,59.6 68.6,59.2 69.3,58.8 69.4,58.5"/><polyline points="56.9,59.6 57.1,58.9 57.6,58.2 57.9,57.6 59.0,56.9 60.0,56.3 61.2,55.8 62.2,55.2 64.1,54.8 65.3,54.3 66.9,54.0 68.7,53.7 71.1,53.5 72.5,53.3 74.8,53.2 76.4,53.2"/></g><g stroke="#f2f2f2" stroke-width="0.65" fill="none" opacity="0.85"><polyline points="60.9,48.2 61.8,47.9 63.2,47.7 64.8,47.5 66.3,47.5 67.9,47.4 68.9,47.5 70.5,47.6 72.1,47.8 73.3,48.1 74.4,48.4 75.8,48.8 76.7,49.2 77.8,49.7 79.2,50.2 79.7,50.8"/><polyline points="66.0,48.5 68.6,48.5 71.0,48.6 73.1,48.9 74.8,49.2 77.1,49.6 78.9,50.1 80.1,50.7 81.8,51.4 82.8,52.1 83.4,52.8 84.2,53.6 84.5,54.5 83.9,55.3 83.8,56.1 83.1,56.9"/><polyline points="71.2,53.9 71.6,54.1 71.6,54.2 71.7,54.3 71.3,54.5 71.8,54.6 71.4,54.7 71.4,54.9 71.2,55.0 71.5,55.1 71.3,55.2 71.1,55.4 71.0,55.5 70.8,55.6 70.7,55.7 70.2,55.8"/><polyline points="83.9,55.4 83.9,56.3 83.1,57.1 81.7,57.9 80.4,58.6 78.5,59.2 76.6,59.8 74.9,60.2 72.6,60.5 70.3,60.7 67.7,60.8 65.0,60.8 63.1,60.6 61.0,60.3 58.4,59.9 56.7,59.4"/><polyline points="65.8,51.1 66.1,51.1 66.3,51.1 66.7,51.0 67.2,51.0 67.4,51.0 67.6,51.0 68.2,51.0 68.3,51.0 68.7,51.1 68.8,51.1 69.3,51.1 69.6,51.2 69.7,51.2 70.0,51.3 70.1,51.4"/><polyline points="54.2,58.6 53.7,58.3 53.4,58.0 52.8,57.7 52.9,57.4 52.6,57.0 52.4,56.7 51.8,56.3 51.8,56.0 51.8,55.6 51.4,55.3 51.9,54.9 51.4,54.6 51.4,54.2 51.9,53.9 51.6,53.5"/><polyline points="71.7,61.0 71.1,61.0 70.5,61.1 69.4,61.2 68.9,61.2 68.3,61.2 67.4,61.2 67.3,61.2 66.6,61.2 66.0,61.2 65.4,61.2 64.7,61.1 63.7,61.0 63.3,61.0 62.8,60.9 61.7,60.8"/><polyline points="71.8,56.2 71.3,56.5 70.8,56.8 70.6,57.0 69.8,57.2 68.8,57.4 68.5,57.5 67.5,57.5 67.1,57.5 66.1,57.4 65.7,57.3 64.8,57.2 64.1,56.9 63.9,56.7 63.4,56.4 62.8,56.0"/><polyline points="61.6,49.2 62.1,49.0 63.3,48.9 63.9,48.8 65.1,48.7 66.0,48.6 66.5,48.6 67.3,48.6 68.5,48.6 69.4,48.6 70.2,48.7 71.1,48.8 71.9,49.0 72.7,49.1 73.7,49.3 74.6,49.5"/></g><g stroke="#f2f2f2" stroke-width="0.65" fill="none" opacity="0.85"><polyline points="55.9,56.4 56.9,56.4 58.3,56.5 59.5,56.6 60.6,56.8 61.5,57.1 62.5,57.3 63.2,57.7 63.9,58.0 65.0,58.4 65.5,58.9 65.7,59.3 66.7,59.8 66.9,60.3 67.4,60.8 67.3,61.4"/><polyline points="44.0,57.6 45.6,56.9 47.4,56.4 48.7,55.9 51.1,55.6 53.0,55.3 54.9,55.2 56.7,55.3 59.0,55.4 60.8,55.7 62.7,56.0 64.6,56.5 66.3,57.1 67.8,57.8 68.8,58.6 69.9,59.4"/><polyline points="49.1,65.9 48.2,65.7 47.8,65.6 47.1,65.5 46.3,65.4 45.9,65.2 45.8,65.0 45.0,64.9 44.7,64.7 44.2,64.5 43.8,64.3 43.5,64.1 43.4,63.9 42.9,63.7 42.7,63.5 42.3,63.3"/><polyline points="46.7,61.6 46.9,61.4 47.0,61.3 47.0,61.2 47.3,61.1 47.8,61.0 47.8,60.9 48.0,60.7 48.4,60.6 48.5,60.5 48.9,60.4 49.0,60.3 49.4,60.2 49.6,60.2 50.1,60.1 50.2,60.0"/><polyline points="64.3,64.7 63.3,65.0 62.9,65.3 62.2,65.6 61.7,65.9 61.2,66.1 60.1,66.3 59.5,66.5 58.3,66.6 57.6,66.7 56.9,66.8 56.2,66.8 55.5,66.8 54.6,66.8 53.5,66.7 52.5,66.6"/><polyline points="60.7,52.9 62.5,53.2 64.5,53.7 66.2,54.2 68.0,54.9 69.6,55.6 70.6,56.4 72.0,57.3 72.6,58.3 73.3,59.3 73.9,60.3 74.2,61.4 74.4,62.4 74.2,63.5 74.1,64.5 72.9,65.6"/><polyline points="49.4,68.8 47.8,68.6 45.9,68.3 44.7,68.0 43.0,67.6 41.8,67.2 40.6,66.7 39.7,66.2 38.9,65.7 37.6,65.1 36.9,64.6 36.6,64.0 36.2,63.3 36.2,62.7 36.2,62.1 36.4,61.4"/><polyline points="56.8,73.9 54.9,73.9 52.8,73.8 50.6,73.6 48.7,73.2 46.3,72.8 44.4,72.2 42.9,71.6 41.2,70.8 39.2,70.0 38.0,69.1 37.0,68.1 35.6,67.1 35.2,66.0 34.7,64.8 34.1,63.7"/><polyline points="59.0,64.4 58.1,64.5 57.6,64.7 56.7,64.8 56.2,64.8 55.0,64.8 54.1,64.8 53.5,64.7 52.8,64.5 52.1,64.3 51.7,64.1 50.8,63.9 50.6,63.6 49.8,63.2 49.7,62.9 49.8,62.5"/></g><g stroke="#f2f2f2" stroke-width="0.65" fill="none" opacity="0.85"><polyline points="79.7,62.1 79.2,61.8 79.0,61.6 78.9,61.3 78.6,61.0 78.1,60.7 77.9,60.4 78.0,60.0 77.9,59.7 77.8,59.3 77.8,59.0 78.0,58.7 78.2,58.4 78.9,58.1 79.4,57.8 79.7,57.5"/><polyline points="80.8,66.2 79.6,66.1 78.3,65.9 76.6,65.7 75.3,65.4 74.3,65.1 73.3,64.7 72.2,64.3 71.3,63.9 70.3,63.4 69.6,62.9 68.7,62.3 68.3,61.8 67.7,61.2 67.9,60.6 67.3,60.0"/><polyline points="96.3,53.6 97.0,54.1 98.3,54.7 98.9,55.3 99.3,55.9 100.0,56.5 100.5,57.2 100.9,57.9 101.0,58.6 101.1,59.3 101.3,60.0 101.3,60.7 100.9,61.3 100.6,62.0 100.1,62.7 99.9,63.3"/><polyline points="100.0,62.7 99.2,63.6 98.0,64.5 96.4,65.3 95.2,66.0 93.6,66.6 91.4,67.1 89.7,67.5 87.4,67.8 85.2,68.0 83.1,68.1 81.1,68.0 78.9,67.8 76.8,67.5 75.0,67.1 73.4,66.5"/><polyline points="94.6,56.3 94.9,56.7 95.4,57.0 95.9,57.4 95.7,57.7 96.2,58.1 96.4,58.4 96.6,58.8 97.0,59.2 96.6,59.6 96.6,60.0 96.8,60.4 96.7,60.7 96.2,61.1 95.8,61.5 95.8,61.8"/><polyline points="71.0,56.5 71.6,55.8 72.4,55.3 72.9,54.7 74.3,54.2 75.3,53.8 76.5,53.4 77.7,53.1 79.2,52.8 80.1,52.6 81.9,52.5 82.8,52.4 84.6,52.5 86.0,52.5 86.9,52.7 88.5,52.9"/><polyline points="94.0,65.6 92.2,66.1 89.4,66.4 87.2,66.7 84.4,66.8 81.4,66.8 78.9,66.6 76.6,66.3 73.9,65.9 71.8,65.3 70.0,64.7 68.1,63.9 67.2,63.1 65.9,62.2 65.0,61.2 64.7,60.2"/><polyline points="80.7,57.4 81.4,57.2 81.8,57.1 82.4,57.0 83.0,57.0 84.1,57.0 84.8,57.1 85.1,57.1 86.2,57.3 86.9,57.4 87.0,57.6 87.8,57.8 88.4,58.1 88.8,58.3 88.8,58.6 89.1,58.9"/><polyline points="78.5,58.8 79.1,58.5 79.8,58.3 80.2,58.2 80.5,58.0 81.3,57.9 82.3,57.8 82.5,57.8 83.6,57.7 84.2,57.8 84.8,57.8 85.8,57.9 86.3,58.0 86.9,58.2 87.7,58.4 88.1,58.6"/></g><g stroke="#f2f2f2" stroke-width="0.65" fill="none" opacity="0.85"><polyline points="68.6,51.9 69.1,50.8 69.6,49.8 70.0,48.8 71.8,47.9 72.9,47.0 74.9,46.2 76.9,45.6 79.2,45.1 81.2,44.7 84.0,44.4 86.6,44.3 88.9,44.4 91.7,44.5 94.0,44.9 96.3,45.3"/><polyline points="82.8,54.0 82.2,53.9 81.4,53.7 81.0,53.6 81.0,53.4 80.2,53.2 80.5,52.9 80.2,52.7 80.1,52.5 79.6,52.3 79.9,52.1 79.7,51.8 79.8,51.6 79.9,51.4 80.1,51.2 80.6,50.9"/><polyline points="89.0,47.3 90.2,47.4 91.0,47.7 92.0,48.0 92.9,48.4 94.0,48.9 94.9,49.4 95.2,50.0 95.7,50.6 95.8,51.3 96.2,51.9 96.3,52.6 96.0,53.2 95.5,53.8 95.2,54.4 94.3,55.0"/><polyline points="83.6,41.6 85.9,41.4 88.2,41.4 90.7,41.6 93.1,41.8 95.0,42.2 97.2,42.7 99.1,43.4 101.0,44.1 102.6,44.9 104.4,45.8 105.5,46.8 106.7,47.9 107.1,49.0 108.0,50.2 108.2,51.3"/><polyline points="80.0,60.0 79.0,59.8 77.7,59.7 77.1,59.5 76.3,59.3 75.3,59.1 74.4,58.8 73.7,58.6 73.1,58.3 72.3,58.1 71.7,57.8 70.7,57.5 70.4,57.2 69.7,56.8 69.5,56.5 68.9,56.1"/><polyline points="85.1,43.8 87.0,43.8 89.4,43.8 91.5,44.0 93.6,44.2 95.5,44.6 97.4,45.0 99.3,45.5 101.2,46.1 102.9,46.8 103.7,47.6 105.2,48.4 106.1,49.2 106.7,50.1 106.9,51.0 107.1,51.9"/><polyline points="98.5,47.4 98.8,47.7 99.2,47.9 99.2,48.2 99.5,48.4 100.1,48.7 100.4,48.9 100.4,49.2 100.6,49.5 100.7,49.7 100.9,50.0 101.0,50.3 101.2,50.6 101.3,50.9 101.6,51.2 101.8,51.5"/><polyline points="88.7,57.0 87.6,57.1 86.3,57.1 85.4,57.0 84.2,57.0 82.7,56.8 81.6,56.7 80.6,56.5 79.5,56.3 78.9,56.0 77.7,55.7 76.6,55.4 76.1,55.0 75.6,54.7 75.2,54.3 74.4,53.9"/><polyline points="87.6,59.1 85.1,59.1 82.6,59.0 80.6,58.7 78.2,58.4 76.5,58.0 74.6,57.6 72.7,57.0 71.1,56.4 69.4,55.7 68.3,55.0 67.6,54.3 66.9,53.5 66.8,52.7 66.9,51.8 66.8,51.0"/></g><g stroke="#f2f2f2" stroke-width="0.65" fill="none" opacity="0.85"><polyline points="80.4,65.5 79.8,65.7 79.1,65.9 77.8,66.0 77.1,66.1 76.1,66.2 75.1,66.2 74.2,66.2 73.3,66.2 72.5,66.1 71.4,66.0 70.7,65.8 69.7,65.6 69.3,65.4 68.5,65.2 68.0,65.0"/><polyline points="62.5,65.6 61.6,64.9 61.7,64.2 61.6,63.5 61.6,62.8 61.9,62.1 62.8,61.4 63.0,60.8 64.2,60.2 64.8,59.6 65.9,59.1 67.2,58.7 68.7,58.3 70.0,58.0 71.3,57.8 72.8,57.6"/><polyline points="61.2,66.2 60.9,65.8 60.3,65.4 60.0,65.0 59.4,64.5 59.6,64.1 59.5,63.7 59.4,63.2 59.4,62.8 60.3,62.4 60.6,61.9 61.4,61.5 62.1,61.2 62.5,60.8 63.6,60.5 64.5,60.2"/><polyline points="58.2,61.1 57.9,60.8 58.5,60.5 59.1,60.2 59.2,59.9 59.7,59.6 60.4,59.4 60.6,59.1 61.3,58.8 62.2,58.6 62.4,58.4 63.3,58.1 63.8,57.9 64.4,57.7 65.1,57.5 66.1,57.4"/><polyline points="70.8,66.0 70.8,65.9 70.3,65.8 70.1,65.7 70.2,65.5 69.4,65.4 69.5,65.3 69.5,65.2 69.4,65.0 68.9,64.9 68.7,64.8 68.9,64.6 68.6,64.5 68.3,64.3 68.3,64.2 68.7,64.0"/><polyline points="79.3,56.8 80.2,57.0 81.2,57.2 81.9,57.5 82.8,57.8 83.6,58.1 84.4,58.5 85.3,58.8 85.8,59.2 86.2,59.7 87.1,60.1 87.7,60.6 88.1,61.1 88.4,61.6 88.7,62.1 88.5,62.6"/><polyline points="68.6,70.5 67.1,70.3 65.7,70.0 64.2,69.7 63.2,69.3 61.7,68.9 60.8,68.5 60.1,68.1 59.3,67.6 58.3,67.0 57.6,66.5 57.0,65.9 56.5,65.4 56.5,64.8 56.3,64.2 55.9,63.6"/><polyline points="82.8,61.4 83.5,61.8 84.1,62.3 84.4,62.7 84.7,63.2 84.8,63.7 84.7,64.1 84.8,64.6 84.1,65.1 84.0,65.5 83.3,65.9 82.2,66.3 81.4,66.6 80.5,66.9 79.6,67.2 78.0,67.4"/><polyline points="77.1,57.2 79.0,57.3 81.1,57.6 83.2,57.9 85.0,58.3 86.4,58.8 87.9,59.3 89.3,59.9 90.2,60.6 91.4,61.3 92.2,62.0 92.2,62.8 92.3,63.6 92.6,64.4 92.3,65.1 91.8,65.9"/></g><g stroke="#f2f2f2" stroke-width="0.65" fill="none" opacity="0.85"><polyline points="46.4,69.1 45.8,68.9 45.1,68.7 44.5,68.5 44.2,68.2 43.6,68.0 42.7,67.7 42.1,67.4 41.7,67.2 41.8,66.9 41.0,66.6 41.0,66.3 40.5,66.0 39.9,65.7 39.9,65.3 39.6,65.0"/><polyline points="61.6,67.2 61.8,67.3 61.1,67.3 60.7,67.3 60.1,67.4 59.9,67.4 59.7,67.4 59.4,67.4 58.6,67.4 58.6,67.4 58.0,67.4 57.4,67.4 56.9,67.4 56.5,67.3 56.1,67.3 55.7,67.3"/><polyline points="43.9,64.1 43.9,63.1 43.9,62.2 44.4,61.2 45.1,60.3 46.1,59.5 47.0,58.7 48.2,58.0 49.5,57.4 51.2,56.9 52.8,56.4 54.1,56.1 56.4,55.9 57.9,55.8 59.9,55.8 61.8,55.9"/><polyline points="56.0,61.5 56.6,61.4 56.9,61.3 57.5,61.3 58.2,61.2 58.6,61.2 59.1,61.2 59.8,61.3 60.1,61.3 60.6,61.4 61.0,61.5 61.4,61.6 62.0,61.7 62.4,61.9 62.6,62.1 62.6,62.2"/><polyline points="64.6,60.0 65.8,60.3 66.6,60.6 67.4,61.0 67.9,61.4 68.7,61.9 69.4,62.3 69.4,62.8 69.7,63.3 69.6,63.8 69.4,64.3 69.1,64.8 68.6,65.3 68.3,65.7 67.3,66.2 66.8,66.5"/><polyline points="60.7,61.2 61.1,61.4 62.1,61.6 62.4,61.9 62.5,62.2 63.3,62.5 63.1,62.8 63.2,63.2 63.6,63.5 63.5,63.9 63.1,64.3 62.9,64.6 62.8,64.9 62.5,65.2 62.1,65.5 61.3,65.7"/><polyline points="69.5,70.3 67.4,70.8 65.1,71.1 62.9,71.3 60.5,71.4 57.9,71.5 55.5,71.4 53.0,71.2 50.7,70.9 48.7,70.5 46.5,70.1 45.0,69.5 42.8,68.9 41.7,68.2 40.3,67.4 39.5,66.6"/><polyline points="62.1,69.9 60.5,70.0 59.2,70.1 57.5,70.1 55.8,70.0 54.2,69.8 52.3,69.6 50.5,69.3 49.5,68.9 48.2,68.5 46.6,68.0 45.7,67.4 45.0,66.9 43.9,66.3 43.3,65.6 42.8,64.9"/><polyline points="70.2,68.5 69.1,68.7 68.1,69.0 66.3,69.2 65.1,69.3 63.8,69.5 62.2,69.6 60.9,69.6 59.9,69.7 58.4,69.7 56.8,69.6 55.6,69.6 53.8,69.5 52.7,69.4 51.3,69.2 50.1,69.0"/></g><g stroke="#f2f2f2" stroke-width="0.65" fill="none" opacity="0.85"><polyline points="22.4,52.7 23.6,52.0 24.4,51.4 26.2,50.8 27.4,50.2 29.2,49.8 30.5,49.4 32.4,49.0 34.4,48.8 35.8,48.6 37.8,48.5 39.4,48.5 41.2,48.5 43.0,48.7 44.9,48.9 46.6,49.1"/><polyline points="23.9,62.1 23.9,61.9 23.5,61.6 23.1,61.4 22.8,61.2 22.1,60.9 22.1,60.7 21.8,60.5 21.9,60.2 21.7,60.0 21.4,59.7 21.3,59.5 21.0,59.2 21.2,59.0 20.9,58.7 21.5,58.5"/><polyline points="34.7,57.4 35.2,57.2 35.5,57.0 35.9,56.9 36.5,56.7 36.7,56.6 37.1,56.4 37.9,56.4 38.1,56.3 39.2,56.3 39.5,56.3 39.7,56.3 40.7,56.3 41.0,56.4 41.3,56.5 42.0,56.6"/><polyline points="26.2,53.7 27.5,53.4 28.5,53.1 29.7,52.8 31.2,52.5 32.5,52.3 33.6,52.2 35.0,52.0 36.4,51.9 37.5,51.9 39.1,51.8 40.1,51.8 41.6,51.9 42.9,52.0 44.5,52.1 45.5,52.2"/><polyline points="47.9,50.2 49.3,50.5 50.9,50.9 52.1,51.3 53.4,51.8 54.9,52.3 55.7,52.9 56.8,53.5 57.8,54.2 58.6,54.8 59.1,55.5 59.7,56.3 60.1,57.0 60.7,57.8 60.8,58.5 60.8,59.3"/><polyline points="55.7,53.6 56.6,54.4 57.3,55.3 57.8,56.2 58.0,57.1 58.5,58.0 58.9,58.9 58.2,59.8 58.2,60.7 57.7,61.6 57.2,62.5 56.8,63.4 55.8,64.2 55.0,64.9 53.5,65.7 52.5,66.3"/><polyline points="29.5,62.0 28.9,61.7 28.0,61.4 27.5,61.0 26.8,60.7 26.2,60.3 25.7,59.9 25.6,59.5 25.9,59.1 25.8,58.7 25.9,58.3 25.7,57.9 26.3,57.5 26.4,57.1 26.9,56.7 27.8,56.4"/><polyline points="25.3,58.7 25.4,57.7 25.4,56.7 26.3,55.8 27.0,54.9 28.3,54.2 29.9,53.4 31.1,52.8 33.1,52.3 34.8,52.0 36.6,51.7 38.3,51.6 40.2,51.6 42.5,51.7 44.2,52.0 45.9,52.4"/><polyline points="32.3,62.0 32.3,61.9 31.9,61.8 31.4,61.6 31.3,61.5 31.0,61.4 30.4,61.2 30.6,61.0 30.2,60.9 29.7,60.7 29.8,60.5 29.5,60.4 29.6,60.2 29.6,60.0 29.1,59.8 29.3,59.7"/></g><g stroke="#f2f2f2" stroke-width="0.65" fill="none" opacity="0.85"><polyline points="70.1,57.6 70.1,57.0 70.9,56.5 71.4,56.0 71.7,55.5 72.4,55.0 73.0,54.6 74.0,54.2 74.7,53.9 75.6,53.5 76.8,53.3 78.2,53.0 79.1,52.9 79.9,52.8 81.2,52.7 82.4,52.7"/><polyline points="92.5,57.1 92.9,57.6 93.0,58.1 93.1,58.6 92.8,59.0 93.2,59.5 92.8,60.0 92.4,60.5 92.3,61.0 91.9,61.4 91.5,61.9 91.2,62.3 90.2,62.7 89.9,63.1 89.4,63.4 88.2,63.7"/><polyline points="69.6,53.3 70.6,52.9 71.7,52.4 73.2,52.0 74.5,51.7 76.0,51.5 77.6,51.2 79.1,51.1 81.0,51.0 82.7,51.0 84.0,51.1 85.8,51.2 87.3,51.3 88.5,51.6 90.1,51.9 91.7,52.2"/><polyline points="98.6,62.0 97.9,62.8 97.1,63.5 96.2,64.2 95.4,64.8 94.6,65.4 93.2,66.0 92.0,66.5 90.8,66.9 89.8,67.3 88.0,67.6 87.0,67.8 85.4,68.0 84.1,68.1 82.4,68.2 80.8,68.1"/><polyline points="88.5,65.3 87.9,65.5 87.7,65.6 87.1,65.7 86.2,65.8 85.6,65.9 84.7,66.0 84.0,66.0 83.4,66.1 82.9,66.1 82.4,66.1 81.5,66.1 80.9,66.1 80.0,66.0 79.8,66.0 79.0,65.9"/><polyline points="69.3,62.7 68.0,62.3 67.6,61.8 66.8,61.4 66.1,60.9 65.7,60.4 65.8,59.9 65.1,59.4 65.4,58.9 65.5,58.3 65.6,57.8 65.7,57.3 66.3,56.8 67.3,56.4 68.0,55.9 68.4,55.5"/><polyline points="93.3,65.4 91.2,66.2 89.3,66.9 87.4,67.4 84.8,67.7 82.6,67.8 80.6,67.8 78.0,67.6 76.1,67.1 74.2,66.6 72.2,65.9 70.0,65.0 68.7,64.0 67.6,62.9 66.8,61.7 65.9,60.5"/><polyline points="91.8,55.9 92.9,56.2 93.5,56.7 94.6,57.1 94.9,57.6 95.3,58.0 95.6,58.5 95.5,59.0 95.4,59.5 95.5,60.0 95.0,60.5 94.3,60.9 93.3,61.4 92.7,61.8 91.9,62.1 90.3,62.5"/><polyline points="90.8,56.7 91.2,57.0 91.5,57.4 91.5,57.8 91.9,58.2 92.0,58.5 92.2,58.9 92.1,59.3 92.0,59.7 91.5,60.1 91.5,60.4 91.3,60.8 91.2,61.2 90.5,61.5 90.5,61.8 90.1,62.2"/></g><g stroke="#f2f2f2" stroke-width="0.65" fill="none" opacity="0.85"><polyline points="81.9,59.6 82.6,60.0 83.4,60.3 83.5,60.7 83.9,61.0 84.2,61.4 84.2,61.8 84.6,62.2 84.6,62.5 84.9,62.9 84.8,63.3 84.1,63.7 84.1,64.0 83.9,64.4 83.0,64.8 82.5,65.1"/><polyline points="76.5,58.3 77.3,58.7 78.3,59.1 78.7,59.5 79.7,60.0 80.2,60.5 80.7,61.0 80.9,61.5 81.4,62.0 81.2,62.5 81.2,63.1 81.2,63.6 80.7,64.1 80.2,64.6 79.8,65.1 78.8,65.6"/><polyline points="62.1,58.4 63.2,58.4 64.2,58.3 65.2,58.3 66.1,58.2 66.6,58.2 67.5,58.2 68.6,58.3 69.7,58.3 70.3,58.4 71.3,58.4 72.0,58.5 73.0,58.6 73.4,58.8 74.3,58.9 75.3,59.1"/><polyline points="73.9,69.2 72.0,69.4 70.3,69.6 68.7,69.7 66.9,69.8 65.2,69.7 63.3,69.6 61.6,69.4 60.1,69.2 58.4,68.9 56.8,68.5 55.2,68.1 53.9,67.6 52.8,67.0 52.2,66.4 51.3,65.8"/><polyline points="60.1,69.1 59.7,69.0 58.8,68.8 57.9,68.6 57.5,68.4 56.7,68.1 56.3,67.9 55.7,67.6 54.6,67.4 54.1,67.1 53.9,66.8 53.2,66.5 52.9,66.1 52.8,65.8 52.1,65.5 51.6,65.1"/><polyline points="83.2,61.7 83.2,62.4 83.0,63.1 83.0,63.8 82.0,64.5 81.4,65.1 80.0,65.7 78.7,66.2 77.7,66.7 76.1,67.2 74.2,67.5 71.9,67.8 69.9,68.0 68.0,68.1 65.7,68.1 63.9,68.0"/><polyline points="86.6,64.1 86.4,64.6 85.8,65.1 85.1,65.5 84.8,66.0 83.5,66.4 82.6,66.8 81.6,67.2 80.6,67.6 80.0,68.0 78.7,68.3 77.6,68.5 75.9,68.8 74.9,69.0 73.1,69.2 71.9,69.3"/><polyline points="86.6,65.0 86.1,65.8 85.1,66.5 84.2,67.3 83.3,67.9 81.6,68.6 80.2,69.2 79.2,69.7 77.2,70.2 75.4,70.5 73.6,70.9 71.9,71.1 69.6,71.3 67.9,71.4 66.2,71.4 63.9,71.3"/><polyline points="48.7,68.4 48.2,67.7 47.8,66.9 47.3,66.1 46.6,65.3 45.9,64.5 46.1,63.7 45.6,62.8 45.8,62.0 46.2,61.1 46.4,60.3 46.8,59.5 47.2,58.7 47.9,57.9 48.7,57.1 49.6,56.4"/></g><g stroke="#e8e8e8" stroke-width="0.6" fill="none" opacity="0.7"><path d="M29.6 54.6 Q30.8 54.3 32.7 55.1"/><path d="M100.3 54.0 Q102.9 54.1 107.5 53.7"/><path d="M16.7 48.7 Q17.1 48.6 20.1 50.1"/><path d="M97.4 48.7 Q98.7 48.7 101.7 50.3"/><path d="M83.2 60.7 Q83.7 60.5 87.1 60.3"/><path d="M91.6 48.6 Q94.5 46.6 96.6 47.3"/><path d="M24.9 63.4 Q27.9 63.1 32.8 63.5"/><path d="M47.8 62.8 Q49.8 61.3 53.6 60.9"/><path d="M48.9 63.8 Q51.1 63.6 54.6 65.3"/><path d="M50.6 66.2 Q54.8 67.3 57.4 69.4"/><path d="M16.1 57.6 Q18.9 57.8 19.9 57.6"/><path d="M29.4 63.2 Q32.0 64.6 36.2 63.8"/><path d="M83.8 52.4 Q85.6 53.1 87.8 52.8"/><path d="M91.5 61.8 Q93.9 62.0 95.4 61.2"/><path d="M81.1 65.0 Q85.1 64.8 88.6 66.7"/><path d="M43.9 49.7 Q45.6 50.9 50.2 51.4"/><path d="M66.8 52.9 Q69.6 52.7 70.9 54.1"/><path d="M71.5 55.2 Q74.7 55.9 78.1 53.8"/><path d="M26.2 58.5 Q30.4 57.3 33.2 56.8"/><path d="M37.4 50.6 Q41.5 48.6 42.9 48.2"/><path d="M64.1 53.3 Q68.5 54.1 70.6 54.5"/><path d="M100.0 46.2 Q101.5 45.4 103.3 47.1"/><path d="M76.6 53.6 Q80.3 52.9 84.3 52.8"/><path d="M40.0 47.5 Q43.0 44.8 46.1 45.0"/><path d="M95.6 49.8 Q99.2 49.5 100.7 48.4"/><path d="M33.4 53.0 Q36.2 52.0 37.3 52.5"/><path d="M59.5 47.3 Q62.2 48.0 63.7 46.3"/><path d="M78.6 59.2 Q80.2 60.2 84.6 60.8"/><path d="M20.3 50.3 Q21.8 49.7 26.3 51.5"/><path d="M17.5 62.7 Q19.5 64.6 20.7 64.5"/><path d="M80.5 60.6 Q83.5 61.3 83.9 61.5"/><path d="M87.8 65.5 Q90.4 66.2 95.0 64.6"/><path d="M18.9 57.6 Q22.4 57.0 23.3 55.4"/><path d="M34.4 65.7 Q35.5 64.9 39.0 66.2"/><path d="M56.2 53.8 Q57.5 54.0 60.2 52.8"/><path d="M40.3 68.1 Q42.3 69.2 45.4 67.9"/><path d="M31.0 52.6 Q33.2 53.3 36.8 52.6"/><path d="M47.2 62.6 Q50.8 61.5 52.4 60.9"/><path d="M87.7 56.4 Q91.9 56.8 94.3 55.0"/><path d="M20.6 61.0 Q23.6 63.4 27.2 63.3"/><path d="M28.4 58.0 Q32.4 57.9 35.7 56.8"/><path d="M78.2 47.8 Q80.5 46.2 82.9 46.3"/><path d="M52.8 52.9 Q55.3 53.2 59.6 52.9"/><path d="M48.8 55.4 Q51.5 55.8 52.2 53.6"/><path d="M26.9 63.5 Q28.3 63.9 30.6 62.5"/><path d="M44.5 50.5 Q49.3 51.4 51.4 51.4"/><path d="M67.5 65.9 Q71.5 65.5 74.6 67.7"/><path d="M87.5 69.9 Q87.9 71.0 90.7 70.9"/><path d="M91.4 65.3 Q92.5 64.9 96.3 63.3"/><path d="M72.1 56.3 Q73.4 55.8 77.4 56.6"/><path d="M78.1 55.2 Q80.5 55.8 84.2 58.2"/><path d="M88.9 63.7 Q91.8 61.8 92.9 61.8"/><path d="M56.8 60.5 Q60.5 61.0 62.7 59.3"/><path d="M20.6 64.4 Q24.2 65.7 28.2 65.5"/><path d="M58.3 68.8 Q60.6 69.0 62.5 67.0"/><path d="M57.4 65.6 Q61.1 67.6 64.8 67.7"/><path d="M85.9 47.4 Q89.9 47.2 91.6 49.3"/><path d="M79.5 46.9 Q80.9 49.0 84.9 49.7"/><path d="M97.5 69.2 Q99.0 70.3 101.8 69.3"/><path d="M24.5 56.2 Q26.1 58.2 29.9 59.0"/><path d="M66.9 65.9 Q71.3 63.6 74.2 63.8"/><path d="M100.1 66.1 Q100.2 66.0 103.1 64.9"/><path d="M35.4 53.9 Q37.4 53.9 39.5 54.6"/><path d="M106.7 66.9 Q109.8 65.8 114.2 65.4"/><path d="M18.0 61.1 Q21.0 59.8 22.0 60.4"/><path d="M46.6 51.7 Q47.9 52.3 51.9 53.5"/><path d="M58.9 46.0 Q60.7 47.0 64.9 49.3"/><path d="M84.0 48.8 Q86.4 51.1 90.1 50.7"/><path d="M17.7 49.7 Q18.9 47.7 22.1 47.6"/><path d="M22.8 50.5 Q23.4 50.2 26.1 51.8"/><path d="M106.4 51.2 Q107.0 49.3 109.3 49.9"/><path d="M53.7 46.1 Q57.5 45.1 59.1 44.0"/><path d="M30.8 54.2 Q34.1 52.6 36.5 52.0"/><path d="M64.6 47.9 Q68.6 50.3 70.1 50.0"/><path d="M84.3 46.2 Q86.8 46.7 90.9 46.1"/><path d="M104.9 58.2 Q107.1 57.6 110.4 57.6"/><path d="M67.2 50.8 Q69.6 52.0 71.4 51.9"/><path d="M44.9 65.2 Q47.3 65.7 49.0 67.0"/><path d="M94.9 67.9 Q98.9 67.2 101.6 67.6"/><path d="M33.8 56.3 Q36.4 55.0 40.9 54.3"/><path d="M29.3 57.8 Q33.4 58.1 36.6 59.2"/><path d="M80.7 68.4 Q82.8 69.5 86.0 70.1"/><path d="M40.9 47.9 Q42.7 48.6 44.5 47.9"/><path d="M76.5 67.7 Q80.9 65.6 83.6 66.0"/><path d="M58.0 67.9 Q59.7 68.9 61.4 67.8"/><path d="M28.3 64.6 Q32.9 62.9 34.7 63.2"/><path d="M104.0 52.2 Q106.3 54.6 108.3 54.1"/><path d="M78.4 57.1 Q79.9 56.0 82.9 54.7"/><path d="M73.7 51.7 Q77.0 51.6 80.3 51.0"/><path d="M83.4 55.9 Q86.6 55.2 88.6 53.2"/><path d="M30.3 63.5 Q34.8 63.6 37.0 66.2"/><path d="M87.6 69.4 Q92.5 69.3 95.1 68.2"/><path d="M64.0 64.4 Q66.8 61.6 71.2 61.6"/><path d="M56.4 54.8 Q58.2 55.7 62.5 56.5"/><path d="M74.2 60.4 Q75.9 59.2 79.9 58.7"/><path d="M99.2 67.9 Q100.2 66.7 103.4 67.1"/><path d="M67.7 56.9 Q69.3 56.5 70.6 56.3"/><path d="M32.6 53.5 Q33.5 53.6 35.8 52.7"/><path d="M41.1 68.2 Q44.0 69.3 48.7 67.6"/><path d="M33.2 49.5 Q36.3 49.0 37.3 48.3"/><path d="M55.1 50.6 Q57.5 48.1 61.5 47.9"/><path d="M68.2 63.6 Q71.5 61.6 73.4 62.3"/><path d="M75.3 52.7 Q78.0 53.7 80.9 52.2"/><path d="M21.5 46.1 Q23.5 44.8 27.0 43.8"/><path d="M62.5 61.1 Q64.5 61.6 65.8 60.5"/><path d="M50.7 54.5 Q52.9 53.8 54.7 55.0"/><path d="M90.6 63.8 Q93.3 61.0 97.5 61.0"/><path d="M45.4 63.7 Q48.6 62.5 52.3 60.9"/><path d="M53.9 57.2 Q55.6 56.7 58.8 57.6"/><path d="M34.7 52.3 Q37.9 53.9 39.3 53.7"/><path d="M52.6 69.6 Q54.8 67.3 57.5 67.8"/><path d="M17.7 69.9 Q22.3 70.6 25.6 68.4"/><path d="M51.5 59.5 Q52.3 58.4 55.3 57.4"/><path d="M98.3 53.3 Q101.9 52.9 105.0 52.6"/><path d="M49.1 57.7 Q51.4 56.1 52.6 56.4"/><path d="M19.5 69.3 Q22.9 66.8 25.0 66.9"/><path d="M101.6 65.4 Q104.5 64.6 107.4 66.5"/><path d="M70.8 65.9 Q74.1 66.1 77.1 67.0"/><path d="M42.5 52.7 Q46.9 53.6 48.7 54.3"/><path d="M23.0 59.5 Q23.4 59.9 26.1 60.4"/><path d="M33.2 63.1 Q36.6 65.7 39.4 65.6"/><path d="M22.3 64.9 Q23.8 65.6 26.7 66.9"/><path d="M80.3 62.3 Q80.6 62.8 83.7 62.2"/><path d="M80.2 52.6 Q83.4 53.6 85.7 54.7"/><path d="M59.3 64.1 Q62.8 62.9 65.9 62.6"/><path d="M91.7 51.9 Q93.4 52.9 95.6 53.0"/><path d="M91.0 63.4 Q92.9 63.6 96.7 65.4"/><path d="M101.6 49.8 Q105.9 51.2 108.0 51.3"/><path d="M102.7 48.8 Q106.2 49.7 109.3 52.2"/><path d="M71.4 46.9 Q73.5 45.6 76.8 44.1"/><path d="M14.3 64.8 Q17.7 62.7 20.3 61.5"/><path d="M104.8 58.3 Q106.3 59.4 109.9 60.8"/><path d="M97.6 50.8 Q98.9 51.5 100.7 49.9"/><path d="M58.8 59.3 Q62.4 59.8 63.8 57.4"/><path d="M83.5 61.1 Q87.2 59.8 88.1 61.1"/><path d="M63.5 50.9 Q66.5 51.1 67.6 50.5"/><path d="M103.2 51.1 Q106.7 52.0 110.2 53.4"/><path d="M80.8 65.8 Q82.9 65.1 85.9 65.4"/><path d="M72.6 54.8 Q73.5 55.1 76.6 55.0"/><path d="M80.3 55.2 Q84.1 56.6 86.2 56.7"/><path d="M47.6 62.8 Q51.9 63.4 53.9 65.9"/><path d="M51.5 59.8 Q53.1 58.8 55.6 60.1"/><path d="M36.8 54.0 Q40.0 56.2 43.2 56.1"/><path d="M83.4 59.4 Q87.1 57.3 89.1 56.5"/><path d="M43.5 53.8 Q47.0 55.4 48.9 54.1"/><path d="M76.0 52.6 Q78.6 53.2 79.5 53.7"/><path d="M15.5 47.7 Q18.4 45.6 18.5 46.2"/><path d="M17.7 69.0 Q21.5 68.9 23.9 66.0"/><path d="M47.1 66.2 Q49.3 66.8 54.4 65.8"/><path d="M94.4 58.5 Q96.0 59.3 97.5 60.1"/><path d="M43.1 46.2 Q46.6 46.2 50.6 48.5"/><path d="M56.6 62.0 Q57.2 61.2 60.3 63.3"/><path d="M39.2 58.5 Q41.0 59.6 42.4 58.2"/><path d="M90.2 61.6 Q93.6 59.1 94.6 59.5"/><path d="M41.2 66.9 Q45.0 66.5 47.4 67.5"/><path d="M20.8 56.3 Q21.5 58.2 24.9 57.6"/><path d="M104.7 57.8 Q109.3 56.5 112.1 56.9"/><path d="M102.2 68.3 Q105.5 70.4 109.4 69.9"/><path d="M55.2 46.4 Q59.1 44.2 62.7 44.5"/><path d="M20.0 55.5 Q21.2 55.3 24.1 55.2"/><path d="M34.0 54.0 Q36.2 53.8 37.8 53.3"/><path d="M47.5 60.3 Q49.9 59.8 53.2 61.2"/><path d="M89.0 52.1 Q92.2 51.1 96.4 51.4"/><path d="M50.5 60.5 Q53.2 60.1 54.3 59.2"/><path d="M68.6 63.3 Q69.4 62.0 71.9 61.8"/><path d="M25.2 48.1 Q27.5 47.5 29.4 46.9"/><path d="M30.0 49.3 Q34.8 48.7 37.8 49.7"/><path d="M25.3 55.7 Q29.7 57.8 31.2 56.8"/><path d="M37.0 56.6 Q40.0 54.8 44.3 55.9"/><path d="M94.3 55.9 Q97.7 54.7 99.5 55.1"/><path d="M15.4 50.1 Q17.4 49.5 18.7 48.5"/><path d="M27.7 56.1 Q29.6 56.6 33.4 55.3"/><path d="M52.9 47.7 Q56.4 48.6 57.6 48.7"/><path d="M45.5 50.1 Q48.2 50.4 50.7 52.8"/><path d="M23.5 49.4 Q24.7 49.3 27.9 50.1"/><path d="M60.7 53.9 Q61.8 54.1 65.9 54.8"/><path d="M99.8 50.3 Q102.1 50.0 105.0 49.4"/><path d="M30.5 60.3 Q35.7 59.4 38.3 60.5"/><path d="M35.6 47.0 Q37.7 46.9 42.3 46.2"/><path d="M56.0 69.5 Q60.3 71.4 63.3 72.0"/></g><polyline points="39.6,58.0 39.3,58.2 39.0,58.4 38.7,58.6 38.4,58.7 38.0,58.8 37.7,58.8 37.4,58.9 37.0,58.9 36.7,58.9 36.3,58.8 36.0,58.8 35.7,58.7 35.3,58.6 35.0,58.4 34.7,58.2 34.5,58.0 34.2,57.7 34.1,57.5 34.0,57.2 34.0,56.8 34.0,56.5 34.1,56.2 34.1,55.9 34.3,55.7 34.4,55.4 34.6,55.2 34.8,54.9 35.0,54.7 35.2,54.5 35.5,54.3 35.8,54.1 36.1,53.9 36.5,53.8 36.8,53.8 37.2,53.8 37.6,53.8 37.9,53.9 38.2,54.1 38.5,54.3" stroke="#e8e8e8" stroke-width="0.7" fill="none" opacity="0.9"/><polyline points="32.1,58.1 32.0,57.6 32.0,57.0 32.1,56.5 32.2,56.0 32.5,55.5 32.7,55.0 33.0,54.6 33.3,54.2 33.7,53.8 34.1,53.4 34.6,53.0 35.1,52.7 35.7,52.5 36.3,52.4 37.0,52.3 37.6,52.4 38.3,52.5 38.9,52.7 39.4,53.0 39.9,53.4 40.3,53.8 40.7,54.2 41.0,54.6 41.3,55.0 41.5,55.5 41.7,56.0 41.9,56.5 42.0,57.0 42.0,57.6 41.9,58.1 41.7,58.6 41.4,59.1 41.0,59.6 40.5,59.9 40.0,60.2 39.4,60.4 38.8,60.6 38.2,60.7 37.6,60.7" stroke="#e8e8e8" stroke-width="0.7" fill="none" opacity="0.9"/><polyline points="34.1,62.6 33.3,62.4 32.5,62.0 31.8,61.6 31.1,61.1 30.6,60.5 30.2,59.9 29.9,59.2 29.7,58.5 29.7,57.7 29.8,57.0 30.0,56.3 30.2,55.6 30.5,55.0 30.9,54.4 31.3,53.8 31.7,53.2 32.2,52.7 32.8,52.2 33.4,51.7 34.2,51.3 34.9,51.0 35.8,50.8 36.6,50.6 37.5,50.7 38.4,50.8 39.2,51.0 40.0,51.4 40.7,51.8 41.3,52.3 41.8,52.8 42.3,53.3 42.8,53.9 43.2,54.5 43.5,55.1 43.8,55.7 44.1,56.4 44.2,57.1 44.3,57.8 44.3,58.6" stroke="#e8e8e8" stroke-width="0.7" fill="none" opacity="0.9"/><polyline points="31.4,64.1 30.2,63.4 29.1,62.5 28.2,61.5 27.7,60.3 27.4,59.0 27.5,57.7 27.7,56.5 28.2,55.4 28.7,54.3 29.4,53.3 30.2,52.3 31.1,51.4 32.1,50.5 33.4,49.8 34.7,49.3 36.2,49.0 37.7,49.0 39.2,49.3 40.6,49.8 41.8,50.5 42.9,51.3 43.8,52.3 44.6,53.2 45.2,54.3 45.8,55.3 46.3,56.5 46.5,57.7 46.6,59.0 46.3,60.2 45.8,61.4 44.9,62.5 43.9,63.4 42.6,64.1 41.2,64.6 39.8,64.9 38.5,65.0 37.1,65.1 35.7,65.0 34.3,64.9" stroke="#e8e8e8" stroke-width="0.7" fill="none" opacity="0.9"/><polyline points="36.5,47.7 38.2,47.8 39.9,48.1 41.4,48.7 42.8,49.5 44.0,50.5 45.0,51.5 45.9,52.6 46.6,53.8 47.3,55.0 47.8,56.2 48.2,57.6 48.3,59.0 48.2,60.4 47.7,61.8 46.9,63.1 45.8,64.2 44.5,65.1 43.0,65.8 41.5,66.3 39.9,66.6 38.3,66.7 36.8,66.7 35.2,66.7 33.7,66.5 32.1,66.1 30.6,65.6 29.1,64.9 27.9,63.9 26.8,62.7 26.1,61.4 25.7,60.0 25.7,58.6 25.9,57.2 26.3,55.9 26.9,54.6 27.6,53.4 28.4,52.3 29.3,51.2 30.4,50.2" stroke="#e8e8e8" stroke-width="0.7" fill="none" opacity="0.9"/><polyline points="32.7,46.9 34.2,46.4 35.8,46.1 37.4,46.1 39.0,46.3 40.6,46.6 42.0,47.2 43.3,48.0 44.5,48.8 45.6,49.7 46.6,50.7 47.4,51.8 48.2,52.9 48.8,54.0 49.4,55.1 49.9,56.4 50.3,57.6 50.5,59.0 50.5,60.3 50.2,61.7 49.7,63.0 49.0,64.2 48.0,65.3 46.8,66.3 45.5,67.1 44.1,67.7 42.6,68.2 41.1,68.5 39.6,68.7 38.1,68.8 36.7,68.8 35.2,68.7 33.7,68.6 32.2,68.3 30.7,68.0 29.3,67.4 27.9,66.8 26.6,65.9 25.6,64.9 24.7,63.7" stroke="#e8e8e8" stroke-width="0.7" fill="none" opacity="0.9"/></g><g filter="url(#blur03)"><g stroke="#d0d0d0" stroke-width="0.6" fill="none" opacity="0.6"><path d="M94.5 43.7 Q96.1 42.4 98.0 40.7"/><path d="M69.4 42.0 Q69.4 40.8 71.9 42.0"/><path d="M60.8 37.3 Q62.5 37.9 65.1 38.0"/><path d="M65.7 39.7 Q66.0 40.7 69.0 40.7"/><path d="M45.6 39.2 Q48.2 41.7 50.9 41.6"/><path d="M49.5 39.7 Q52.4 37.1 53.0 37.6"/><path d="M80.5 40.3 Q82.6 40.3 83.1 41.2"/><path d="M73.3 42.4 Q76.7 42.9 78.8 42.4"/><path d="M76.9 42.0 Q78.4 39.7 79.5 38.9"/><path d="M57.2 40.0 Q59.2 40.0 60.4 38.6"/><path d="M49.0 41.6 Q48.6 42.0 50.7 40.0"/><path d="M48.7 36.8 Q48.8 37.3 51.5 37.4"/><path d="M93.2 40.1 Q93.8 42.4 96.5 42.9"/><path d="M57.5 42.3 Q61.0 42.0 62.1 43.8"/><path d="M58.8 41.2 Q59.2 42.0 61.3 42.1"/><path d="M85.0 36.1 Q85.9 36.1 87.5 34.5"/><path d="M59.3 39.3 Q61.6 39.6 61.5 39.1"/><path d="M67.0 41.5 Q68.5 41.8 69.0 39.9"/><path d="M43.2 43.7 Q46.0 46.6 47.0 48.0"/><path d="M41.7 41.3 Q42.7 41.9 43.5 43.4"/><path d="M78.1 41.0 Q78.9 39.0 82.0 38.6"/><path d="M85.4 42.5 Q87.7 42.3 88.8 41.6"/><path d="M85.8 42.7 Q87.7 42.1 87.8 40.4"/><path d="M64.2 42.5 Q64.3 42.7 66.4 42.4"/><path d="M91.2 40.9 Q93.2 41.2 92.8 39.5"/><path d="M56.4 37.4 Q58.5 39.0 58.6 39.7"/><path d="M95.0 38.6 Q96.9 39.3 100.0 37.5"/><path d="M99.4 37.5 Q100.5 40.0 101.7 40.2"/><path d="M56.4 41.2 Q59.7 39.6 60.0 36.6"/><path d="M70.1 36.2 Q72.1 36.5 73.2 36.5"/><path d="M53.3 41.5 Q54.2 39.1 57.9 38.3"/><path d="M40.6 37.3 Q43.2 36.2 43.6 36.2"/><path d="M60.9 36.6 Q64.3 36.0 65.1 36.5"/><path d="M77.0 40.9 Q78.9 40.6 79.7 41.3"/><path d="M79.6 37.2 Q80.7 37.4 82.7 40.4"/><path d="M49.6 36.2 Q50.6 35.4 52.9 35.6"/><path d="M40.1 37.5 Q43.0 35.7 43.7 34.2"/><path d="M41.7 43.2 Q44.0 43.8 43.8 41.7"/><path d="M62.7 38.5 Q62.6 37.6 65.2 37.3"/><path d="M95.2 43.9 Q95.8 43.3 98.4 42.5"/></g><g stroke="#e8e8e8" stroke-width="0.6" fill="none" opacity="0.6"><path d="M51.0 29.2 Q54.7 30.1 56.1 30.0"/><path d="M47.7 36.6 Q50.7 36.4 54.2 36.9"/><path d="M84.8 28.2 Q88.0 27.5 88.7 28.2"/><path d="M87.2 36.2 Q90.8 36.5 95.6 34.2"/><path d="M78.4 33.0 Q80.4 32.5 82.3 32.4"/><path d="M68.5 37.6 Q72.4 37.4 76.0 39.4"/><path d="M84.8 27.8 Q88.8 28.4 90.3 27.8"/><path d="M87.4 28.0 Q90.8 27.4 96.2 28.6"/><path d="M69.6 36.3 Q70.9 35.8 74.9 35.0"/><path d="M90.4 25.8 Q93.8 26.7 94.4 25.4"/><path d="M50.7 37.9 Q52.3 37.1 54.3 38.4"/><path d="M41.9 24.3 Q44.3 23.2 49.1 24.4"/><path d="M47.2 32.1 Q47.9 31.5 51.7 33.3"/><path d="M89.5 32.4 Q92.3 32.9 96.5 33.6"/><path d="M75.5 27.8 Q77.2 26.8 78.9 27.3"/><path d="M66.0 34.7 Q70.4 36.7 72.0 36.4"/><path d="M68.6 26.5 Q71.2 25.7 73.7 25.6"/><path d="M42.6 32.3 Q47.5 32.3 49.9 31.8"/><path d="M58.0 33.1 Q61.6 33.0 64.2 31.3"/><path d="M56.8 34.1 Q58.9 33.5 62.1 33.5"/><path d="M64.3 29.4 Q66.8 28.7 70.9 30.6"/><path d="M44.1 36.6 Q47.9 36.6 49.8 37.1"/><path d="M74.3 25.2 Q77.7 26.6 78.7 25.8"/><path d="M52.5 33.8 Q54.9 33.8 57.5 34.0"/><path d="M50.6 33.4 Q53.6 33.0 55.4 33.3"/><path d="M73.1 26.4 Q76.2 27.1 78.0 25.3"/><path d="M92.2 30.3 Q93.5 30.2 95.2 31.2"/><path d="M44.4 31.2 Q48.8 32.4 52.5 32.6"/><path d="M91.3 36.6 Q93.9 37.5 97.8 38.6"/><path d="M56.0 26.9 Q61.1 27.7 64.1 28.5"/><path d="M78.7 26.2 Q81.5 27.0 81.7 26.9"/><path d="M45.1 25.0 Q48.3 24.7 51.8 25.7"/><path d="M64.2 34.9 Q67.1 35.9 72.5 34.4"/><path d="M54.7 31.9 Q57.2 30.4 60.8 31.1"/><path d="M60.2 29.3 Q64.1 29.0 68.4 30.7"/><path d="M72.4 24.3 Q74.7 24.7 77.6 25.2"/><path d="M59.6 29.7 Q61.3 30.9 65.8 29.3"/><path d="M77.4 28.6 Q82.5 28.8 85.1 29.9"/><path d="M68.8 28.2 Q72.6 29.1 75.3 27.7"/><path d="M88.5 30.8 Q91.8 30.6 92.9 30.1"/><path d="M51.2 27.6 Q53.8 28.5 55.9 28.1"/><path d="M64.3 34.2 Q69.5 34.3 72.0 36.5"/><path d="M81.1 24.1 Q85.8 22.8 89.6 21.8"/><path d="M73.6 32.4 Q77.2 33.3 78.2 31.7"/><path d="M52.8 27.2 Q58.0 27.8 61.7 27.0"/><path d="M89.6 29.5 Q93.1 28.6 98.5 29.5"/><path d="M73.6 34.2 Q75.7 32.8 80.5 33.8"/><path d="M65.9 29.8 Q69.0 28.5 73.8 30.2"/><path d="M45.9 24.4 Q48.8 24.3 54.3 25.4"/><path d="M91.5 31.1 Q93.3 32.3 97.4 31.0"/></g></g><rect x="0" y="0" width="124" height="92" fill="none" stroke="#000" stroke-width="1"/></svg>
<defs><linearGradient id="cba" x1="0" y1="1" x2="0" y2="0"><stop offset="0.0" stop-color="#fff5eb"/><stop offset="0.125" stop-color="#fee6ce"/><stop offset="0.25" stop-color="#fdd0a2"/><stop offset="0.375" stop-color="#fdae6b"/><stop offset="0.5" stop-color="#fd8d3c"/><stop offset="0.625" stop-color="#f16913"/><stop offset="0.75" stop-color="#d94801"/><stop offset="0.875" stop-color="#a63603"/><stop offset="1.0" stop-color="#7f2704"/></linearGradient></defs>
<rect x="42.5" y="117" width="100.3" height="72" fill="#fd8d3c"/>
<svg x="42.5" y="117" width="100.3" height="72" viewBox="0 0 100.3 72"><g filter="url(#blur03)"><rect x="27.73" y="39.71" width="2.36" height="2.70" fill="#e65a0b"/><rect x="32.35" y="39.71" width="2.36" height="2.70" fill="#ac3803"/><rect x="34.67" y="39.71" width="2.36" height="2.70" fill="#e75b0b"/><rect x="43.91" y="39.71" width="2.36" height="2.70" fill="#dc4c03"/><rect x="48.53" y="39.71" width="2.36" height="2.70" fill="#bc3e02"/><rect x="55.47" y="39.71" width="2.36" height="2.70" fill="#de4e05"/><rect x="57.78" y="39.71" width="2.36" height="2.70" fill="#ab3803"/><rect x="60.09" y="39.71" width="2.36" height="2.70" fill="#e75c0c"/><rect x="64.71" y="39.71" width="2.36" height="2.70" fill="#da4a02"/><rect x="69.33" y="39.71" width="2.36" height="2.70" fill="#c94202"/><rect x="76.26" y="39.71" width="2.36" height="2.70" fill="#d34601"/><rect x="80.89" y="39.71" width="2.36" height="2.70" fill="#cc4302"/><rect x="27.73" y="42.35" width="2.36" height="2.70" fill="#fda55e"/><rect x="30.04" y="42.35" width="2.36" height="2.70" fill="#fda760"/><rect x="32.35" y="42.35" width="2.36" height="2.70" fill="#fda761"/><rect x="34.67" y="42.35" width="2.36" height="2.70" fill="#fda660"/><rect x="36.98" y="42.35" width="2.36" height="2.70" fill="#fda35c"/><rect x="39.29" y="42.35" width="2.36" height="2.70" fill="#fd9e54"/><rect x="41.60" y="42.35" width="2.36" height="2.70" fill="#fd9649"/><rect x="43.91" y="42.35" width="2.36" height="2.70" fill="#fc8b3a"/><rect x="46.22" y="42.35" width="2.36" height="2.70" fill="#f87d29"/><rect x="48.53" y="42.35" width="2.36" height="2.70" fill="#f26c17"/><rect x="50.84" y="42.35" width="2.36" height="2.70" fill="#e95e0d"/><rect x="53.15" y="42.35" width="2.36" height="2.70" fill="#e35608"/><rect x="55.47" y="42.35" width="2.36" height="2.70" fill="#e15407"/><rect x="57.78" y="42.35" width="2.36" height="2.70" fill="#e5590a"/><rect x="60.09" y="42.35" width="2.36" height="2.70" fill="#ec620f"/><rect x="62.40" y="42.35" width="2.36" height="2.70" fill="#f26d18"/><rect x="64.71" y="42.35" width="2.36" height="2.70" fill="#f67824"/><rect x="67.02" y="42.35" width="2.36" height="2.70" fill="#f9802d"/><rect x="69.33" y="42.35" width="2.36" height="2.70" fill="#fb8735"/><rect x="71.64" y="42.35" width="2.36" height="2.70" fill="#fd8d3c"/><rect x="73.95" y="42.35" width="2.36" height="2.70" fill="#fd9446"/><rect x="76.26" y="42.35" width="2.36" height="2.70" fill="#fd994c"/><rect x="78.58" y="42.35" width="2.36" height="2.70" fill="#fd994e"/><rect x="80.89" y="42.35" width="2.36" height="2.70" fill="#fd9649"/><rect x="25.42" y="45.00" width="2.36" height="2.70" fill="#fdae6b"/><rect x="27.73" y="45.00" width="2.36" height="2.70" fill="#fdb272"/><rect x="30.04" y="45.00" width="2.36" height="2.70" fill="#fdb576"/><rect x="32.35" y="45.00" width="2.36" height="2.70" fill="#fdb677"/><rect x="34.67" y="45.00" width="2.36" height="2.70" fill="#fdb475"/><rect x="36.98" y="45.00" width="2.36" height="2.70" fill="#fdb06e"/><rect x="39.29" y="45.00" width="2.36" height="2.70" fill="#fda863"/><rect x="41.60" y="45.00" width="2.36" height="2.70" fill="#fd9d53"/><rect x="43.91" y="45.00" width="2.36" height="2.70" fill="#fd8d3c"/><rect x="46.22" y="45.00" width="2.36" height="2.70" fill="#f67824"/><rect x="48.53" y="45.00" width="2.36" height="2.70" fill="#eb610f"/><rect x="50.84" y="45.00" width="2.36" height="2.70" fill="#dd4d04"/><rect x="53.15" y="45.00" width="2.36" height="2.70" fill="#cd4401"/><rect x="55.47" y="45.00" width="2.36" height="2.70" fill="#c74202"/><rect x="57.78" y="45.00" width="2.36" height="2.70" fill="#d04501"/><rect x="60.09" y="45.00" width="2.36" height="2.70" fill="#de4e05"/><rect x="62.40" y="45.00" width="2.36" height="2.70" fill="#e85d0c"/><rect x="64.71" y="45.00" width="2.36" height="2.70" fill="#f16a14"/><rect x="67.02" y="45.00" width="2.36" height="2.70" fill="#f57521"/><rect x="69.33" y="45.00" width="2.36" height="2.70" fill="#f87f2c"/><rect x="71.64" y="45.00" width="2.36" height="2.70" fill="#fb8837"/><rect x="73.95" y="45.00" width="2.36" height="2.70" fill="#fd9244"/><rect x="76.26" y="45.00" width="2.36" height="2.70" fill="#fd9a4e"/><rect x="78.58" y="45.00" width="2.36" height="2.70" fill="#fd9c51"/><rect x="80.89" y="45.00" width="2.36" height="2.70" fill="#fd984b"/><rect x="23.11" y="47.65" width="2.36" height="2.70" fill="#fdb577"/><rect x="25.42" y="47.65" width="2.36" height="2.70" fill="#fdbd83"/><rect x="27.73" y="47.65" width="2.36" height="2.70" fill="#fdc38d"/><rect x="30.04" y="47.65" width="2.36" height="2.70" fill="#fdc793"/><rect x="32.35" y="47.65" width="2.36" height="2.70" fill="#fdc895"/><rect x="34.67" y="47.65" width="2.36" height="2.70" fill="#fdc692"/><rect x="36.98" y="47.65" width="2.36" height="2.70" fill="#fdc088"/><rect x="39.29" y="47.65" width="2.36" height="2.70" fill="#fdb679"/><rect x="41.60" y="47.65" width="2.36" height="2.70" fill="#fda863"/><rect x="43.91" y="47.65" width="2.36" height="2.70" fill="#fd9649"/><rect x="46.22" y="47.65" width="2.36" height="2.70" fill="#f87e2b"/><rect x="48.53" y="47.65" width="2.36" height="2.70" fill="#ed6410"/><rect x="50.84" y="47.65" width="2.36" height="2.70" fill="#dd4d04"/><rect x="53.15" y="47.65" width="2.36" height="2.70" fill="#c84202"/><rect x="55.47" y="47.65" width="2.36" height="2.70" fill="#bd3e02"/><rect x="57.78" y="47.65" width="2.36" height="2.70" fill="#c24002"/><rect x="60.09" y="47.65" width="2.36" height="2.70" fill="#d24501"/><rect x="62.40" y="47.65" width="2.36" height="2.70" fill="#df5005"/><rect x="64.71" y="47.65" width="2.36" height="2.70" fill="#e85c0c"/><rect x="67.02" y="47.65" width="2.36" height="2.70" fill="#ef6612"/><rect x="69.33" y="47.65" width="2.36" height="2.70" fill="#f3701b"/><rect x="71.64" y="47.65" width="2.36" height="2.70" fill="#f77c28"/><rect x="73.95" y="47.65" width="2.36" height="2.70" fill="#fb8836"/><rect x="76.26" y="47.65" width="2.36" height="2.70" fill="#fd9243"/><rect x="78.58" y="47.65" width="2.36" height="2.70" fill="#fd9548"/><rect x="80.89" y="47.65" width="2.36" height="2.70" fill="#fd9345"/><rect x="23.11" y="50.29" width="2.36" height="2.70" fill="#fdc38c"/><rect x="25.42" y="50.29" width="2.36" height="2.70" fill="#fdcc9c"/><rect x="27.73" y="50.29" width="2.36" height="2.70" fill="#fdd3a8"/><rect x="30.04" y="50.29" width="2.36" height="2.70" fill="#fdd6af"/><rect x="32.35" y="50.29" width="2.36" height="2.70" fill="#fdd7b1"/><rect x="34.67" y="50.29" width="2.36" height="2.70" fill="#fdd6ae"/><rect x="36.98" y="50.29" width="2.36" height="2.70" fill="#fdd1a5"/><rect x="39.29" y="50.29" width="2.36" height="2.70" fill="#fdc794"/><rect x="41.60" y="50.29" width="2.36" height="2.70" fill="#fdb87b"/><rect x="43.91" y="50.29" width="2.36" height="2.70" fill="#fda45d"/><rect x="46.22" y="50.29" width="2.36" height="2.70" fill="#fd8e3d"/><rect x="48.53" y="50.29" width="2.36" height="2.70" fill="#f5741f"/><rect x="50.84" y="50.29" width="2.36" height="2.70" fill="#e85c0c"/><rect x="53.15" y="50.29" width="2.36" height="2.70" fill="#da4a02"/><rect x="55.47" y="50.29" width="2.36" height="2.70" fill="#cb4302"/><rect x="57.78" y="50.29" width="2.36" height="2.70" fill="#c64102"/><rect x="60.09" y="50.29" width="2.36" height="2.70" fill="#ca4302"/><rect x="62.40" y="50.29" width="2.36" height="2.70" fill="#d34601"/><rect x="64.71" y="50.29" width="2.36" height="2.70" fill="#db4b03"/><rect x="67.02" y="50.29" width="2.36" height="2.70" fill="#e05207"/><rect x="69.33" y="50.29" width="2.36" height="2.70" fill="#e65b0b"/><rect x="71.64" y="50.29" width="2.36" height="2.70" fill="#ee6511"/><rect x="73.95" y="50.29" width="2.36" height="2.70" fill="#f4721d"/><rect x="76.26" y="50.29" width="2.36" height="2.70" fill="#f87e2b"/><rect x="78.58" y="50.29" width="2.36" height="2.70" fill="#fa8533"/><rect x="80.89" y="50.29" width="2.36" height="2.70" fill="#fb8836"/><rect x="20.80" y="52.94" width="2.36" height="2.70" fill="#fdc28b"/><rect x="23.11" y="52.94" width="2.36" height="2.70" fill="#fdcfa0"/><rect x="25.42" y="52.94" width="2.36" height="2.70" fill="#fdd7b0"/><rect x="27.73" y="52.94" width="2.36" height="2.70" fill="#feddbd"/><rect x="30.04" y="52.94" width="2.36" height="2.70" fill="#fee1c5"/><rect x="32.35" y="52.94" width="2.36" height="2.70" fill="#fee3c8"/><rect x="34.67" y="52.94" width="2.36" height="2.70" fill="#fee1c4"/><rect x="36.98" y="52.94" width="2.36" height="2.70" fill="#fedcba"/><rect x="39.29" y="52.94" width="2.36" height="2.70" fill="#fdd4aa"/><rect x="41.60" y="52.94" width="2.36" height="2.70" fill="#fdc692"/><rect x="43.91" y="52.94" width="2.36" height="2.70" fill="#fdb373"/><rect x="46.22" y="52.94" width="2.36" height="2.70" fill="#fd9d53"/><rect x="48.53" y="52.94" width="2.36" height="2.70" fill="#fb8634"/><rect x="50.84" y="52.94" width="2.36" height="2.70" fill="#f26d18"/><rect x="53.15" y="52.94" width="2.36" height="2.70" fill="#e5590a"/><rect x="55.47" y="52.94" width="2.36" height="2.70" fill="#da4902"/><rect x="57.78" y="52.94" width="2.36" height="2.70" fill="#c94202"/><rect x="60.09" y="52.94" width="2.36" height="2.70" fill="#be3f02"/><rect x="62.40" y="52.94" width="2.36" height="2.70" fill="#ba3d02"/><rect x="64.71" y="52.94" width="2.36" height="2.70" fill="#ba3d02"/><rect x="67.02" y="52.94" width="2.36" height="2.70" fill="#bf3f02"/><rect x="69.33" y="52.94" width="2.36" height="2.70" fill="#c94202"/><rect x="71.64" y="52.94" width="2.36" height="2.70" fill="#d84801"/><rect x="73.95" y="52.94" width="2.36" height="2.70" fill="#e25408"/><rect x="76.26" y="52.94" width="2.36" height="2.70" fill="#ec620f"/><rect x="78.58" y="52.94" width="2.36" height="2.70" fill="#f36e18"/><rect x="80.89" y="52.94" width="2.36" height="2.70" fill="#f67723"/><rect x="20.80" y="55.59" width="2.36" height="2.70" fill="#fdc996"/><rect x="23.11" y="55.59" width="2.36" height="2.70" fill="#fdd5ab"/><rect x="25.42" y="55.59" width="2.36" height="2.70" fill="#feddbd"/><rect x="27.73" y="55.59" width="2.36" height="2.70" fill="#fee5cb"/><rect x="30.04" y="55.59" width="2.36" height="2.70" fill="#fee8d2"/><rect x="32.35" y="55.59" width="2.36" height="2.70" fill="#fee9d4"/><rect x="34.67" y="55.59" width="2.36" height="2.70" fill="#fee8d2"/><rect x="36.98" y="55.59" width="2.36" height="2.70" fill="#fee3c9"/><rect x="39.29" y="55.59" width="2.36" height="2.70" fill="#fedbb8"/><rect x="41.60" y="55.59" width="2.36" height="2.70" fill="#fdd0a2"/><rect x="43.91" y="55.59" width="2.36" height="2.70" fill="#fdbc82"/><rect x="46.22" y="55.59" width="2.36" height="2.70" fill="#fda660"/><rect x="48.53" y="55.59" width="2.36" height="2.70" fill="#fd9040"/><rect x="50.84" y="55.59" width="2.36" height="2.70" fill="#f67723"/><rect x="53.15" y="55.59" width="2.36" height="2.70" fill="#ea5f0e"/><rect x="55.47" y="55.59" width="2.36" height="2.70" fill="#db4a02"/><rect x="57.78" y="55.59" width="2.36" height="2.70" fill="#c13f02"/><rect x="60.09" y="55.59" width="2.36" height="2.70" fill="#aa3703"/><rect x="62.40" y="55.59" width="2.36" height="2.70" fill="#9d3203"/><rect x="64.71" y="55.59" width="2.36" height="2.70" fill="#963003"/><rect x="67.02" y="55.59" width="2.36" height="2.70" fill="#953003"/><rect x="69.33" y="55.59" width="2.36" height="2.70" fill="#9a3203"/><rect x="71.64" y="55.59" width="2.36" height="2.70" fill="#a53603"/><rect x="73.95" y="55.59" width="2.36" height="2.70" fill="#b93d02"/><rect x="76.26" y="55.59" width="2.36" height="2.70" fill="#d24601"/><rect x="78.58" y="55.59" width="2.36" height="2.70" fill="#e25508"/><rect x="80.89" y="55.59" width="2.36" height="2.70" fill="#ee6511"/><rect x="20.80" y="58.24" width="2.36" height="2.70" fill="#fdcb9a"/><rect x="23.11" y="58.24" width="2.36" height="2.70" fill="#fdd7af"/><rect x="25.42" y="58.24" width="2.36" height="2.70" fill="#fee0c1"/><rect x="27.73" y="58.24" width="2.36" height="2.70" fill="#fee7d0"/><rect x="30.04" y="58.24" width="2.36" height="2.70" fill="#feead6"/><rect x="32.35" y="58.24" width="2.36" height="2.70" fill="#feebd8"/><rect x="34.67" y="58.24" width="2.36" height="2.70" fill="#feead5"/><rect x="36.98" y="58.24" width="2.36" height="2.70" fill="#fee6ce"/><rect x="39.29" y="58.24" width="2.36" height="2.70" fill="#feddbd"/><rect x="41.60" y="58.24" width="2.36" height="2.70" fill="#fdd2a7"/><rect x="43.91" y="58.24" width="2.36" height="2.70" fill="#fdbf87"/><rect x="46.22" y="58.24" width="2.36" height="2.70" fill="#fda965"/><rect x="48.53" y="58.24" width="2.36" height="2.70" fill="#fd9344"/><rect x="50.84" y="58.24" width="2.36" height="2.70" fill="#f67925"/><rect x="53.15" y="58.24" width="2.36" height="2.70" fill="#ea5f0e"/><rect x="55.47" y="58.24" width="2.36" height="2.70" fill="#d84801"/><rect x="57.78" y="58.24" width="2.36" height="2.70" fill="#b63c02"/><rect x="60.09" y="58.24" width="2.36" height="2.70" fill="#9c3203"/><rect x="62.40" y="58.24" width="2.36" height="2.70" fill="#8b2c04"/><rect x="64.71" y="58.24" width="2.36" height="2.70" fill="#802704"/><rect x="67.02" y="58.24" width="2.36" height="2.70" fill="#7f2704"/><rect x="69.33" y="58.24" width="2.36" height="2.70" fill="#7f2704"/><rect x="71.64" y="58.24" width="2.36" height="2.70" fill="#7f2704"/><rect x="73.95" y="58.24" width="2.36" height="2.70" fill="#8c2c04"/><rect x="76.26" y="58.24" width="2.36" height="2.70" fill="#a23503"/><rect x="78.58" y="58.24" width="2.36" height="2.70" fill="#c64102"/><rect x="80.89" y="58.24" width="2.36" height="2.70" fill="#e15407"/><rect x="20.80" y="60.88" width="2.36" height="2.70" fill="#fdc996"/><rect x="23.11" y="60.88" width="2.36" height="2.70" fill="#fdd5ab"/><rect x="25.42" y="60.88" width="2.36" height="2.70" fill="#feddbd"/><rect x="27.73" y="60.88" width="2.36" height="2.70" fill="#fee5cb"/><rect x="30.04" y="60.88" width="2.36" height="2.70" fill="#fee8d2"/><rect x="32.35" y="60.88" width="2.36" height="2.70" fill="#fee9d4"/><rect x="34.67" y="60.88" width="2.36" height="2.70" fill="#fee8d2"/><rect x="36.98" y="60.88" width="2.36" height="2.70" fill="#fee3c9"/><rect x="39.29" y="60.88" width="2.36" height="2.70" fill="#fedbb8"/><rect x="41.60" y="60.88" width="2.36" height="2.70" fill="#fdd1a3"/><rect x="43.91" y="60.88" width="2.36" height="2.70" fill="#fdbe84"/><rect x="46.22" y="60.88" width="2.36" height="2.70" fill="#fda964"/><rect x="48.53" y="60.88" width="2.36" height="2.70" fill="#fd9344"/><rect x="50.84" y="60.88" width="2.36" height="2.70" fill="#f77a27"/><rect x="53.15" y="60.88" width="2.36" height="2.70" fill="#eb610f"/><rect x="55.47" y="60.88" width="2.36" height="2.70" fill="#da4a02"/><rect x="57.78" y="60.88" width="2.36" height="2.70" fill="#b93d02"/><rect x="60.09" y="60.88" width="2.36" height="2.70" fill="#9e3303"/><rect x="62.40" y="60.88" width="2.36" height="2.70" fill="#8b2c04"/><rect x="64.71" y="60.88" width="2.36" height="2.70" fill="#7f2704"/><rect x="67.02" y="60.88" width="2.36" height="2.70" fill="#7f2704"/><rect x="69.33" y="60.88" width="2.36" height="2.70" fill="#7f2704"/><rect x="71.64" y="60.88" width="2.36" height="2.70" fill="#7f2704"/><rect x="73.95" y="60.88" width="2.36" height="2.70" fill="#7f2704"/><rect x="76.26" y="60.88" width="2.36" height="2.70" fill="#8b2c04"/><rect x="78.58" y="60.88" width="2.36" height="2.70" fill="#ad3903"/><rect x="80.89" y="60.88" width="2.36" height="2.70" fill="#da4902"/><rect x="20.80" y="63.53" width="2.36" height="2.70" fill="#fdc28b"/><rect x="23.11" y="63.53" width="2.36" height="2.70" fill="#fdcfa0"/><rect x="25.42" y="63.53" width="2.36" height="2.70" fill="#fdd7b0"/><rect x="27.73" y="63.53" width="2.36" height="2.70" fill="#feddbd"/><rect x="30.04" y="63.53" width="2.36" height="2.70" fill="#fee1c5"/><rect x="32.35" y="63.53" width="2.36" height="2.70" fill="#fee3c8"/><rect x="34.67" y="63.53" width="2.36" height="2.70" fill="#fee1c4"/><rect x="36.98" y="63.53" width="2.36" height="2.70" fill="#fedcbb"/><rect x="39.29" y="63.53" width="2.36" height="2.70" fill="#fdd5ac"/><rect x="41.60" y="63.53" width="2.36" height="2.70" fill="#fdc997"/><rect x="43.91" y="63.53" width="2.36" height="2.70" fill="#fdb97c"/><rect x="46.22" y="63.53" width="2.36" height="2.70" fill="#fda660"/><rect x="48.53" y="63.53" width="2.36" height="2.70" fill="#fd9445"/><rect x="50.84" y="63.53" width="2.36" height="2.70" fill="#f87f2c"/><rect x="53.15" y="63.53" width="2.36" height="2.70" fill="#f16813"/><rect x="55.47" y="63.53" width="2.36" height="2.70" fill="#e25408"/><rect x="57.78" y="63.53" width="2.36" height="2.70" fill="#ce4401"/><rect x="60.09" y="63.53" width="2.36" height="2.70" fill="#b43b02"/><rect x="62.40" y="63.53" width="2.36" height="2.70" fill="#a13403"/><rect x="64.71" y="63.53" width="2.36" height="2.70" fill="#952f03"/><rect x="67.02" y="63.53" width="2.36" height="2.70" fill="#8c2c04"/><rect x="69.33" y="63.53" width="2.36" height="2.70" fill="#842904"/><rect x="71.64" y="63.53" width="2.36" height="2.70" fill="#802804"/><rect x="73.95" y="63.53" width="2.36" height="2.70" fill="#862a04"/><rect x="76.26" y="63.53" width="2.36" height="2.70" fill="#983103"/><rect x="78.58" y="63.53" width="2.36" height="2.70" fill="#ba3d02"/><rect x="80.89" y="63.53" width="2.36" height="2.70" fill="#de4f05"/><rect x="20.80" y="66.18" width="2.36" height="2.70" fill="#fdb87b"/><rect x="23.11" y="66.18" width="2.36" height="2.70" fill="#fdc38c"/><rect x="25.42" y="66.18" width="2.36" height="2.70" fill="#fdcc9c"/><rect x="27.73" y="66.18" width="2.36" height="2.70" fill="#fdd3a8"/><rect x="30.04" y="66.18" width="2.36" height="2.70" fill="#fdd6af"/><rect x="32.35" y="66.18" width="2.36" height="2.70" fill="#fdd7b1"/><rect x="34.67" y="66.18" width="2.36" height="2.70" fill="#fdd6ae"/><rect x="36.98" y="66.18" width="2.36" height="2.70" fill="#fdd2a6"/><rect x="39.29" y="66.18" width="2.36" height="2.70" fill="#fdca99"/><rect x="41.60" y="66.18" width="2.36" height="2.70" fill="#fdbf86"/><rect x="43.91" y="66.18" width="2.36" height="2.70" fill="#fdb171"/><rect x="46.22" y="66.18" width="2.36" height="2.70" fill="#fda35c"/><rect x="48.53" y="66.18" width="2.36" height="2.70" fill="#fd9547"/><rect x="50.84" y="66.18" width="2.36" height="2.70" fill="#fa8533"/><rect x="53.15" y="66.18" width="2.36" height="2.70" fill="#f57420"/><rect x="55.47" y="66.18" width="2.36" height="2.70" fill="#ed6410"/><rect x="57.78" y="66.18" width="2.36" height="2.70" fill="#e35609"/><rect x="60.09" y="66.18" width="2.36" height="2.70" fill="#da4a02"/><rect x="62.40" y="66.18" width="2.36" height="2.70" fill="#cd4401"/><rect x="64.71" y="66.18" width="2.36" height="2.70" fill="#c24002"/><rect x="67.02" y="66.18" width="2.36" height="2.70" fill="#ba3d02"/><rect x="69.33" y="66.18" width="2.36" height="2.70" fill="#b53b02"/><rect x="71.64" y="66.18" width="2.36" height="2.70" fill="#b43b02"/><rect x="73.95" y="66.18" width="2.36" height="2.70" fill="#bb3d02"/><rect x="76.26" y="66.18" width="2.36" height="2.70" fill="#cc4302"/><rect x="78.58" y="66.18" width="2.36" height="2.70" fill="#df5006"/><rect x="80.89" y="66.18" width="2.36" height="2.70" fill="#ec620f"/></g><g fill="#000"><rect x="28.63" y="42.95" width="0.55" height="1.4" opacity="0.7"/><rect x="30.94" y="42.95" width="0.55" height="1.4" opacity="0.7"/><rect x="33.25" y="42.95" width="0.55" height="1.4" opacity="0.7"/><rect x="35.57" y="42.95" width="0.55" height="1.4" opacity="0.7"/><rect x="37.88" y="42.95" width="0.55" height="1.4" opacity="0.7"/><rect x="40.19" y="42.95" width="0.55" height="1.4" opacity="0.7"/><rect x="42.50" y="42.95" width="0.55" height="1.4" opacity="0.7"/><rect x="44.81" y="42.95" width="0.55" height="1.4" opacity="0.7"/><rect x="47.12" y="42.95" width="0.55" height="1.4" opacity="0.7"/><rect x="49.43" y="42.95" width="0.55" height="1.4" opacity="0.7"/><rect x="51.74" y="42.95" width="0.55" height="1.4" opacity="0.7"/><rect x="54.05" y="42.95" width="0.55" height="1.4" opacity="0.7"/><rect x="56.37" y="42.95" width="0.55" height="1.4" opacity="0.7"/><path d="M58.28 43.15 l1.4 1.0" stroke="#000" stroke-width="0.5" opacity="0.7"/><path d="M60.59 43.15 l1.4 1.0" stroke="#000" stroke-width="0.5" opacity="0.7"/><path d="M62.90 43.15 l1.4 1.0" stroke="#000" stroke-width="0.5" opacity="0.7"/><path d="M65.21 43.15 l1.4 1.0" stroke="#000" stroke-width="0.5" opacity="0.7"/><path d="M67.52 43.15 l1.4 1.0" stroke="#000" stroke-width="0.5" opacity="0.7"/><path d="M69.83 43.15 l1.4 1.0" stroke="#000" stroke-width="0.5" opacity="0.7"/><path d="M72.14 43.15 l1.4 1.0" stroke="#000" stroke-width="0.5" opacity="0.7"/><path d="M74.45 43.15 l1.4 1.0" stroke="#000" stroke-width="0.5" opacity="0.7"/><path d="M76.76 43.15 l1.4 1.0" stroke="#000" stroke-width="0.5" opacity="0.7"/><path d="M79.08 43.15 l1.4 1.0" stroke="#000" stroke-width="0.5" opacity="0.7"/><path d="M81.39 43.15 l1.4 1.0" stroke="#000" stroke-width="0.5" opacity="0.7"/><rect x="26.32" y="45.60" width="0.55" height="1.4" opacity="0.7"/><rect x="28.63" y="45.60" width="0.55" height="1.4" opacity="0.7"/><rect x="30.94" y="45.60" width="0.55" height="1.4" opacity="0.7"/><rect x="33.25" y="45.60" width="0.55" height="1.4" opacity="0.7"/><rect x="35.57" y="45.60" width="0.55" height="1.4" opacity="0.7"/><rect x="37.88" y="45.60" width="0.55" height="1.4" opacity="0.7"/><rect x="40.19" y="45.60" width="0.55" height="1.4" opacity="0.7"/><rect x="42.50" y="45.60" width="0.55" height="1.4" opacity="0.7"/><rect x="44.81" y="45.60" width="0.55" height="1.4" opacity="0.7"/><rect x="47.12" y="45.60" width="0.55" height="1.4" opacity="0.7"/><rect x="49.43" y="45.60" width="0.55" height="1.4" opacity="0.7"/><rect x="51.74" y="45.60" width="0.55" height="1.4" opacity="0.7"/><rect x="54.05" y="45.60" width="0.55" height="1.4" opacity="0.7"/><rect x="56.37" y="45.60" width="0.55" height="1.4" opacity="0.7"/><path d="M58.28 45.80 l1.4 1.0" stroke="#000" stroke-width="0.5" opacity="0.7"/><path d="M60.59 45.80 l1.4 1.0" stroke="#000" stroke-width="0.5" opacity="0.7"/><path d="M62.90 45.80 l1.4 1.0" stroke="#000" stroke-width="0.5" opacity="0.7"/><path d="M65.21 45.80 l1.4 1.0" stroke="#000" stroke-width="0.5" opacity="0.7"/><path d="M67.52 45.80 l1.4 1.0" stroke="#000" stroke-width="0.5" opacity="0.7"/><path d="M69.83 45.80 l1.4 1.0" stroke="#000" stroke-width="0.5" opacity="0.7"/><path d="M72.14 45.80 l1.4 1.0" stroke="#000" stroke-width="0.5" opacity="0.7"/><path d="M74.45 45.80 l1.4 1.0" stroke="#000" stroke-width="0.5" opacity="0.7"/><path d="M76.76 45.80 l1.4 1.0" stroke="#000" stroke-width="0.5" opacity="0.7"/><path d="M79.08 45.80 l1.4 1.0" stroke="#000" stroke-width="0.5" opacity="0.7"/><path d="M81.39 45.80 l1.4 1.0" stroke="#000" stroke-width="0.5" opacity="0.7"/><rect x="24.01" y="48.25" width="0.55" height="1.4" opacity="0.7"/><rect x="26.32" y="48.25" width="0.55" height="1.4" opacity="0.7"/><rect x="28.63" y="48.25" width="0.55" height="1.4" opacity="0.7"/><rect x="30.94" y="48.25" width="0.55" height="1.4" opacity="0.7"/><rect x="33.25" y="48.25" width="0.55" height="1.4" opacity="0.7"/><rect x="35.57" y="48.25" width="0.55" height="1.4" opacity="0.7"/><rect x="37.88" y="48.25" width="0.55" height="1.4" opacity="0.7"/><rect x="40.19" y="48.25" width="0.55" height="1.4" opacity="0.7"/><rect x="42.50" y="48.25" width="0.55" height="1.4" opacity="0.7"/><rect x="44.81" y="48.25" width="0.55" height="1.4" opacity="0.7"/><rect x="47.12" y="48.25" width="0.55" height="1.4" opacity="0.7"/><rect x="49.43" y="48.25" width="0.55" height="1.4" opacity="0.7"/><rect x="51.74" y="48.25" width="0.55" height="1.4" opacity="0.7"/><rect x="54.05" y="48.25" width="0.55" height="1.4" opacity="0.7"/><rect x="56.37" y="48.25" width="0.55" height="1.4" opacity="0.7"/><path d="M58.28 48.45 l1.4 1.0" stroke="#000" stroke-width="0.5" opacity="0.7"/><path d="M60.59 48.45 l1.4 1.0" stroke="#000" stroke-width="0.5" opacity="0.7"/><path d="M62.90 48.45 l1.4 1.0" stroke="#000" stroke-width="0.5" opacity="0.7"/><path d="M65.21 48.45 l1.4 1.0" stroke="#000" stroke-width="0.5" opacity="0.7"/><path d="M67.52 48.45 l1.4 1.0" stroke="#000" stroke-width="0.5" opacity="0.7"/><path d="M69.83 48.45 l1.4 1.0" stroke="#000" stroke-width="0.5" opacity="0.7"/><path d="M72.14 48.45 l1.4 1.0" stroke="#000" stroke-width="0.5" opacity="0.7"/><path d="M74.45 48.45 l1.4 1.0" stroke="#000" stroke-width="0.5" opacity="0.7"/><path d="M76.76 48.45 l1.4 1.0" stroke="#000" stroke-width="0.5" opacity="0.7"/><path d="M79.08 48.45 l1.4 1.0" stroke="#000" stroke-width="0.5" opacity="0.7"/><path d="M81.39 48.45 l1.4 1.0" stroke="#000" stroke-width="0.5" opacity="0.7"/><rect x="24.01" y="50.89" width="0.55" height="1.4" opacity="0.7"/><rect x="26.32" y="50.89" width="0.55" height="1.4" opacity="0.7"/><rect x="28.63" y="50.89" width="0.55" height="1.4" opacity="0.7"/><rect x="30.94" y="50.89" width="0.55" height="1.4" opacity="0.7"/><rect x="33.25" y="50.89" width="0.55" height="1.4" opacity="0.7"/><rect x="35.57" y="50.89" width="0.55" height="1.4" opacity="0.7"/><rect x="37.88" y="50.89" width="0.55" height="1.4" opacity="0.7"/><rect x="40.19" y="50.89" width="0.55" height="1.4" opacity="0.7"/><rect x="42.50" y="50.89" width="0.55" height="1.4" opacity="0.7"/><rect x="44.81" y="50.89" width="0.55" height="1.4" opacity="0.7"/><rect x="47.12" y="50.89" width="0.55" height="1.4" opacity="0.7"/><rect x="49.43" y="50.89" width="0.55" height="1.4" opacity="0.7"/><rect x="51.74" y="50.89" width="0.55" height="1.4" opacity="0.7"/><rect x="54.05" y="50.89" width="0.55" height="1.4" opacity="0.7"/><rect x="56.37" y="50.89" width="0.55" height="1.4" opacity="0.7"/><path d="M58.28 51.09 l1.4 1.0" stroke="#000" stroke-width="0.5" opacity="0.7"/><path d="M60.59 51.09 l1.4 1.0" stroke="#000" stroke-width="0.5" opacity="0.7"/><path d="M62.90 51.09 l1.4 1.0" stroke="#000" stroke-width="0.5" opacity="0.7"/><path d="M65.21 51.09 l1.4 1.0" stroke="#000" stroke-width="0.5" opacity="0.7"/><path d="M67.52 51.09 l1.4 1.0" stroke="#000" stroke-width="0.5" opacity="0.7"/><path d="M69.83 51.09 l1.4 1.0" stroke="#000" stroke-width="0.5" opacity="0.7"/><path d="M72.14 51.09 l1.4 1.0" stroke="#000" stroke-width="0.5" opacity="0.7"/><path d="M74.45 51.09 l1.4 1.0" stroke="#000" stroke-width="0.5" opacity="0.7"/><path d="M76.76 51.09 l1.4 1.0" stroke="#000" stroke-width="0.5" opacity="0.7"/><path d="M79.08 51.09 l1.4 1.0" stroke="#000" stroke-width="0.5" opacity="0.7"/><path d="M81.39 51.09 l1.4 1.0" stroke="#000" stroke-width="0.5" opacity="0.7"/><rect x="21.70" y="53.54" width="0.55" height="1.4" opacity="0.7"/><rect x="24.01" y="53.54" width="0.55" height="1.4" opacity="0.7"/><rect x="26.32" y="53.54" width="0.55" height="1.4" opacity="0.7"/><rect x="28.63" y="53.54" width="0.55" height="1.4" opacity="0.7"/><rect x="30.94" y="53.54" width="0.55" height="1.4" opacity="0.7"/><rect x="33.25" y="53.54" width="0.55" height="1.4" opacity="0.7"/><rect x="35.57" y="53.54" width="0.55" height="1.4" opacity="0.7"/><rect x="37.88" y="53.54" width="0.55" height="1.4" opacity="0.7"/><rect x="40.19" y="53.54" width="0.55" height="1.4" opacity="0.7"/><rect x="42.50" y="53.54" width="0.55" height="1.4" opacity="0.7"/><rect x="44.81" y="53.54" width="0.55" height="1.4" opacity="0.7"/><rect x="47.12" y="53.54" width="0.55" height="1.4" opacity="0.7"/><rect x="49.43" y="53.54" width="0.55" height="1.4" opacity="0.7"/><rect x="51.74" y="53.54" width="0.55" height="1.4" opacity="0.7"/><rect x="54.05" y="53.54" width="0.55" height="1.4" opacity="0.7"/><rect x="56.37" y="53.54" width="0.55" height="1.4" opacity="0.7"/><path d="M58.28 53.74 l1.4 1.0" stroke="#000" stroke-width="0.5" opacity="0.7"/><path d="M60.59 53.74 l1.4 1.0" stroke="#000" stroke-width="0.5" opacity="0.7"/><path d="M62.90 53.74 l1.4 1.0" stroke="#000" stroke-width="0.5" opacity="0.7"/><path d="M65.21 53.74 l1.4 1.0" stroke="#000" stroke-width="0.5" opacity="0.7"/><path d="M67.52 53.74 l1.4 1.0" stroke="#000" stroke-width="0.5" opacity="0.7"/><path d="M69.83 53.74 l1.4 1.0" stroke="#000" stroke-width="0.5" opacity="0.7"/><path d="M72.14 53.74 l1.4 1.0" stroke="#000" stroke-width="0.5" opacity="0.7"/><path d="M74.45 53.74 l1.4 1.0" stroke="#000" stroke-width="0.5" opacity="0.7"/><path d="M76.76 53.74 l1.4 1.0" stroke="#000" stroke-width="0.5" opacity="0.7"/><path d="M79.08 53.74 l1.4 1.0" stroke="#000" stroke-width="0.5" opacity="0.7"/><path d="M81.39 53.74 l1.4 1.0" stroke="#000" stroke-width="0.5" opacity="0.7"/><rect x="21.70" y="56.19" width="0.55" height="1.4" opacity="0.7"/><rect x="24.01" y="56.19" width="0.55" height="1.4" opacity="0.7"/><rect x="26.32" y="56.19" width="0.55" height="1.4" opacity="0.7"/><rect x="28.63" y="56.19" width="0.55" height="1.4" opacity="0.7"/><rect x="30.94" y="56.19" width="0.55" height="1.4" opacity="0.7"/><rect x="33.25" y="56.19" width="0.55" height="1.4" opacity="0.7"/><rect x="35.57" y="56.19" width="0.55" height="1.4" opacity="0.7"/><rect x="37.88" y="56.19" width="0.55" height="1.4" opacity="0.7"/><rect x="40.19" y="56.19" width="0.55" height="1.4" opacity="0.7"/><rect x="42.50" y="56.19" width="0.55" height="1.4" opacity="0.7"/><rect x="44.81" y="56.19" width="0.55" height="1.4" opacity="0.7"/><rect x="47.12" y="56.19" width="0.55" height="1.4" opacity="0.7"/><rect x="49.43" y="56.19" width="0.55" height="1.4" opacity="0.7"/><rect x="51.74" y="56.19" width="0.55" height="1.4" opacity="0.7"/><rect x="54.05" y="56.19" width="0.55" height="1.4" opacity="0.7"/><rect x="56.37" y="56.19" width="0.55" height="1.4" opacity="0.7"/><path d="M58.28 56.39 l1.4 1.0" stroke="#000" stroke-width="0.5" opacity="0.7"/><path d="M60.59 56.39 l1.4 1.0" stroke="#000" stroke-width="0.5" opacity="0.7"/><path d="M62.90 56.39 l1.4 1.0" stroke="#000" stroke-width="0.5" opacity="0.7"/><path d="M65.21 56.39 l1.4 1.0" stroke="#000" stroke-width="0.5" opacity="0.7"/><path d="M67.52 56.39 l1.4 1.0" stroke="#000" stroke-width="0.5" opacity="0.7"/><path d="M69.83 56.39 l1.4 1.0" stroke="#000" stroke-width="0.5" opacity="0.7"/><path d="M72.14 56.39 l1.4 1.0" stroke="#000" stroke-width="0.5" opacity="0.7"/><path d="M74.45 56.39 l1.4 1.0" stroke="#000" stroke-width="0.5" opacity="0.7"/><path d="M76.76 56.39 l1.4 1.0" stroke="#000" stroke-width="0.5" opacity="0.7"/><path d="M79.08 56.39 l1.4 1.0" stroke="#000" stroke-width="0.5" opacity="0.7"/><path d="M81.39 56.39 l1.4 1.0" stroke="#000" stroke-width="0.5" opacity="0.7"/><rect x="21.70" y="58.84" width="0.55" height="1.4" opacity="0.7"/><rect x="24.01" y="58.84" width="0.55" height="1.4" opacity="0.7"/><rect x="26.32" y="58.84" width="0.55" height="1.4" opacity="0.7"/><rect x="28.63" y="58.84" width="0.55" height="1.4" opacity="0.7"/><rect x="30.94" y="58.84" width="0.55" height="1.4" opacity="0.7"/><rect x="33.25" y="58.84" width="0.55" height="1.4" opacity="0.7"/><rect x="35.57" y="58.84" width="0.55" height="1.4" opacity="0.7"/><rect x="37.88" y="58.84" width="0.55" height="1.4" opacity="0.7"/><rect x="40.19" y="58.84" width="0.55" height="1.4" opacity="0.7"/><rect x="42.50" y="58.84" width="0.55" height="1.4" opacity="0.7"/><rect x="44.81" y="58.84" width="0.55" height="1.4" opacity="0.7"/><rect x="47.12" y="58.84" width="0.55" height="1.4" opacity="0.7"/><rect x="49.43" y="58.84" width="0.55" height="1.4" opacity="0.7"/><rect x="51.74" y="58.84" width="0.55" height="1.4" opacity="0.7"/><rect x="54.05" y="58.84" width="0.55" height="1.4" opacity="0.7"/><rect x="56.37" y="58.84" width="0.55" height="1.4" opacity="0.7"/><path d="M58.28 59.04 l1.4 1.0" stroke="#000" stroke-width="0.5" opacity="0.7"/><path d="M60.59 59.04 l1.4 1.0" stroke="#000" stroke-width="0.5" opacity="0.7"/><path d="M62.90 59.04 l1.4 1.0" stroke="#000" stroke-width="0.5" opacity="0.7"/><path d="M65.21 59.04 l1.4 1.0" stroke="#000" stroke-width="0.5" opacity="0.7"/><path d="M67.52 59.04 l1.4 1.0" stroke="#000" stroke-width="0.5" opacity="0.7"/><path d="M69.83 59.04 l1.4 1.0" stroke="#000" stroke-width="0.5" opacity="0.7"/><path d="M72.14 59.04 l1.4 1.0" stroke="#000" stroke-width="0.5" opacity="0.7"/><path d="M74.45 59.04 l1.4 1.0" stroke="#000" stroke-width="0.5" opacity="0.7"/><path d="M76.76 59.04 l1.4 1.0" stroke="#000" stroke-width="0.5" opacity="0.7"/><path d="M79.08 59.04 l1.4 1.0" stroke="#000" stroke-width="0.5" opacity="0.7"/><path d="M81.39 59.04 l1.4 1.0" stroke="#000" stroke-width="0.5" opacity="0.7"/><rect x="21.70" y="61.48" width="0.55" height="1.4" opacity="0.7"/><rect x="24.01" y="61.48" width="0.55" height="1.4" opacity="0.7"/><rect x="26.32" y="61.48" width="0.55" height="1.4" opacity="0.7"/><rect x="28.63" y="61.48" width="0.55" height="1.4" opacity="0.7"/><rect x="30.94" y="61.48" width="0.55" height="1.4" opacity="0.7"/><rect x="33.25" y="61.48" width="0.55" height="1.4" opacity="0.7"/><rect x="35.57" y="61.48" width="0.55" height="1.4" opacity="0.7"/><rect x="37.88" y="61.48" width="0.55" height="1.4" opacity="0.7"/><rect x="40.19" y="61.48" width="0.55" height="1.4" opacity="0.7"/><rect x="42.50" y="61.48" width="0.55" height="1.4" opacity="0.7"/><rect x="44.81" y="61.48" width="0.55" height="1.4" opacity="0.7"/><rect x="47.12" y="61.48" width="0.55" height="1.4" opacity="0.7"/><rect x="49.43" y="61.48" width="0.55" height="1.4" opacity="0.7"/><rect x="51.74" y="61.48" width="0.55" height="1.4" opacity="0.7"/><rect x="54.05" y="61.48" width="0.55" height="1.4" opacity="0.7"/><rect x="56.37" y="61.48" width="0.55" height="1.4" opacity="0.7"/><path d="M58.28 61.68 l1.4 1.0" stroke="#000" stroke-width="0.5" opacity="0.7"/><path d="M60.59 61.68 l1.4 1.0" stroke="#000" stroke-width="0.5" opacity="0.7"/><path d="M62.90 61.68 l1.4 1.0" stroke="#000" stroke-width="0.5" opacity="0.7"/><path d="M65.21 61.68 l1.4 1.0" stroke="#000" stroke-width="0.5" opacity="0.7"/><path d="M67.52 61.68 l1.4 1.0" stroke="#000" stroke-width="0.5" opacity="0.7"/><path d="M69.83 61.68 l1.4 1.0" stroke="#000" stroke-width="0.5" opacity="0.7"/><path d="M72.14 61.68 l1.4 1.0" stroke="#000" stroke-width="0.5" opacity="0.7"/><path d="M74.45 61.68 l1.4 1.0" stroke="#000" stroke-width="0.5" opacity="0.7"/><path d="M76.76 61.68 l1.4 1.0" stroke="#000" stroke-width="0.5" opacity="0.7"/><path d="M79.08 61.68 l1.4 1.0" stroke="#000" stroke-width="0.5" opacity="0.7"/><path d="M81.39 61.68 l1.4 1.0" stroke="#000" stroke-width="0.5" opacity="0.7"/><rect x="21.70" y="64.13" width="0.55" height="1.4" opacity="0.7"/><rect x="24.01" y="64.13" width="0.55" height="1.4" opacity="0.7"/><rect x="26.32" y="64.13" width="0.55" height="1.4" opacity="0.7"/><rect x="28.63" y="64.13" width="0.55" height="1.4" opacity="0.7"/><rect x="30.94" y="64.13" width="0.55" height="1.4" opacity="0.7"/><rect x="33.25" y="64.13" width="0.55" height="1.4" opacity="0.7"/><rect x="35.57" y="64.13" width="0.55" height="1.4" opacity="0.7"/><rect x="37.88" y="64.13" width="0.55" height="1.4" opacity="0.7"/><rect x="40.19" y="64.13" width="0.55" height="1.4" opacity="0.7"/><rect x="42.50" y="64.13" width="0.55" height="1.4" opacity="0.7"/><rect x="44.81" y="64.13" width="0.55" height="1.4" opacity="0.7"/><rect x="47.12" y="64.13" width="0.55" height="1.4" opacity="0.7"/><rect x="49.43" y="64.13" width="0.55" height="1.4" opacity="0.7"/><rect x="51.74" y="64.13" width="0.55" height="1.4" opacity="0.7"/><rect x="54.05" y="64.13" width="0.55" height="1.4" opacity="0.7"/><rect x="56.37" y="64.13" width="0.55" height="1.4" opacity="0.7"/><path d="M58.28 64.33 l1.4 1.0" stroke="#000" stroke-width="0.5" opacity="0.7"/><path d="M60.59 64.33 l1.4 1.0" stroke="#000" stroke-width="0.5" opacity="0.7"/><path d="M62.90 64.33 l1.4 1.0" stroke="#000" stroke-width="0.5" opacity="0.7"/><path d="M65.21 64.33 l1.4 1.0" stroke="#000" stroke-width="0.5" opacity="0.7"/><path d="M67.52 64.33 l1.4 1.0" stroke="#000" stroke-width="0.5" opacity="0.7"/><path d="M69.83 64.33 l1.4 1.0" stroke="#000" stroke-width="0.5" opacity="0.7"/><path d="M72.14 64.33 l1.4 1.0" stroke="#000" stroke-width="0.5" opacity="0.7"/><path d="M74.45 64.33 l1.4 1.0" stroke="#000" stroke-width="0.5" opacity="0.7"/><path d="M76.76 64.33 l1.4 1.0" stroke="#000" stroke-width="0.5" opacity="0.7"/><path d="M79.08 64.33 l1.4 1.0" stroke="#000" stroke-width="0.5" opacity="0.7"/><path d="M81.39 64.33 l1.4 1.0" stroke="#000" stroke-width="0.5" opacity="0.7"/><rect x="21.70" y="66.78" width="0.55" height="1.4" opacity="0.7"/><rect x="24.01" y="66.78" width="0.55" height="1.4" opacity="0.7"/><rect x="26.32" y="66.78" width="0.55" height="1.4" opacity="0.7"/><rect x="28.63" y="66.78" width="0.55" height="1.4" opacity="0.7"/><rect x="30.94" y="66.78" width="0.55" height="1.4" opacity="0.7"/><rect x="33.25" y="66.78" width="0.55" height="1.4" opacity="0.7"/><rect x="35.57" y="66.78" width="0.55" height="1.4" opacity="0.7"/><rect x="37.88" y="66.78" width="0.55" height="1.4" opacity="0.7"/><rect x="40.19" y="66.78" width="0.55" height="1.4" opacity="0.7"/><rect x="42.50" y="66.78" width="0.55" height="1.4" opacity="0.7"/><rect x="44.81" y="66.78" width="0.55" height="1.4" opacity="0.7"/><rect x="47.12" y="66.78" width="0.55" height="1.4" opacity="0.7"/><rect x="49.43" y="66.78" width="0.55" height="1.4" opacity="0.7"/><rect x="51.74" y="66.78" width="0.55" height="1.4" opacity="0.7"/><rect x="54.05" y="66.78" width="0.55" height="1.4" opacity="0.7"/><rect x="56.37" y="66.78" width="0.55" height="1.4" opacity="0.7"/><path d="M58.28 66.98 l1.4 1.0" stroke="#000" stroke-width="0.5" opacity="0.7"/><path d="M60.59 66.98 l1.4 1.0" stroke="#000" stroke-width="0.5" opacity="0.7"/><path d="M62.90 66.98 l1.4 1.0" stroke="#000" stroke-width="0.5" opacity="0.7"/><path d="M65.21 66.98 l1.4 1.0" stroke="#000" stroke-width="0.5" opacity="0.7"/><path d="M67.52 66.98 l1.4 1.0" stroke="#000" stroke-width="0.5" opacity="0.7"/><path d="M69.83 66.98 l1.4 1.0" stroke="#000" stroke-width="0.5" opacity="0.7"/><path d="M72.14 66.98 l1.4 1.0" stroke="#000" stroke-width="0.5" opacity="0.7"/><path d="M74.45 66.98 l1.4 1.0" stroke="#000" stroke-width="0.5" opacity="0.7"/><path d="M76.76 66.98 l1.4 1.0" stroke="#000" stroke-width="0.5" opacity="0.7"/><path d="M79.08 66.98 l1.4 1.0" stroke="#000" stroke-width="0.5" opacity="0.7"/><path d="M81.39 66.98 l1.4 1.0" stroke="#000" stroke-width="0.5" opacity="0.7"/></g></svg>
<line x1="42.50" y1="189" x2="42.50" y2="191" stroke="#333" stroke-width="0.6"/>
<text x="42.50" y="197.50" font-size="7.6" text-anchor="middle" fill="#262626" font-weight="normal" textLength="4.07" lengthAdjust="spacingAndGlyphs" stroke="#262626" stroke-width="0.12">0</text>
<line x1="88.72" y1="189" x2="88.72" y2="191" stroke="#333" stroke-width="0.6"/>
<text x="88.72" y="197.50" font-size="7.6" text-anchor="middle" fill="#262626" font-weight="normal" textLength="8.91" lengthAdjust="spacingAndGlyphs" stroke="#262626" stroke-width="0.12">20</text>
<line x1="134.94" y1="189" x2="134.94" y2="191" stroke="#333" stroke-width="0.6"/>
<text x="134.94" y="197.50" font-size="7.6" text-anchor="middle" fill="#262626" font-weight="normal" textLength="8.91" lengthAdjust="spacingAndGlyphs" stroke="#262626" stroke-width="0.12">40</text>
<line x1="40.5" y1="117.00" x2="42.5" y2="117.00" stroke="#333" stroke-width="0.6"/>
<text x="39.50" y="119.50" font-size="7.6" text-anchor="end" fill="#262626" font-weight="normal" textLength="4.07" lengthAdjust="spacingAndGlyphs" stroke="#262626" stroke-width="0.12">0</text>
<line x1="40.5" y1="143.47" x2="42.5" y2="143.47" stroke="#333" stroke-width="0.6"/>
<text x="39.50" y="145.97" font-size="7.6" text-anchor="end" fill="#262626" font-weight="normal" textLength="8.91" lengthAdjust="spacingAndGlyphs" stroke="#262626" stroke-width="0.12">10</text>
<line x1="40.5" y1="169.94" x2="42.5" y2="169.94" stroke="#333" stroke-width="0.6"/>
<text x="39.50" y="172.44" font-size="7.6" text-anchor="end" fill="#262626" font-weight="normal" textLength="8.91" lengthAdjust="spacingAndGlyphs" stroke="#262626" stroke-width="0.12">20</text>
<text x="92.15" y="206.50" font-size="8.0" text-anchor="middle" fill="#262626" font-weight="normal" textLength="87.00" lengthAdjust="spacingAndGlyphs" stroke="#262626" stroke-width="0.12">Horizontal surface (px)</text>
<text x="27.90" y="153.00" font-size="8.0" text-anchor="middle" fill="#262626" font-weight="normal" textLength="76.50" lengthAdjust="spacingAndGlyphs" stroke="#262626" stroke-width="0.12" transform="rotate(-90 27.90 153.00)">Vertical surface (px)</text>
<rect x="148.40" y="117" width="4.3" height="72" fill="url(#cba)" stroke="#555" stroke-width="0.3"/>
<line x1="152.70" y1="124.20" x2="154.50" y2="124.20" stroke="#333" stroke-width="0.6"/>
<text x="155.30" y="126.80" font-size="7.6" text-anchor="start" fill="#262626" font-weight="normal" textLength="4.07" lengthAdjust="spacingAndGlyphs" stroke="#262626" stroke-width="0.12">4</text>
<line x1="152.70" y1="138.60" x2="154.50" y2="138.60" stroke="#333" stroke-width="0.6"/>
<text x="155.30" y="141.20" font-size="7.6" text-anchor="start" fill="#262626" font-weight="normal" textLength="4.07" lengthAdjust="spacingAndGlyphs" stroke="#262626" stroke-width="0.12">2</text>
<line x1="152.70" y1="153.00" x2="154.50" y2="153.00" stroke="#333" stroke-width="0.6"/>
<text x="155.30" y="155.60" font-size="7.6" text-anchor="start" fill="#262626" font-weight="normal" textLength="4.07" lengthAdjust="spacingAndGlyphs" stroke="#262626" stroke-width="0.12">0</text>
<line x1="152.70" y1="167.40" x2="154.50" y2="167.40" stroke="#333" stroke-width="0.6"/>
<text x="155.30" y="170.00" font-size="7.6" text-anchor="start" fill="#262626" font-weight="normal" textLength="10.44" lengthAdjust="spacingAndGlyphs" stroke="#262626" stroke-width="0.12">−2</text>
<line x1="152.70" y1="181.80" x2="154.50" y2="181.80" stroke="#333" stroke-width="0.6"/>
<text x="155.30" y="184.40" font-size="7.6" text-anchor="start" fill="#262626" font-weight="normal" textLength="10.44" lengthAdjust="spacingAndGlyphs" stroke="#262626" stroke-width="0.12">−4</text>
<text x="172.70" y="153.50" font-size="8.0" text-anchor="middle" fill="#262626" font-weight="normal" textLength="35.00" lengthAdjust="spacingAndGlyphs" stroke="#262626" stroke-width="0.12" transform="rotate(-90 172.70 153.50)">v_x (px/f)</text>
<defs><linearGradient id="cbb" x1="0" y1="1" x2="0" y2="0"><stop offset="0.0" stop-color="#f7fbff"/><stop offset="0.125" stop-color="#deebf7"/><stop offset="0.25" stop-color="#c6dbef"/><stop offset="0.375" stop-color="#9ecae1"/><stop offset="0.5" stop-color="#6baed6"/><stop offset="0.625" stop-color="#4292c6"/><stop offset="0.75" stop-color="#2171b5"/><stop offset="0.875" stop-color="#08519c"/><stop offset="1.0" stop-color="#08306b"/></linearGradient></defs>
<rect x="224.3" y="117" width="100.3" height="72" fill="#6baed6"/>
<svg x="224.3" y="117" width="100.3" height="72" viewBox="0 0 100.3 72"><g filter="url(#blur03)"><rect x="11.56" y="39.71" width="2.36" height="2.70" fill="#7eb8da"/><rect x="13.87" y="39.71" width="2.36" height="2.70" fill="#7fb9da"/><rect x="16.18" y="39.71" width="2.36" height="2.70" fill="#6aadd6"/><rect x="18.49" y="39.71" width="2.36" height="2.70" fill="#72b2d8"/><rect x="20.80" y="39.71" width="2.36" height="2.70" fill="#4896c8"/><rect x="23.11" y="39.71" width="2.36" height="2.70" fill="#509ccc"/><rect x="25.42" y="39.71" width="2.36" height="2.70" fill="#519ccc"/><rect x="27.73" y="39.71" width="2.36" height="2.70" fill="#74b3d8"/><rect x="30.04" y="39.71" width="2.36" height="2.70" fill="#61a7d2"/><rect x="32.35" y="39.71" width="2.36" height="2.70" fill="#68acd5"/><rect x="34.67" y="39.71" width="2.36" height="2.70" fill="#7ab6d9"/><rect x="36.98" y="39.71" width="2.36" height="2.70" fill="#93c4df"/><rect x="39.29" y="39.71" width="2.36" height="2.70" fill="#81badb"/><rect x="41.60" y="39.71" width="2.36" height="2.70" fill="#a1cbe2"/><rect x="43.91" y="39.71" width="2.36" height="2.70" fill="#a5cde3"/><rect x="46.22" y="39.71" width="2.36" height="2.70" fill="#a3cce3"/><rect x="48.53" y="39.71" width="2.36" height="2.70" fill="#c3daee"/><rect x="50.84" y="39.71" width="2.36" height="2.70" fill="#a7cee4"/><rect x="53.15" y="39.71" width="2.36" height="2.70" fill="#90c2de"/><rect x="55.47" y="39.71" width="2.36" height="2.70" fill="#a7cee4"/><rect x="57.78" y="39.71" width="2.36" height="2.70" fill="#77b4d9"/><rect x="60.09" y="39.71" width="2.36" height="2.70" fill="#98c7e0"/><rect x="62.40" y="39.71" width="2.36" height="2.70" fill="#85bcdc"/><rect x="64.71" y="39.71" width="2.36" height="2.70" fill="#6dafd6"/><rect x="67.02" y="39.71" width="2.36" height="2.70" fill="#5ca3d0"/><rect x="69.33" y="39.71" width="2.36" height="2.70" fill="#5da5d1"/><rect x="71.64" y="39.71" width="2.36" height="2.70" fill="#59a2cf"/><rect x="73.95" y="39.71" width="2.36" height="2.70" fill="#5fa6d1"/><rect x="76.26" y="39.71" width="2.36" height="2.70" fill="#69acd5"/><rect x="80.89" y="39.71" width="2.36" height="2.70" fill="#70b1d7"/><rect x="11.56" y="42.35" width="2.36" height="2.70" fill="#7ab6d9"/><rect x="13.87" y="42.35" width="2.36" height="2.70" fill="#66aad4"/><rect x="16.18" y="42.35" width="2.36" height="2.70" fill="#569fce"/><rect x="18.49" y="42.35" width="2.36" height="2.70" fill="#65aad4"/><rect x="20.80" y="42.35" width="2.36" height="2.70" fill="#3888c1"/><rect x="23.11" y="42.35" width="2.36" height="2.70" fill="#1663aa"/><rect x="25.42" y="42.35" width="2.36" height="2.70" fill="#3181bd"/><rect x="27.73" y="42.35" width="2.36" height="2.70" fill="#72b2d8"/><rect x="30.04" y="42.35" width="2.36" height="2.70" fill="#70b1d7"/><rect x="32.35" y="42.35" width="2.36" height="2.70" fill="#93c4df"/><rect x="34.67" y="42.35" width="2.36" height="2.70" fill="#a4cde3"/><rect x="36.98" y="42.35" width="2.36" height="2.70" fill="#95c5df"/><rect x="39.29" y="42.35" width="2.36" height="2.70" fill="#bad6eb"/><rect x="41.60" y="42.35" width="2.36" height="2.70" fill="#d0e2f2"/><rect x="43.91" y="42.35" width="2.36" height="2.70" fill="#d9e7f5"/><rect x="46.22" y="42.35" width="2.36" height="2.70" fill="#d7e6f5"/><rect x="48.53" y="42.35" width="2.36" height="2.70" fill="#d7e6f5"/><rect x="50.84" y="42.35" width="2.36" height="2.70" fill="#d1e2f3"/><rect x="53.15" y="42.35" width="2.36" height="2.70" fill="#ccdff1"/><rect x="55.47" y="42.35" width="2.36" height="2.70" fill="#caddf0"/><rect x="57.78" y="42.35" width="2.36" height="2.70" fill="#bad6eb"/><rect x="60.09" y="42.35" width="2.36" height="2.70" fill="#8bbfdd"/><rect x="62.40" y="42.35" width="2.36" height="2.70" fill="#75b3d8"/><rect x="64.71" y="42.35" width="2.36" height="2.70" fill="#6eb0d7"/><rect x="67.02" y="42.35" width="2.36" height="2.70" fill="#67abd4"/><rect x="69.33" y="42.35" width="2.36" height="2.70" fill="#66aad4"/><rect x="71.64" y="42.35" width="2.36" height="2.70" fill="#6cafd6"/><rect x="73.95" y="42.35" width="2.36" height="2.70" fill="#62a8d3"/><rect x="76.26" y="42.35" width="2.36" height="2.70" fill="#5ea5d1"/><rect x="78.58" y="42.35" width="2.36" height="2.70" fill="#6fb0d7"/><rect x="80.89" y="42.35" width="2.36" height="2.70" fill="#539dcc"/><rect x="85.51" y="42.35" width="2.36" height="2.70" fill="#78b5d9"/><rect x="11.56" y="45.00" width="2.36" height="2.70" fill="#5fa6d1"/><rect x="13.87" y="45.00" width="2.36" height="2.70" fill="#65aad4"/><rect x="16.18" y="45.00" width="2.36" height="2.70" fill="#6aaed6"/><rect x="18.49" y="45.00" width="2.36" height="2.70" fill="#6cafd6"/><rect x="20.80" y="45.00" width="2.36" height="2.70" fill="#3080bd"/><rect x="23.11" y="45.00" width="2.36" height="2.70" fill="#206fb4"/><rect x="25.42" y="45.00" width="2.36" height="2.70" fill="#3585bf"/><rect x="27.73" y="45.00" width="2.36" height="2.70" fill="#64a9d3"/><rect x="30.04" y="45.00" width="2.36" height="2.70" fill="#73b3d8"/><rect x="32.35" y="45.00" width="2.36" height="2.70" fill="#78b5d9"/><rect x="34.67" y="45.00" width="2.36" height="2.70" fill="#a0cbe2"/><rect x="36.98" y="45.00" width="2.36" height="2.70" fill="#bdd7ec"/><rect x="39.29" y="45.00" width="2.36" height="2.70" fill="#c2d9ee"/><rect x="41.60" y="45.00" width="2.36" height="2.70" fill="#cfe1f2"/><rect x="43.91" y="45.00" width="2.36" height="2.70" fill="#d8e7f5"/><rect x="46.22" y="45.00" width="2.36" height="2.70" fill="#e9f2fb"/><rect x="48.53" y="45.00" width="2.36" height="2.70" fill="#e3eef9"/><rect x="50.84" y="45.00" width="2.36" height="2.70" fill="#e4eff9"/><rect x="53.15" y="45.00" width="2.36" height="2.70" fill="#d3e4f3"/><rect x="55.47" y="45.00" width="2.36" height="2.70" fill="#c1d9ed"/><rect x="57.78" y="45.00" width="2.36" height="2.70" fill="#a4cce3"/><rect x="60.09" y="45.00" width="2.36" height="2.70" fill="#99c7e0"/><rect x="62.40" y="45.00" width="2.36" height="2.70" fill="#79b6d9"/><rect x="64.71" y="45.00" width="2.36" height="2.70" fill="#6eb0d7"/><rect x="67.02" y="45.00" width="2.36" height="2.70" fill="#79b6d9"/><rect x="69.33" y="45.00" width="2.36" height="2.70" fill="#83bbdb"/><rect x="71.64" y="45.00" width="2.36" height="2.70" fill="#77b5d9"/><rect x="73.95" y="45.00" width="2.36" height="2.70" fill="#71b1d7"/><rect x="76.26" y="45.00" width="2.36" height="2.70" fill="#5ea5d1"/><rect x="78.58" y="45.00" width="2.36" height="2.70" fill="#76b4d8"/><rect x="85.51" y="45.00" width="2.36" height="2.70" fill="#62a8d2"/><rect x="11.56" y="47.65" width="2.36" height="2.70" fill="#79b6d9"/><rect x="13.87" y="47.65" width="2.36" height="2.70" fill="#86bddc"/><rect x="16.18" y="47.65" width="2.36" height="2.70" fill="#7cb7da"/><rect x="18.49" y="47.65" width="2.36" height="2.70" fill="#98c7e0"/><rect x="20.80" y="47.65" width="2.36" height="2.70" fill="#8abfdd"/><rect x="23.11" y="47.65" width="2.36" height="2.70" fill="#72b2d7"/><rect x="25.42" y="47.65" width="2.36" height="2.70" fill="#6aadd6"/><rect x="27.73" y="47.65" width="2.36" height="2.70" fill="#8cc0dd"/><rect x="30.04" y="47.65" width="2.36" height="2.70" fill="#82bbdb"/><rect x="32.35" y="47.65" width="2.36" height="2.70" fill="#9bc8e0"/><rect x="34.67" y="47.65" width="2.36" height="2.70" fill="#a7cee4"/><rect x="36.98" y="47.65" width="2.36" height="2.70" fill="#c0d8ed"/><rect x="39.29" y="47.65" width="2.36" height="2.70" fill="#bfd8ec"/><rect x="41.60" y="47.65" width="2.36" height="2.70" fill="#d4e5f4"/><rect x="43.91" y="47.65" width="2.36" height="2.70" fill="#d9e7f5"/><rect x="46.22" y="47.65" width="2.36" height="2.70" fill="#e1edf8"/><rect x="48.53" y="47.65" width="2.36" height="2.70" fill="#e6f0f9"/><rect x="50.84" y="47.65" width="2.36" height="2.70" fill="#d4e4f4"/><rect x="53.15" y="47.65" width="2.36" height="2.70" fill="#ccdff1"/><rect x="55.47" y="47.65" width="2.36" height="2.70" fill="#bed7ec"/><rect x="57.78" y="47.65" width="2.36" height="2.70" fill="#b0d1e7"/><rect x="60.09" y="47.65" width="2.36" height="2.70" fill="#b2d3e8"/><rect x="62.40" y="47.65" width="2.36" height="2.70" fill="#8bc0dd"/><rect x="64.71" y="47.65" width="2.36" height="2.70" fill="#87bddc"/><rect x="67.02" y="47.65" width="2.36" height="2.70" fill="#89bfdc"/><rect x="69.33" y="47.65" width="2.36" height="2.70" fill="#82bbdb"/><rect x="71.64" y="47.65" width="2.36" height="2.70" fill="#5fa6d1"/><rect x="73.95" y="47.65" width="2.36" height="2.70" fill="#68acd5"/><rect x="76.26" y="47.65" width="2.36" height="2.70" fill="#68acd5"/><rect x="80.89" y="47.65" width="2.36" height="2.70" fill="#3585c0"/><rect x="83.20" y="47.65" width="2.36" height="2.70" fill="#4493c7"/><rect x="85.51" y="47.65" width="2.36" height="2.70" fill="#539ecd"/><rect x="11.56" y="50.29" width="2.36" height="2.70" fill="#9bc8e0"/><rect x="13.87" y="50.29" width="2.36" height="2.70" fill="#a8cee4"/><rect x="16.18" y="50.29" width="2.36" height="2.70" fill="#95c5df"/><rect x="18.49" y="50.29" width="2.36" height="2.70" fill="#b6d4e9"/><rect x="20.80" y="50.29" width="2.36" height="2.70" fill="#b2d3e8"/><rect x="23.11" y="50.29" width="2.36" height="2.70" fill="#b2d2e8"/><rect x="25.42" y="50.29" width="2.36" height="2.70" fill="#c8dcf0"/><rect x="27.73" y="50.29" width="2.36" height="2.70" fill="#aed1e7"/><rect x="30.04" y="50.29" width="2.36" height="2.70" fill="#a7cee4"/><rect x="32.35" y="50.29" width="2.36" height="2.70" fill="#bad6eb"/><rect x="34.67" y="50.29" width="2.36" height="2.70" fill="#bad6eb"/><rect x="36.98" y="50.29" width="2.36" height="2.70" fill="#b0d2e7"/><rect x="39.29" y="50.29" width="2.36" height="2.70" fill="#bbd6eb"/><rect x="41.60" y="50.29" width="2.36" height="2.70" fill="#a5cde4"/><rect x="43.91" y="50.29" width="2.36" height="2.70" fill="#abd0e6"/><rect x="46.22" y="50.29" width="2.36" height="2.70" fill="#afd1e7"/><rect x="48.53" y="50.29" width="2.36" height="2.70" fill="#c9ddf0"/><rect x="50.84" y="50.29" width="2.36" height="2.70" fill="#b9d5ea"/><rect x="53.15" y="50.29" width="2.36" height="2.70" fill="#c2d9ee"/><rect x="55.47" y="50.29" width="2.36" height="2.70" fill="#d2e3f3"/><rect x="57.78" y="50.29" width="2.36" height="2.70" fill="#d2e3f3"/><rect x="60.09" y="50.29" width="2.36" height="2.70" fill="#c5dbef"/><rect x="62.40" y="50.29" width="2.36" height="2.70" fill="#b0d2e7"/><rect x="64.71" y="50.29" width="2.36" height="2.70" fill="#b8d5ea"/><rect x="67.02" y="50.29" width="2.36" height="2.70" fill="#9dcae1"/><rect x="69.33" y="50.29" width="2.36" height="2.70" fill="#96c6df"/><rect x="71.64" y="50.29" width="2.36" height="2.70" fill="#8fc2de"/><rect x="73.95" y="50.29" width="2.36" height="2.70" fill="#60a7d2"/><rect x="76.26" y="50.29" width="2.36" height="2.70" fill="#74b3d8"/><rect x="78.58" y="50.29" width="2.36" height="2.70" fill="#69add5"/><rect x="80.89" y="50.29" width="2.36" height="2.70" fill="#3f8fc5"/><rect x="83.20" y="50.29" width="2.36" height="2.70" fill="#3989c1"/><rect x="11.56" y="52.94" width="2.36" height="2.70" fill="#87bddc"/><rect x="13.87" y="52.94" width="2.36" height="2.70" fill="#a4cde3"/><rect x="16.18" y="52.94" width="2.36" height="2.70" fill="#bdd7ec"/><rect x="18.49" y="52.94" width="2.36" height="2.70" fill="#b4d3e9"/><rect x="20.80" y="52.94" width="2.36" height="2.70" fill="#cde0f1"/><rect x="23.11" y="52.94" width="2.36" height="2.70" fill="#d4e4f4"/><rect x="25.42" y="52.94" width="2.36" height="2.70" fill="#c4daee"/><rect x="27.73" y="52.94" width="2.36" height="2.70" fill="#c4daee"/><rect x="30.04" y="52.94" width="2.36" height="2.70" fill="#bfd8ec"/><rect x="32.35" y="52.94" width="2.36" height="2.70" fill="#abcfe5"/><rect x="34.67" y="52.94" width="2.36" height="2.70" fill="#c1d9ed"/><rect x="36.98" y="52.94" width="2.36" height="2.70" fill="#a5cde3"/><rect x="39.29" y="52.94" width="2.36" height="2.70" fill="#89bedc"/><rect x="41.60" y="52.94" width="2.36" height="2.70" fill="#9ecae1"/><rect x="43.91" y="52.94" width="2.36" height="2.70" fill="#7cb7da"/><rect x="46.22" y="52.94" width="2.36" height="2.70" fill="#a4cde3"/><rect x="48.53" y="52.94" width="2.36" height="2.70" fill="#b1d2e8"/><rect x="50.84" y="52.94" width="2.36" height="2.70" fill="#abd0e6"/><rect x="53.15" y="52.94" width="2.36" height="2.70" fill="#aacfe5"/><rect x="55.47" y="52.94" width="2.36" height="2.70" fill="#c4daee"/><rect x="57.78" y="52.94" width="2.36" height="2.70" fill="#b9d6eb"/><rect x="60.09" y="52.94" width="2.36" height="2.70" fill="#bad6eb"/><rect x="62.40" y="52.94" width="2.36" height="2.70" fill="#add0e6"/><rect x="64.71" y="52.94" width="2.36" height="2.70" fill="#94c5df"/><rect x="67.02" y="52.94" width="2.36" height="2.70" fill="#86bddc"/><rect x="69.33" y="52.94" width="2.36" height="2.70" fill="#95c5df"/><rect x="71.64" y="52.94" width="2.36" height="2.70" fill="#68acd5"/><rect x="73.95" y="52.94" width="2.36" height="2.70" fill="#89bedc"/><rect x="76.26" y="52.94" width="2.36" height="2.70" fill="#74b3d8"/><rect x="78.58" y="52.94" width="2.36" height="2.70" fill="#59a2cf"/><rect x="80.89" y="52.94" width="2.36" height="2.70" fill="#559fcd"/><rect x="85.51" y="52.94" width="2.36" height="2.70" fill="#74b3d8"/><rect x="11.56" y="55.59" width="2.36" height="2.70" fill="#a2cce3"/><rect x="13.87" y="55.59" width="2.36" height="2.70" fill="#add0e6"/><rect x="16.18" y="55.59" width="2.36" height="2.70" fill="#9ecae1"/><rect x="18.49" y="55.59" width="2.36" height="2.70" fill="#afd1e7"/><rect x="20.80" y="55.59" width="2.36" height="2.70" fill="#c1d9ed"/><rect x="23.11" y="55.59" width="2.36" height="2.70" fill="#bdd7ec"/><rect x="25.42" y="55.59" width="2.36" height="2.70" fill="#afd1e7"/><rect x="27.73" y="55.59" width="2.36" height="2.70" fill="#b6d4e9"/><rect x="30.04" y="55.59" width="2.36" height="2.70" fill="#add0e6"/><rect x="32.35" y="55.59" width="2.36" height="2.70" fill="#90c2de"/><rect x="34.67" y="55.59" width="2.36" height="2.70" fill="#8cc0dd"/><rect x="36.98" y="55.59" width="2.36" height="2.70" fill="#7cb7da"/><rect x="39.29" y="55.59" width="2.36" height="2.70" fill="#64a9d3"/><rect x="41.60" y="55.59" width="2.36" height="2.70" fill="#59a1cf"/><rect x="43.91" y="55.59" width="2.36" height="2.70" fill="#4795c8"/><rect x="46.22" y="55.59" width="2.36" height="2.70" fill="#529dcc"/><rect x="48.53" y="55.59" width="2.36" height="2.70" fill="#65aad4"/><rect x="50.84" y="55.59" width="2.36" height="2.70" fill="#8abfdd"/><rect x="53.15" y="55.59" width="2.36" height="2.70" fill="#7eb9da"/><rect x="55.47" y="55.59" width="2.36" height="2.70" fill="#83bbdb"/><rect x="57.78" y="55.59" width="2.36" height="2.70" fill="#8fc2de"/><rect x="60.09" y="55.59" width="2.36" height="2.70" fill="#94c5df"/><rect x="62.40" y="55.59" width="2.36" height="2.70" fill="#92c3de"/><rect x="64.71" y="55.59" width="2.36" height="2.70" fill="#7bb7d9"/><rect x="67.02" y="55.59" width="2.36" height="2.70" fill="#5ea5d1"/><rect x="69.33" y="55.59" width="2.36" height="2.70" fill="#74b3d8"/><rect x="71.64" y="55.59" width="2.36" height="2.70" fill="#77b5d9"/><rect x="73.95" y="55.59" width="2.36" height="2.70" fill="#6dafd6"/><rect x="76.26" y="55.59" width="2.36" height="2.70" fill="#80badb"/><rect x="11.56" y="58.24" width="2.36" height="2.70" fill="#9fcae1"/><rect x="13.87" y="58.24" width="2.36" height="2.70" fill="#f7fbff"/><rect x="16.18" y="58.24" width="2.36" height="2.70" fill="#94c5df"/><rect x="18.49" y="58.24" width="2.36" height="2.70" fill="#7ab6d9"/><rect x="20.80" y="58.24" width="2.36" height="2.70" fill="#84bbdb"/><rect x="23.11" y="58.24" width="2.36" height="2.70" fill="#80b9da"/><rect x="25.42" y="58.24" width="2.36" height="2.70" fill="#82bbdb"/><rect x="27.73" y="58.24" width="2.36" height="2.70" fill="#83bbdb"/><rect x="30.04" y="58.24" width="2.36" height="2.70" fill="#98c7e0"/><rect x="32.35" y="58.24" width="2.36" height="2.70" fill="#6caed6"/><rect x="34.67" y="58.24" width="2.36" height="2.70" fill="#8fc2de"/><rect x="36.98" y="58.24" width="2.36" height="2.70" fill="#c2d9ed"/><rect x="39.29" y="58.24" width="2.36" height="2.70" fill="#8cc0dd"/><rect x="41.60" y="58.24" width="2.36" height="2.70" fill="#1865ac"/><rect x="43.91" y="58.24" width="2.36" height="2.70" fill="#1460a8"/><rect x="46.22" y="58.24" width="2.36" height="2.70" fill="#3f8fc5"/><rect x="48.53" y="58.24" width="2.36" height="2.70" fill="#4e9acb"/><rect x="50.84" y="58.24" width="2.36" height="2.70" fill="#79b6d9"/><rect x="53.15" y="58.24" width="2.36" height="2.70" fill="#3f8fc4"/><rect x="55.47" y="58.24" width="2.36" height="2.70" fill="#2a7ab9"/><rect x="57.78" y="58.24" width="2.36" height="2.70" fill="#2272b5"/><rect x="60.09" y="58.24" width="2.36" height="2.70" fill="#4796c8"/><rect x="62.40" y="58.24" width="2.36" height="2.70" fill="#559fcd"/><rect x="64.71" y="58.24" width="2.36" height="2.70" fill="#4f9bcb"/><rect x="67.02" y="58.24" width="2.36" height="2.70" fill="#3383be"/><rect x="69.33" y="58.24" width="2.36" height="2.70" fill="#2e7ebc"/><rect x="71.64" y="58.24" width="2.36" height="2.70" fill="#cfe1f2"/><rect x="73.95" y="58.24" width="2.36" height="2.70" fill="#d5e5f4"/><rect x="76.26" y="58.24" width="2.36" height="2.70" fill="#7ab6d9"/><rect x="78.58" y="58.24" width="2.36" height="2.70" fill="#7db8da"/><rect x="80.89" y="58.24" width="2.36" height="2.70" fill="#569fce"/><rect x="11.56" y="60.88" width="2.36" height="2.70" fill="#76b4d8"/><rect x="13.87" y="60.88" width="2.36" height="2.70" fill="#97c6df"/><rect x="16.18" y="60.88" width="2.36" height="2.70" fill="#7eb8da"/><rect x="18.49" y="60.88" width="2.36" height="2.70" fill="#7bb7da"/><rect x="20.80" y="60.88" width="2.36" height="2.70" fill="#76b4d8"/><rect x="23.11" y="60.88" width="2.36" height="2.70" fill="#79b6d9"/><rect x="25.42" y="60.88" width="2.36" height="2.70" fill="#79b6d9"/><rect x="27.73" y="60.88" width="2.36" height="2.70" fill="#6cafd6"/><rect x="30.04" y="60.88" width="2.36" height="2.70" fill="#66aad4"/><rect x="32.35" y="60.88" width="2.36" height="2.70" fill="#61a7d2"/><rect x="34.67" y="60.88" width="2.36" height="2.70" fill="#6eb0d7"/><rect x="36.98" y="60.88" width="2.36" height="2.70" fill="#7fb9da"/><rect x="39.29" y="60.88" width="2.36" height="2.70" fill="#5ea5d1"/><rect x="41.60" y="60.88" width="2.36" height="2.70" fill="#09539d"/><rect x="43.91" y="60.88" width="2.36" height="2.70" fill="#084082"/><rect x="46.22" y="60.88" width="2.36" height="2.70" fill="#2171b5"/><rect x="48.53" y="60.88" width="2.36" height="2.70" fill="#68acd5"/><rect x="50.84" y="60.88" width="2.36" height="2.70" fill="#6fb0d7"/><rect x="53.15" y="60.88" width="2.36" height="2.70" fill="#4594c7"/><rect x="55.47" y="60.88" width="2.36" height="2.70" fill="#1c6bb0"/><rect x="57.78" y="60.88" width="2.36" height="2.70" fill="#2474b7"/><rect x="60.09" y="60.88" width="2.36" height="2.70" fill="#4b98c9"/><rect x="62.40" y="60.88" width="2.36" height="2.70" fill="#66aad4"/><rect x="64.71" y="60.88" width="2.36" height="2.70" fill="#4d9aca"/><rect x="67.02" y="60.88" width="2.36" height="2.70" fill="#2c7cbb"/><rect x="69.33" y="60.88" width="2.36" height="2.70" fill="#3989c1"/><rect x="71.64" y="60.88" width="2.36" height="2.70" fill="#64a9d3"/><rect x="73.95" y="60.88" width="2.36" height="2.70" fill="#6eb0d7"/><rect x="76.26" y="60.88" width="2.36" height="2.70" fill="#64a9d3"/><rect x="80.89" y="60.88" width="2.36" height="2.70" fill="#73b2d8"/><rect x="85.51" y="60.88" width="2.36" height="2.70" fill="#81badb"/><rect x="39.29" y="63.53" width="2.36" height="2.70" fill="#4191c5"/><rect x="41.60" y="63.53" width="2.36" height="2.70" fill="#1764ab"/><rect x="43.91" y="63.53" width="2.36" height="2.70" fill="#1461a8"/><rect x="46.22" y="63.53" width="2.36" height="2.70" fill="#3888c1"/><rect x="48.53" y="63.53" width="2.36" height="2.70" fill="#67abd4"/><rect x="39.29" y="66.18" width="2.36" height="2.70" fill="#4594c7"/><rect x="41.60" y="66.18" width="2.36" height="2.70" fill="#3484bf"/><rect x="43.91" y="66.18" width="2.36" height="2.70" fill="#3787c0"/><rect x="46.22" y="66.18" width="2.36" height="2.70" fill="#4292c6"/><rect x="48.53" y="66.18" width="2.36" height="2.70" fill="#519ccc"/></g><g fill="#000"><rect x="12.46" y="40.31" width="0.55" height="1.4" opacity="0.6"/><rect x="14.77" y="40.31" width="0.55" height="1.4" opacity="0.6"/><rect x="17.08" y="40.31" width="0.55" height="1.4" opacity="0.6"/><rect x="21.70" y="40.31" width="0.55" height="1.4" opacity="0.6"/><rect x="24.01" y="40.31" width="0.55" height="1.4" opacity="0.6"/><rect x="28.63" y="40.31" width="0.55" height="1.4" opacity="0.6"/><rect x="30.94" y="40.31" width="0.55" height="1.4" opacity="0.6"/><rect x="35.57" y="40.31" width="0.55" height="1.4" opacity="0.6"/><rect x="40.19" y="40.31" width="0.55" height="1.4" opacity="0.6"/><rect x="42.50" y="40.31" width="0.55" height="1.4" opacity="0.6"/><rect x="44.81" y="40.31" width="0.55" height="1.4" opacity="0.6"/><rect x="49.43" y="40.31" width="0.55" height="1.4" opacity="0.6"/><rect x="54.05" y="40.31" width="0.55" height="1.4" opacity="0.6"/><rect x="58.68" y="40.31" width="0.55" height="1.4" opacity="0.6"/><rect x="65.61" y="40.31" width="0.55" height="1.4" opacity="0.6"/><rect x="67.92" y="40.31" width="0.55" height="1.4" opacity="0.6"/><rect x="70.23" y="40.31" width="0.55" height="1.4" opacity="0.6"/><rect x="74.85" y="40.31" width="0.55" height="1.4" opacity="0.6"/><rect x="12.46" y="42.95" width="0.55" height="1.4" opacity="0.6"/><rect x="17.08" y="42.95" width="0.55" height="1.4" opacity="0.6"/><rect x="19.39" y="42.95" width="0.55" height="1.4" opacity="0.6"/><rect x="21.70" y="42.95" width="0.55" height="1.4" opacity="0.6"/><rect x="24.01" y="42.95" width="0.55" height="1.4" opacity="0.6"/><rect x="26.32" y="42.95" width="0.55" height="1.4" opacity="0.6"/><rect x="28.63" y="42.95" width="0.55" height="1.4" opacity="0.6"/><rect x="33.25" y="42.95" width="0.55" height="1.4" opacity="0.6"/><rect x="35.57" y="42.95" width="0.55" height="1.4" opacity="0.6"/><rect x="37.88" y="42.95" width="0.55" height="1.4" opacity="0.6"/><rect x="40.19" y="42.95" width="0.55" height="1.4" opacity="0.6"/><rect x="47.12" y="42.95" width="0.55" height="1.4" opacity="0.6"/><rect x="49.43" y="42.95" width="0.55" height="1.4" opacity="0.6"/><rect x="51.74" y="42.95" width="0.55" height="1.4" opacity="0.6"/><rect x="54.05" y="42.95" width="0.55" height="1.4" opacity="0.6"/><rect x="56.37" y="42.95" width="0.55" height="1.4" opacity="0.6"/><rect x="60.99" y="42.95" width="0.55" height="1.4" opacity="0.6"/><rect x="63.30" y="42.95" width="0.55" height="1.4" opacity="0.6"/><rect x="65.61" y="42.95" width="0.55" height="1.4" opacity="0.6"/><rect x="67.92" y="42.95" width="0.55" height="1.4" opacity="0.6"/><rect x="70.23" y="42.95" width="0.55" height="1.4" opacity="0.6"/><rect x="77.16" y="42.95" width="0.55" height="1.4" opacity="0.6"/><rect x="79.48" y="42.95" width="0.55" height="1.4" opacity="0.6"/><rect x="81.79" y="42.95" width="0.55" height="1.4" opacity="0.6"/><rect x="86.41" y="42.95" width="0.55" height="1.4" opacity="0.6"/><rect x="12.46" y="45.60" width="0.55" height="1.4" opacity="0.6"/><rect x="14.77" y="45.60" width="0.55" height="1.4" opacity="0.6"/><rect x="17.08" y="45.60" width="0.55" height="1.4" opacity="0.6"/><rect x="19.39" y="45.60" width="0.55" height="1.4" opacity="0.6"/><rect x="21.70" y="45.60" width="0.55" height="1.4" opacity="0.6"/><rect x="24.01" y="45.60" width="0.55" height="1.4" opacity="0.6"/><rect x="26.32" y="45.60" width="0.55" height="1.4" opacity="0.6"/><rect x="28.63" y="45.60" width="0.55" height="1.4" opacity="0.6"/><rect x="30.94" y="45.60" width="0.55" height="1.4" opacity="0.6"/><rect x="33.25" y="45.60" width="0.55" height="1.4" opacity="0.6"/><rect x="35.57" y="45.60" width="0.55" height="1.4" opacity="0.6"/><rect x="37.88" y="45.60" width="0.55" height="1.4" opacity="0.6"/><rect x="40.19" y="45.60" width="0.55" height="1.4" opacity="0.6"/><rect x="44.81" y="45.60" width="0.55" height="1.4" opacity="0.6"/><rect x="47.12" y="45.60" width="0.55" height="1.4" opacity="0.6"/><rect x="51.74" y="45.60" width="0.55" height="1.4" opacity="0.6"/><rect x="54.05" y="45.60" width="0.55" height="1.4" opacity="0.6"/><rect x="56.37" y="45.60" width="0.55" height="1.4" opacity="0.6"/><rect x="58.68" y="45.60" width="0.55" height="1.4" opacity="0.6"/><rect x="60.99" y="45.60" width="0.55" height="1.4" opacity="0.6"/><rect x="63.30" y="45.60" width="0.55" height="1.4" opacity="0.6"/><rect x="65.61" y="45.60" width="0.55" height="1.4" opacity="0.6"/><rect x="72.54" y="45.60" width="0.55" height="1.4" opacity="0.6"/><rect x="74.85" y="45.60" width="0.55" height="1.4" opacity="0.6"/><rect x="77.16" y="45.60" width="0.55" height="1.4" opacity="0.6"/><rect x="79.48" y="45.60" width="0.55" height="1.4" opacity="0.6"/><rect x="86.41" y="45.60" width="0.55" height="1.4" opacity="0.6"/><rect x="12.46" y="48.25" width="0.55" height="1.4" opacity="0.6"/><rect x="17.08" y="48.25" width="0.55" height="1.4" opacity="0.6"/><rect x="19.39" y="48.25" width="0.55" height="1.4" opacity="0.6"/><rect x="24.01" y="48.25" width="0.55" height="1.4" opacity="0.6"/><rect x="26.32" y="48.25" width="0.55" height="1.4" opacity="0.6"/><rect x="28.63" y="48.25" width="0.55" height="1.4" opacity="0.6"/><rect x="30.94" y="48.25" width="0.55" height="1.4" opacity="0.6"/><rect x="33.25" y="48.25" width="0.55" height="1.4" opacity="0.6"/><rect x="35.57" y="48.25" width="0.55" height="1.4" opacity="0.6"/><rect x="40.19" y="48.25" width="0.55" height="1.4" opacity="0.6"/><rect x="42.50" y="48.25" width="0.55" height="1.4" opacity="0.6"/><rect x="44.81" y="48.25" width="0.55" height="1.4" opacity="0.6"/><rect x="47.12" y="48.25" width="0.55" height="1.4" opacity="0.6"/><rect x="49.43" y="48.25" width="0.55" height="1.4" opacity="0.6"/><rect x="51.74" y="48.25" width="0.55" height="1.4" opacity="0.6"/><rect x="56.37" y="48.25" width="0.55" height="1.4" opacity="0.6"/><rect x="58.68" y="48.25" width="0.55" height="1.4" opacity="0.6"/><rect x="60.99" y="48.25" width="0.55" height="1.4" opacity="0.6"/><rect x="63.30" y="48.25" width="0.55" height="1.4" opacity="0.6"/><rect x="65.61" y="48.25" width="0.55" height="1.4" opacity="0.6"/><rect x="70.23" y="48.25" width="0.55" height="1.4" opacity="0.6"/><rect x="74.85" y="48.25" width="0.55" height="1.4" opacity="0.6"/><rect x="77.16" y="48.25" width="0.55" height="1.4" opacity="0.6"/><rect x="81.79" y="48.25" width="0.55" height="1.4" opacity="0.6"/><rect x="84.10" y="48.25" width="0.55" height="1.4" opacity="0.6"/><rect x="86.41" y="48.25" width="0.55" height="1.4" opacity="0.6"/><rect x="12.46" y="50.89" width="0.55" height="1.4" opacity="0.6"/><rect x="17.08" y="50.89" width="0.55" height="1.4" opacity="0.6"/><rect x="19.39" y="50.89" width="0.55" height="1.4" opacity="0.6"/><rect x="26.32" y="50.89" width="0.55" height="1.4" opacity="0.6"/><rect x="28.63" y="50.89" width="0.55" height="1.4" opacity="0.6"/><rect x="30.94" y="50.89" width="0.55" height="1.4" opacity="0.6"/><rect x="35.57" y="50.89" width="0.55" height="1.4" opacity="0.6"/><rect x="40.19" y="50.89" width="0.55" height="1.4" opacity="0.6"/><rect x="44.81" y="50.89" width="0.55" height="1.4" opacity="0.6"/><rect x="49.43" y="50.89" width="0.55" height="1.4" opacity="0.6"/><rect x="51.74" y="50.89" width="0.55" height="1.4" opacity="0.6"/><rect x="54.05" y="50.89" width="0.55" height="1.4" opacity="0.6"/><rect x="58.68" y="50.89" width="0.55" height="1.4" opacity="0.6"/><rect x="63.30" y="50.89" width="0.55" height="1.4" opacity="0.6"/><rect x="65.61" y="50.89" width="0.55" height="1.4" opacity="0.6"/><rect x="67.92" y="50.89" width="0.55" height="1.4" opacity="0.6"/><rect x="70.23" y="50.89" width="0.55" height="1.4" opacity="0.6"/><rect x="72.54" y="50.89" width="0.55" height="1.4" opacity="0.6"/><rect x="74.85" y="50.89" width="0.55" height="1.4" opacity="0.6"/><rect x="79.48" y="50.89" width="0.55" height="1.4" opacity="0.6"/><rect x="81.79" y="50.89" width="0.55" height="1.4" opacity="0.6"/><rect x="84.10" y="50.89" width="0.55" height="1.4" opacity="0.6"/><rect x="12.46" y="53.54" width="0.55" height="1.4" opacity="0.6"/><rect x="14.77" y="53.54" width="0.55" height="1.4" opacity="0.6"/><rect x="19.39" y="53.54" width="0.55" height="1.4" opacity="0.6"/><rect x="21.70" y="53.54" width="0.55" height="1.4" opacity="0.6"/><rect x="24.01" y="53.54" width="0.55" height="1.4" opacity="0.6"/><rect x="26.32" y="53.54" width="0.55" height="1.4" opacity="0.6"/><rect x="28.63" y="53.54" width="0.55" height="1.4" opacity="0.6"/><rect x="30.94" y="53.54" width="0.55" height="1.4" opacity="0.6"/><rect x="33.25" y="53.54" width="0.55" height="1.4" opacity="0.6"/><rect x="35.57" y="53.54" width="0.55" height="1.4" opacity="0.6"/><rect x="37.88" y="53.54" width="0.55" height="1.4" opacity="0.6"/><rect x="42.50" y="53.54" width="0.55" height="1.4" opacity="0.6"/><rect x="44.81" y="53.54" width="0.55" height="1.4" opacity="0.6"/><rect x="49.43" y="53.54" width="0.55" height="1.4" opacity="0.6"/><rect x="51.74" y="53.54" width="0.55" height="1.4" opacity="0.6"/><rect x="54.05" y="53.54" width="0.55" height="1.4" opacity="0.6"/><rect x="58.68" y="53.54" width="0.55" height="1.4" opacity="0.6"/><rect x="63.30" y="53.54" width="0.55" height="1.4" opacity="0.6"/><rect x="65.61" y="53.54" width="0.55" height="1.4" opacity="0.6"/><rect x="67.92" y="53.54" width="0.55" height="1.4" opacity="0.6"/><rect x="70.23" y="53.54" width="0.55" height="1.4" opacity="0.6"/><rect x="74.85" y="53.54" width="0.55" height="1.4" opacity="0.6"/><rect x="79.48" y="53.54" width="0.55" height="1.4" opacity="0.6"/><rect x="81.79" y="53.54" width="0.55" height="1.4" opacity="0.6"/><rect x="86.41" y="53.54" width="0.55" height="1.4" opacity="0.6"/><rect x="12.46" y="56.19" width="0.55" height="1.4" opacity="0.6"/><rect x="14.77" y="56.19" width="0.55" height="1.4" opacity="0.6"/><rect x="17.08" y="56.19" width="0.55" height="1.4" opacity="0.6"/><rect x="19.39" y="56.19" width="0.55" height="1.4" opacity="0.6"/><rect x="24.01" y="56.19" width="0.55" height="1.4" opacity="0.6"/><rect x="26.32" y="56.19" width="0.55" height="1.4" opacity="0.6"/><rect x="35.57" y="56.19" width="0.55" height="1.4" opacity="0.6"/><rect x="40.19" y="56.19" width="0.55" height="1.4" opacity="0.6"/><rect x="42.50" y="56.19" width="0.55" height="1.4" opacity="0.6"/><rect x="44.81" y="56.19" width="0.55" height="1.4" opacity="0.6"/><rect x="51.74" y="56.19" width="0.55" height="1.4" opacity="0.6"/><rect x="54.05" y="56.19" width="0.55" height="1.4" opacity="0.6"/><rect x="56.37" y="56.19" width="0.55" height="1.4" opacity="0.6"/><rect x="58.68" y="56.19" width="0.55" height="1.4" opacity="0.6"/><rect x="60.99" y="56.19" width="0.55" height="1.4" opacity="0.6"/><rect x="63.30" y="56.19" width="0.55" height="1.4" opacity="0.6"/><rect x="65.61" y="56.19" width="0.55" height="1.4" opacity="0.6"/><rect x="67.92" y="56.19" width="0.55" height="1.4" opacity="0.6"/><rect x="70.23" y="56.19" width="0.55" height="1.4" opacity="0.6"/><rect x="72.54" y="56.19" width="0.55" height="1.4" opacity="0.6"/><rect x="74.85" y="56.19" width="0.55" height="1.4" opacity="0.6"/><rect x="77.16" y="56.19" width="0.55" height="1.4" opacity="0.6"/><rect x="17.08" y="58.84" width="0.55" height="1.4" opacity="0.6"/><rect x="19.39" y="58.84" width="0.55" height="1.4" opacity="0.6"/><rect x="24.01" y="58.84" width="0.55" height="1.4" opacity="0.6"/><rect x="30.94" y="58.84" width="0.55" height="1.4" opacity="0.6"/><rect x="33.25" y="58.84" width="0.55" height="1.4" opacity="0.6"/><rect x="40.19" y="58.84" width="0.55" height="1.4" opacity="0.6"/><rect x="47.12" y="58.84" width="0.55" height="1.4" opacity="0.6"/><rect x="49.43" y="58.84" width="0.55" height="1.4" opacity="0.6"/><rect x="51.74" y="58.84" width="0.55" height="1.4" opacity="0.6"/><rect x="56.37" y="58.84" width="0.55" height="1.4" opacity="0.6"/><rect x="58.68" y="58.84" width="0.55" height="1.4" opacity="0.6"/><rect x="65.61" y="58.84" width="0.55" height="1.4" opacity="0.6"/><rect x="67.92" y="58.84" width="0.55" height="1.4" opacity="0.6"/><rect x="70.23" y="58.84" width="0.55" height="1.4" opacity="0.6"/><rect x="72.54" y="58.84" width="0.55" height="1.4" opacity="0.6"/><rect x="74.85" y="58.84" width="0.55" height="1.4" opacity="0.6"/><rect x="81.79" y="58.84" width="0.55" height="1.4" opacity="0.6"/><rect x="12.46" y="61.48" width="0.55" height="1.4" opacity="0.6"/><rect x="24.01" y="61.48" width="0.55" height="1.4" opacity="0.6"/><rect x="28.63" y="61.48" width="0.55" height="1.4" opacity="0.6"/><rect x="30.94" y="61.48" width="0.55" height="1.4" opacity="0.6"/><rect x="47.12" y="61.48" width="0.55" height="1.4" opacity="0.6"/><rect x="54.05" y="61.48" width="0.55" height="1.4" opacity="0.6"/><rect x="67.92" y="61.48" width="0.55" height="1.4" opacity="0.6"/><rect x="74.85" y="61.48" width="0.55" height="1.4" opacity="0.6"/><rect x="40.19" y="64.13" width="0.55" height="1.4" opacity="0.6"/><rect x="40.19" y="66.78" width="0.55" height="1.4" opacity="0.6"/><rect x="44.81" y="66.78" width="0.55" height="1.4" opacity="0.6"/></g></svg>
<line x1="224.30" y1="189" x2="224.30" y2="191" stroke="#333" stroke-width="0.6"/>
<text x="224.30" y="197.50" font-size="7.6" text-anchor="middle" fill="#262626" font-weight="normal" textLength="4.07" lengthAdjust="spacingAndGlyphs" stroke="#262626" stroke-width="0.12">0</text>
<line x1="270.52" y1="189" x2="270.52" y2="191" stroke="#333" stroke-width="0.6"/>
<text x="270.52" y="197.50" font-size="7.6" text-anchor="middle" fill="#262626" font-weight="normal" textLength="8.91" lengthAdjust="spacingAndGlyphs" stroke="#262626" stroke-width="0.12">20</text>
<line x1="316.74" y1="189" x2="316.74" y2="191" stroke="#333" stroke-width="0.6"/>
<text x="316.74" y="197.50" font-size="7.6" text-anchor="middle" fill="#262626" font-weight="normal" textLength="8.91" lengthAdjust="spacingAndGlyphs" stroke="#262626" stroke-width="0.12">40</text>
<line x1="222.3" y1="117.00" x2="224.3" y2="117.00" stroke="#333" stroke-width="0.6"/>
<text x="221.30" y="119.50" font-size="7.6" text-anchor="end" fill="#262626" font-weight="normal" textLength="4.07" lengthAdjust="spacingAndGlyphs" stroke="#262626" stroke-width="0.12">0</text>
<line x1="222.3" y1="143.47" x2="224.3" y2="143.47" stroke="#333" stroke-width="0.6"/>
<text x="221.30" y="145.97" font-size="7.6" text-anchor="end" fill="#262626" font-weight="normal" textLength="8.91" lengthAdjust="spacingAndGlyphs" stroke="#262626" stroke-width="0.12">10</text>
<line x1="222.3" y1="169.94" x2="224.3" y2="169.94" stroke="#333" stroke-width="0.6"/>
<text x="221.30" y="172.44" font-size="7.6" text-anchor="end" fill="#262626" font-weight="normal" textLength="8.91" lengthAdjust="spacingAndGlyphs" stroke="#262626" stroke-width="0.12">20</text>
<text x="273.95" y="206.50" font-size="8.0" text-anchor="middle" fill="#262626" font-weight="normal" textLength="87.00" lengthAdjust="spacingAndGlyphs" stroke="#262626" stroke-width="0.12">Horizontal surface (px)</text>
<text x="209.70" y="153.00" font-size="8.0" text-anchor="middle" fill="#262626" font-weight="normal" textLength="76.50" lengthAdjust="spacingAndGlyphs" stroke="#262626" stroke-width="0.12" transform="rotate(-90 209.70 153.00)">Vertical surface (px)</text>
<rect x="330.20" y="117" width="4.3" height="72" fill="url(#cbb)" stroke="#555" stroke-width="0.3"/>
<line x1="334.50" y1="124.20" x2="336.30" y2="124.20" stroke="#333" stroke-width="0.6"/>
<text x="337.10" y="126.80" font-size="7.6" text-anchor="start" fill="#262626" font-weight="normal" textLength="4.07" lengthAdjust="spacingAndGlyphs" stroke="#262626" stroke-width="0.12">4</text>
<line x1="334.50" y1="138.60" x2="336.30" y2="138.60" stroke="#333" stroke-width="0.6"/>
<text x="337.10" y="141.20" font-size="7.6" text-anchor="start" fill="#262626" font-weight="normal" textLength="4.07" lengthAdjust="spacingAndGlyphs" stroke="#262626" stroke-width="0.12">2</text>
<line x1="334.50" y1="153.00" x2="336.30" y2="153.00" stroke="#333" stroke-width="0.6"/>
<text x="337.10" y="155.60" font-size="7.6" text-anchor="start" fill="#262626" font-weight="normal" textLength="4.07" lengthAdjust="spacingAndGlyphs" stroke="#262626" stroke-width="0.12">0</text>
<line x1="334.50" y1="167.40" x2="336.30" y2="167.40" stroke="#333" stroke-width="0.6"/>
<text x="337.10" y="170.00" font-size="7.6" text-anchor="start" fill="#262626" font-weight="normal" textLength="10.44" lengthAdjust="spacingAndGlyphs" stroke="#262626" stroke-width="0.12">−2</text>
<line x1="334.50" y1="181.80" x2="336.30" y2="181.80" stroke="#333" stroke-width="0.6"/>
<text x="337.10" y="184.40" font-size="7.6" text-anchor="start" fill="#262626" font-weight="normal" textLength="10.44" lengthAdjust="spacingAndGlyphs" stroke="#262626" stroke-width="0.12">−4</text>
<text x="354.50" y="153.50" font-size="8.0" text-anchor="middle" fill="#262626" font-weight="normal" textLength="35.00" lengthAdjust="spacingAndGlyphs" stroke="#262626" stroke-width="0.12" transform="rotate(-90 354.50 153.50)">v_x (px/f)</text>
<defs><linearGradient id="cbc" x1="0" y1="1" x2="0" y2="0"><stop offset="0.0" stop-color="#f7fcf5"/><stop offset="0.125" stop-color="#e5f5e0"/><stop offset="0.25" stop-color="#c7e9c0"/><stop offset="0.375" stop-color="#a1d99b"/><stop offset="0.5" stop-color="#74c476"/><stop offset="0.625" stop-color="#41ab5d"/><stop offset="0.75" stop-color="#238b45"/><stop offset="0.875" stop-color="#006d2c"/><stop offset="1.0" stop-color="#00441b"/></linearGradient></defs>
<rect x="404.9" y="117" width="100.3" height="72" fill="#74c476"/>
<svg x="404.9" y="117" width="100.3" height="72" viewBox="0 0 100.3 72"><g filter="url(#blur03)"><rect x="23.11" y="39.71" width="2.36" height="2.70" fill="#6dc173"/><rect x="25.42" y="39.71" width="2.36" height="2.70" fill="#6abf71"/><rect x="27.73" y="39.71" width="2.36" height="2.70" fill="#61bb6d"/><rect x="30.04" y="39.71" width="2.36" height="2.70" fill="#67be70"/><rect x="32.35" y="39.71" width="2.36" height="2.70" fill="#66bd6f"/><rect x="34.67" y="39.71" width="2.36" height="2.70" fill="#6bbf71"/><rect x="36.98" y="39.71" width="2.36" height="2.70" fill="#60ba6c"/><rect x="39.29" y="39.71" width="2.36" height="2.70" fill="#71c274"/><rect x="41.60" y="39.71" width="2.36" height="2.70" fill="#75c477"/><rect x="43.91" y="39.71" width="2.36" height="2.70" fill="#7ac77b"/><rect x="46.22" y="39.71" width="2.36" height="2.70" fill="#68be70"/><rect x="48.53" y="39.71" width="2.36" height="2.70" fill="#79c67a"/><rect x="50.84" y="39.71" width="2.36" height="2.70" fill="#7dc87e"/><rect x="53.15" y="39.71" width="2.36" height="2.70" fill="#62bb6d"/><rect x="55.47" y="39.71" width="2.36" height="2.70" fill="#84cb83"/><rect x="57.78" y="39.71" width="2.36" height="2.70" fill="#63bc6e"/><rect x="60.09" y="39.71" width="2.36" height="2.70" fill="#80ca80"/><rect x="62.40" y="39.71" width="2.36" height="2.70" fill="#71c274"/><rect x="64.71" y="39.71" width="2.36" height="2.70" fill="#67bd6f"/><rect x="67.02" y="39.71" width="2.36" height="2.70" fill="#65bd6f"/><rect x="69.33" y="39.71" width="2.36" height="2.70" fill="#7dc87e"/><rect x="11.56" y="42.35" width="2.36" height="2.70" fill="#7cc87d"/><rect x="13.87" y="42.35" width="2.36" height="2.70" fill="#7fc97f"/><rect x="16.18" y="42.35" width="2.36" height="2.70" fill="#a0d99b"/><rect x="18.49" y="42.35" width="2.36" height="2.70" fill="#92d28f"/><rect x="20.80" y="42.35" width="2.36" height="2.70" fill="#8dd08a"/><rect x="23.11" y="42.35" width="2.36" height="2.70" fill="#70c274"/><rect x="25.42" y="42.35" width="2.36" height="2.70" fill="#6abf71"/><rect x="27.73" y="42.35" width="2.36" height="2.70" fill="#82cb82"/><rect x="30.04" y="42.35" width="2.36" height="2.70" fill="#82ca81"/><rect x="32.35" y="42.35" width="2.36" height="2.70" fill="#7dc87e"/><rect x="34.67" y="42.35" width="2.36" height="2.70" fill="#6dc072"/><rect x="36.98" y="42.35" width="2.36" height="2.70" fill="#68be70"/><rect x="39.29" y="42.35" width="2.36" height="2.70" fill="#73c375"/><rect x="41.60" y="42.35" width="2.36" height="2.70" fill="#64bc6e"/><rect x="43.91" y="42.35" width="2.36" height="2.70" fill="#6bc072"/><rect x="46.22" y="42.35" width="2.36" height="2.70" fill="#81ca81"/><rect x="48.53" y="42.35" width="2.36" height="2.70" fill="#79c67a"/><rect x="50.84" y="42.35" width="2.36" height="2.70" fill="#61ba6c"/><rect x="53.15" y="42.35" width="2.36" height="2.70" fill="#6ec173"/><rect x="55.47" y="42.35" width="2.36" height="2.70" fill="#79c67a"/><rect x="57.78" y="42.35" width="2.36" height="2.70" fill="#83cb82"/><rect x="60.09" y="42.35" width="2.36" height="2.70" fill="#74c476"/><rect x="62.40" y="42.35" width="2.36" height="2.70" fill="#69bf71"/><rect x="64.71" y="42.35" width="2.36" height="2.70" fill="#75c476"/><rect x="67.02" y="42.35" width="2.36" height="2.70" fill="#87cd86"/><rect x="69.33" y="42.35" width="2.36" height="2.70" fill="#84cb83"/><rect x="71.64" y="42.35" width="2.36" height="2.70" fill="#86cd85"/><rect x="73.95" y="42.35" width="2.36" height="2.70" fill="#7fc97f"/><rect x="76.26" y="42.35" width="2.36" height="2.70" fill="#98d593"/><rect x="78.58" y="42.35" width="2.36" height="2.70" fill="#88cd87"/><rect x="80.89" y="42.35" width="2.36" height="2.70" fill="#8ace88"/><rect x="83.20" y="42.35" width="2.36" height="2.70" fill="#89ce87"/><rect x="85.51" y="42.35" width="2.36" height="2.70" fill="#70c274"/><rect x="11.56" y="45.00" width="2.36" height="2.70" fill="#a5db9f"/><rect x="13.87" y="45.00" width="2.36" height="2.70" fill="#92d28f"/><rect x="16.18" y="45.00" width="2.36" height="2.70" fill="#a2d99c"/><rect x="18.49" y="45.00" width="2.36" height="2.70" fill="#88cd86"/><rect x="20.80" y="45.00" width="2.36" height="2.70" fill="#8bcf89"/><rect x="23.11" y="45.00" width="2.36" height="2.70" fill="#7ec97f"/><rect x="25.42" y="45.00" width="2.36" height="2.70" fill="#85cc84"/><rect x="27.73" y="45.00" width="2.36" height="2.70" fill="#6bbf71"/><rect x="30.04" y="45.00" width="2.36" height="2.70" fill="#61ba6c"/><rect x="32.35" y="45.00" width="2.36" height="2.70" fill="#82ca81"/><rect x="34.67" y="45.00" width="2.36" height="2.70" fill="#74c476"/><rect x="36.98" y="45.00" width="2.36" height="2.70" fill="#7bc77c"/><rect x="39.29" y="45.00" width="2.36" height="2.70" fill="#85cc84"/><rect x="41.60" y="45.00" width="2.36" height="2.70" fill="#72c375"/><rect x="43.91" y="45.00" width="2.36" height="2.70" fill="#78c67a"/><rect x="46.22" y="45.00" width="2.36" height="2.70" fill="#7ec97e"/><rect x="48.53" y="45.00" width="2.36" height="2.70" fill="#82ca81"/><rect x="50.84" y="45.00" width="2.36" height="2.70" fill="#80ca80"/><rect x="53.15" y="45.00" width="2.36" height="2.70" fill="#6dc173"/><rect x="55.47" y="45.00" width="2.36" height="2.70" fill="#61bb6d"/><rect x="57.78" y="45.00" width="2.36" height="2.70" fill="#6abf71"/><rect x="60.09" y="45.00" width="2.36" height="2.70" fill="#69bf71"/><rect x="62.40" y="45.00" width="2.36" height="2.70" fill="#68be70"/><rect x="64.71" y="45.00" width="2.36" height="2.70" fill="#8ace88"/><rect x="67.02" y="45.00" width="2.36" height="2.70" fill="#82ca81"/><rect x="69.33" y="45.00" width="2.36" height="2.70" fill="#80c980"/><rect x="71.64" y="45.00" width="2.36" height="2.70" fill="#8dd08b"/><rect x="73.95" y="45.00" width="2.36" height="2.70" fill="#8dd08b"/><rect x="76.26" y="45.00" width="2.36" height="2.70" fill="#a5da9e"/><rect x="78.58" y="45.00" width="2.36" height="2.70" fill="#97d493"/><rect x="80.89" y="45.00" width="2.36" height="2.70" fill="#8ace88"/><rect x="83.20" y="45.00" width="2.36" height="2.70" fill="#7bc77c"/><rect x="85.51" y="45.00" width="2.36" height="2.70" fill="#6bc072"/><rect x="11.56" y="47.65" width="2.36" height="2.70" fill="#83cb82"/><rect x="13.87" y="47.65" width="2.36" height="2.70" fill="#92d28e"/><rect x="16.18" y="47.65" width="2.36" height="2.70" fill="#a6dba0"/><rect x="18.49" y="47.65" width="2.36" height="2.70" fill="#93d390"/><rect x="20.80" y="47.65" width="2.36" height="2.70" fill="#7dc87e"/><rect x="23.11" y="47.65" width="2.36" height="2.70" fill="#6fc274"/><rect x="25.42" y="47.65" width="2.36" height="2.70" fill="#7ec97e"/><rect x="27.73" y="47.65" width="2.36" height="2.70" fill="#72c375"/><rect x="30.04" y="47.65" width="2.36" height="2.70" fill="#6abf71"/><rect x="32.35" y="47.65" width="2.36" height="2.70" fill="#64bc6e"/><rect x="34.67" y="47.65" width="2.36" height="2.70" fill="#66bd6f"/><rect x="36.98" y="47.65" width="2.36" height="2.70" fill="#85cc84"/><rect x="39.29" y="47.65" width="2.36" height="2.70" fill="#86cc85"/><rect x="41.60" y="47.65" width="2.36" height="2.70" fill="#85cc84"/><rect x="43.91" y="47.65" width="2.36" height="2.70" fill="#9bd696"/><rect x="46.22" y="47.65" width="2.36" height="2.70" fill="#94d390"/><rect x="48.53" y="47.65" width="2.36" height="2.70" fill="#94d390"/><rect x="50.84" y="47.65" width="2.36" height="2.70" fill="#86cd85"/><rect x="53.15" y="47.65" width="2.36" height="2.70" fill="#6dc072"/><rect x="55.47" y="47.65" width="2.36" height="2.70" fill="#69be70"/><rect x="57.78" y="47.65" width="2.36" height="2.70" fill="#84cb83"/><rect x="60.09" y="47.65" width="2.36" height="2.70" fill="#7dc87e"/><rect x="62.40" y="47.65" width="2.36" height="2.70" fill="#62bb6d"/><rect x="64.71" y="47.65" width="2.36" height="2.70" fill="#86cc85"/><rect x="67.02" y="47.65" width="2.36" height="2.70" fill="#8ace88"/><rect x="69.33" y="47.65" width="2.36" height="2.70" fill="#9ad695"/><rect x="71.64" y="47.65" width="2.36" height="2.70" fill="#8ed08c"/><rect x="73.95" y="47.65" width="2.36" height="2.70" fill="#afdfa9"/><rect x="76.26" y="47.65" width="2.36" height="2.70" fill="#9ed899"/><rect x="78.58" y="47.65" width="2.36" height="2.70" fill="#a1d99b"/><rect x="80.89" y="47.65" width="2.36" height="2.70" fill="#98d593"/><rect x="83.20" y="47.65" width="2.36" height="2.70" fill="#7dc87d"/><rect x="85.51" y="47.65" width="2.36" height="2.70" fill="#7ec97e"/><rect x="11.56" y="50.29" width="2.36" height="2.70" fill="#69bf71"/><rect x="13.87" y="50.29" width="2.36" height="2.70" fill="#80ca80"/><rect x="16.18" y="50.29" width="2.36" height="2.70" fill="#99d594"/><rect x="18.49" y="50.29" width="2.36" height="2.70" fill="#aadda4"/><rect x="20.80" y="50.29" width="2.36" height="2.70" fill="#9bd696"/><rect x="23.11" y="50.29" width="2.36" height="2.70" fill="#8fd08c"/><rect x="25.42" y="50.29" width="2.36" height="2.70" fill="#89ce87"/><rect x="27.73" y="50.29" width="2.36" height="2.70" fill="#7bc77c"/><rect x="30.04" y="50.29" width="2.36" height="2.70" fill="#93d390"/><rect x="32.35" y="50.29" width="2.36" height="2.70" fill="#85cc84"/><rect x="34.67" y="50.29" width="2.36" height="2.70" fill="#94d391"/><rect x="36.98" y="50.29" width="2.36" height="2.70" fill="#8bcf89"/><rect x="39.29" y="50.29" width="2.36" height="2.70" fill="#a1d99b"/><rect x="41.60" y="50.29" width="2.36" height="2.70" fill="#a2da9c"/><rect x="43.91" y="50.29" width="2.36" height="2.70" fill="#9fd89a"/><rect x="46.22" y="50.29" width="2.36" height="2.70" fill="#9fd899"/><rect x="48.53" y="50.29" width="2.36" height="2.70" fill="#a4da9e"/><rect x="50.84" y="50.29" width="2.36" height="2.70" fill="#81ca81"/><rect x="53.15" y="50.29" width="2.36" height="2.70" fill="#7ec97e"/><rect x="55.47" y="50.29" width="2.36" height="2.70" fill="#71c274"/><rect x="57.78" y="50.29" width="2.36" height="2.70" fill="#50b264"/><rect x="60.09" y="50.29" width="2.36" height="2.70" fill="#6fc274"/><rect x="62.40" y="50.29" width="2.36" height="2.70" fill="#61bb6d"/><rect x="64.71" y="50.29" width="2.36" height="2.70" fill="#76c578"/><rect x="67.02" y="50.29" width="2.36" height="2.70" fill="#79c77a"/><rect x="69.33" y="50.29" width="2.36" height="2.70" fill="#9ad695"/><rect x="71.64" y="50.29" width="2.36" height="2.70" fill="#90d18d"/><rect x="73.95" y="50.29" width="2.36" height="2.70" fill="#a8dca2"/><rect x="76.26" y="50.29" width="2.36" height="2.70" fill="#abdda5"/><rect x="78.58" y="50.29" width="2.36" height="2.70" fill="#a3da9d"/><rect x="80.89" y="50.29" width="2.36" height="2.70" fill="#90d18d"/><rect x="83.20" y="50.29" width="2.36" height="2.70" fill="#89ce88"/><rect x="85.51" y="50.29" width="2.36" height="2.70" fill="#71c274"/><rect x="11.56" y="52.94" width="2.36" height="2.70" fill="#58b668"/><rect x="13.87" y="52.94" width="2.36" height="2.70" fill="#7bc77c"/><rect x="16.18" y="52.94" width="2.36" height="2.70" fill="#a8dca1"/><rect x="18.49" y="52.94" width="2.36" height="2.70" fill="#c4e8bd"/><rect x="20.80" y="52.94" width="2.36" height="2.70" fill="#b4e1ae"/><rect x="23.11" y="52.94" width="2.36" height="2.70" fill="#cbeac4"/><rect x="25.42" y="52.94" width="2.36" height="2.70" fill="#d0edc9"/><rect x="27.73" y="52.94" width="2.36" height="2.70" fill="#d1edca"/><rect x="30.04" y="52.94" width="2.36" height="2.70" fill="#d5efcf"/><rect x="32.35" y="52.94" width="2.36" height="2.70" fill="#c4e8bd"/><rect x="34.67" y="52.94" width="2.36" height="2.70" fill="#b1e0ab"/><rect x="36.98" y="52.94" width="2.36" height="2.70" fill="#bae3b3"/><rect x="39.29" y="52.94" width="2.36" height="2.70" fill="#96d492"/><rect x="41.60" y="52.94" width="2.36" height="2.70" fill="#95d391"/><rect x="43.91" y="52.94" width="2.36" height="2.70" fill="#acdea5"/><rect x="46.22" y="52.94" width="2.36" height="2.70" fill="#a0d99b"/><rect x="48.53" y="52.94" width="2.36" height="2.70" fill="#92d28e"/><rect x="50.84" y="52.94" width="2.36" height="2.70" fill="#71c375"/><rect x="53.15" y="52.94" width="2.36" height="2.70" fill="#44ac5e"/><rect x="55.47" y="52.94" width="2.36" height="2.70" fill="#39a256"/><rect x="57.78" y="52.94" width="2.36" height="2.70" fill="#2a934b"/><rect x="60.09" y="52.94" width="2.36" height="2.70" fill="#2c944c"/><rect x="62.40" y="52.94" width="2.36" height="2.70" fill="#3da75a"/><rect x="64.71" y="52.94" width="2.36" height="2.70" fill="#5fba6c"/><rect x="67.02" y="52.94" width="2.36" height="2.70" fill="#65bd6f"/><rect x="69.33" y="52.94" width="2.36" height="2.70" fill="#8dd08b"/><rect x="71.64" y="52.94" width="2.36" height="2.70" fill="#8bcf89"/><rect x="73.95" y="52.94" width="2.36" height="2.70" fill="#8ed08b"/><rect x="76.26" y="52.94" width="2.36" height="2.70" fill="#99d594"/><rect x="78.58" y="52.94" width="2.36" height="2.70" fill="#74c476"/><rect x="80.89" y="52.94" width="2.36" height="2.70" fill="#3ea85b"/><rect x="83.20" y="52.94" width="2.36" height="2.70" fill="#5ab769"/><rect x="85.51" y="52.94" width="2.36" height="2.70" fill="#82cb82"/><rect x="11.56" y="55.59" width="2.36" height="2.70" fill="#8bcf89"/><rect x="13.87" y="55.59" width="2.36" height="2.70" fill="#a4da9e"/><rect x="16.18" y="55.59" width="2.36" height="2.70" fill="#a4da9e"/><rect x="18.49" y="55.59" width="2.36" height="2.70" fill="#c4e8bd"/><rect x="20.80" y="55.59" width="2.36" height="2.70" fill="#d1edca"/><rect x="23.11" y="55.59" width="2.36" height="2.70" fill="#eff9eb"/><rect x="25.42" y="55.59" width="2.36" height="2.70" fill="#f7fcf5"/><rect x="27.73" y="55.59" width="2.36" height="2.70" fill="#f7fcf5"/><rect x="30.04" y="55.59" width="2.36" height="2.70" fill="#f7fcf5"/><rect x="32.35" y="55.59" width="2.36" height="2.70" fill="#f7fcf5"/><rect x="34.67" y="55.59" width="2.36" height="2.70" fill="#eff9eb"/><rect x="36.98" y="55.59" width="2.36" height="2.70" fill="#d3eecd"/><rect x="39.29" y="55.59" width="2.36" height="2.70" fill="#afdfa9"/><rect x="41.60" y="55.59" width="2.36" height="2.70" fill="#88cd86"/><rect x="43.91" y="55.59" width="2.36" height="2.70" fill="#9cd697"/><rect x="46.22" y="55.59" width="2.36" height="2.70" fill="#90d18d"/><rect x="48.53" y="55.59" width="2.36" height="2.70" fill="#66bd6f"/><rect x="50.84" y="55.59" width="2.36" height="2.70" fill="#6ec173"/><rect x="53.15" y="55.59" width="2.36" height="2.70" fill="#56b567"/><rect x="55.47" y="55.59" width="2.36" height="2.70" fill="#37a055"/><rect x="57.78" y="55.59" width="2.36" height="2.70" fill="#319a50"/><rect x="60.09" y="55.59" width="2.36" height="2.70" fill="#3ca659"/><rect x="62.40" y="55.59" width="2.36" height="2.70" fill="#2c944c"/><rect x="64.71" y="55.59" width="2.36" height="2.70" fill="#61bb6d"/><rect x="67.02" y="55.59" width="2.36" height="2.70" fill="#6fc274"/><rect x="69.33" y="55.59" width="2.36" height="2.70" fill="#88cd86"/><rect x="71.64" y="55.59" width="2.36" height="2.70" fill="#79c67a"/><rect x="73.95" y="55.59" width="2.36" height="2.70" fill="#8ace88"/><rect x="76.26" y="55.59" width="2.36" height="2.70" fill="#7ac77b"/><rect x="78.58" y="55.59" width="2.36" height="2.70" fill="#44ac5e"/><rect x="80.89" y="55.59" width="2.36" height="2.70" fill="#107b38"/><rect x="83.20" y="55.59" width="2.36" height="2.70" fill="#319a50"/><rect x="85.51" y="55.59" width="2.36" height="2.70" fill="#7ac77b"/><rect x="11.56" y="58.24" width="2.36" height="2.70" fill="#77c579"/><rect x="13.87" y="58.24" width="2.36" height="2.70" fill="#99d594"/><rect x="16.18" y="58.24" width="2.36" height="2.70" fill="#a8dca2"/><rect x="18.49" y="58.24" width="2.36" height="2.70" fill="#9ad695"/><rect x="20.80" y="58.24" width="2.36" height="2.70" fill="#aadda4"/><rect x="23.11" y="58.24" width="2.36" height="2.70" fill="#d6efd0"/><rect x="25.42" y="58.24" width="2.36" height="2.70" fill="#e0f3db"/><rect x="27.73" y="58.24" width="2.36" height="2.70" fill="#f7fcf5"/><rect x="30.04" y="58.24" width="2.36" height="2.70" fill="#f7fcf5"/><rect x="32.35" y="58.24" width="2.36" height="2.70" fill="#f7fcf5"/><rect x="34.67" y="58.24" width="2.36" height="2.70" fill="#e3f4dd"/><rect x="36.98" y="58.24" width="2.36" height="2.70" fill="#b3e1ad"/><rect x="39.29" y="58.24" width="2.36" height="2.70" fill="#95d391"/><rect x="41.60" y="58.24" width="2.36" height="2.70" fill="#8ace88"/><rect x="43.91" y="58.24" width="2.36" height="2.70" fill="#75c477"/><rect x="46.22" y="58.24" width="2.36" height="2.70" fill="#76c577"/><rect x="48.53" y="58.24" width="2.36" height="2.70" fill="#62bb6d"/><rect x="50.84" y="58.24" width="2.36" height="2.70" fill="#67be70"/><rect x="53.15" y="58.24" width="2.36" height="2.70" fill="#76c577"/><rect x="55.47" y="58.24" width="2.36" height="2.70" fill="#57b668"/><rect x="57.78" y="58.24" width="2.36" height="2.70" fill="#4cb163"/><rect x="60.09" y="58.24" width="2.36" height="2.70" fill="#58b668"/><rect x="62.40" y="58.24" width="2.36" height="2.70" fill="#1e8742"/><rect x="64.71" y="58.24" width="2.36" height="2.70" fill="#62bb6d"/><rect x="67.02" y="58.24" width="2.36" height="2.70" fill="#7cc87c"/><rect x="69.33" y="58.24" width="2.36" height="2.70" fill="#6abf71"/><rect x="71.64" y="58.24" width="2.36" height="2.70" fill="#81ca80"/><rect x="73.95" y="58.24" width="2.36" height="2.70" fill="#7bc77c"/><rect x="76.26" y="58.24" width="2.36" height="2.70" fill="#83cb82"/><rect x="78.58" y="58.24" width="2.36" height="2.70" fill="#60ba6c"/><rect x="80.89" y="58.24" width="2.36" height="2.70" fill="#5fba6c"/><rect x="83.20" y="58.24" width="2.36" height="2.70" fill="#6ec173"/><rect x="85.51" y="58.24" width="2.36" height="2.70" fill="#7cc87c"/><rect x="27.73" y="60.88" width="2.36" height="2.70" fill="#acdea6"/><rect x="30.04" y="60.88" width="2.36" height="2.70" fill="#b9e3b2"/><rect x="32.35" y="60.88" width="2.36" height="2.70" fill="#9cd797"/><rect x="34.67" y="60.88" width="2.36" height="2.70" fill="#96d492"/><rect x="36.98" y="60.88" width="2.36" height="2.70" fill="#94d390"/><rect x="60.09" y="60.88" width="2.36" height="2.70" fill="#6dc072"/><rect x="62.40" y="60.88" width="2.36" height="2.70" fill="#58b668"/><rect x="64.71" y="60.88" width="2.36" height="2.70" fill="#7ac77b"/></g><g fill="#000"><rect x="24.01" y="40.31" width="0.55" height="1.4" opacity="0.6"/><rect x="26.32" y="40.31" width="0.55" height="1.4" opacity="0.6"/><rect x="28.63" y="40.31" width="0.55" height="1.4" opacity="0.6"/><rect x="30.94" y="40.31" width="0.55" height="1.4" opacity="0.6"/><rect x="37.88" y="40.31" width="0.55" height="1.4" opacity="0.6"/><rect x="40.19" y="40.31" width="0.55" height="1.4" opacity="0.6"/><rect x="42.50" y="40.31" width="0.55" height="1.4" opacity="0.6"/><rect x="47.12" y="40.31" width="0.55" height="1.4" opacity="0.6"/><rect x="49.43" y="40.31" width="0.55" height="1.4" opacity="0.6"/><rect x="51.74" y="40.31" width="0.55" height="1.4" opacity="0.6"/><rect x="56.37" y="40.31" width="0.55" height="1.4" opacity="0.6"/><rect x="58.68" y="40.31" width="0.55" height="1.4" opacity="0.6"/><rect x="63.30" y="40.31" width="0.55" height="1.4" opacity="0.6"/><rect x="67.92" y="40.31" width="0.55" height="1.4" opacity="0.6"/><rect x="24.01" y="42.95" width="0.55" height="1.4" opacity="0.6"/><rect x="26.32" y="42.95" width="0.55" height="1.4" opacity="0.6"/><rect x="28.63" y="42.95" width="0.55" height="1.4" opacity="0.6"/><rect x="30.94" y="42.95" width="0.55" height="1.4" opacity="0.6"/><rect x="33.25" y="42.95" width="0.55" height="1.4" opacity="0.6"/><rect x="35.57" y="42.95" width="0.55" height="1.4" opacity="0.6"/><rect x="37.88" y="42.95" width="0.55" height="1.4" opacity="0.6"/><rect x="40.19" y="42.95" width="0.55" height="1.4" opacity="0.6"/><rect x="42.50" y="42.95" width="0.55" height="1.4" opacity="0.6"/><rect x="44.81" y="42.95" width="0.55" height="1.4" opacity="0.6"/><rect x="47.12" y="42.95" width="0.55" height="1.4" opacity="0.6"/><rect x="49.43" y="42.95" width="0.55" height="1.4" opacity="0.6"/><rect x="51.74" y="42.95" width="0.55" height="1.4" opacity="0.6"/><rect x="54.05" y="42.95" width="0.55" height="1.4" opacity="0.6"/><rect x="58.68" y="42.95" width="0.55" height="1.4" opacity="0.6"/><rect x="60.99" y="42.95" width="0.55" height="1.4" opacity="0.6"/><rect x="63.30" y="42.95" width="0.55" height="1.4" opacity="0.6"/><rect x="65.61" y="42.95" width="0.55" height="1.4" opacity="0.6"/><rect x="67.92" y="42.95" width="0.55" height="1.4" opacity="0.6"/><rect x="70.23" y="42.95" width="0.55" height="1.4" opacity="0.6"/><rect x="72.54" y="42.95" width="0.55" height="1.4" opacity="0.6"/><rect x="84.10" y="42.95" width="0.55" height="1.4" opacity="0.6"/><rect x="14.77" y="45.60" width="0.55" height="1.4" opacity="0.6"/><rect x="24.01" y="45.60" width="0.55" height="1.4" opacity="0.6"/><rect x="26.32" y="45.60" width="0.55" height="1.4" opacity="0.6"/><rect x="28.63" y="45.60" width="0.55" height="1.4" opacity="0.6"/><rect x="30.94" y="45.60" width="0.55" height="1.4" opacity="0.6"/><rect x="33.25" y="45.60" width="0.55" height="1.4" opacity="0.6"/><rect x="35.57" y="45.60" width="0.55" height="1.4" opacity="0.6"/><rect x="37.88" y="45.60" width="0.55" height="1.4" opacity="0.6"/><rect x="40.19" y="45.60" width="0.55" height="1.4" opacity="0.6"/><rect x="47.12" y="45.60" width="0.55" height="1.4" opacity="0.6"/><rect x="49.43" y="45.60" width="0.55" height="1.4" opacity="0.6"/><rect x="51.74" y="45.60" width="0.55" height="1.4" opacity="0.6"/><rect x="54.05" y="45.60" width="0.55" height="1.4" opacity="0.6"/><rect x="56.37" y="45.60" width="0.55" height="1.4" opacity="0.6"/><rect x="58.68" y="45.60" width="0.55" height="1.4" opacity="0.6"/><rect x="60.99" y="45.60" width="0.55" height="1.4" opacity="0.6"/><rect x="63.30" y="45.60" width="0.55" height="1.4" opacity="0.6"/><rect x="65.61" y="45.60" width="0.55" height="1.4" opacity="0.6"/><rect x="67.92" y="45.60" width="0.55" height="1.4" opacity="0.6"/><rect x="72.54" y="45.60" width="0.55" height="1.4" opacity="0.6"/><rect x="79.48" y="45.60" width="0.55" height="1.4" opacity="0.6"/><rect x="81.79" y="45.60" width="0.55" height="1.4" opacity="0.6"/><rect x="86.41" y="45.60" width="0.55" height="1.4" opacity="0.6"/><rect x="21.70" y="48.25" width="0.55" height="1.4" opacity="0.6"/><rect x="24.01" y="48.25" width="0.55" height="1.4" opacity="0.6"/><rect x="28.63" y="48.25" width="0.55" height="1.4" opacity="0.6"/><rect x="30.94" y="48.25" width="0.55" height="1.4" opacity="0.6"/><rect x="33.25" y="48.25" width="0.55" height="1.4" opacity="0.6"/><rect x="35.57" y="48.25" width="0.55" height="1.4" opacity="0.6"/><rect x="37.88" y="48.25" width="0.55" height="1.4" opacity="0.6"/><rect x="42.50" y="48.25" width="0.55" height="1.4" opacity="0.6"/><rect x="44.81" y="48.25" width="0.55" height="1.4" opacity="0.6"/><rect x="49.43" y="48.25" width="0.55" height="1.4" opacity="0.6"/><rect x="51.74" y="48.25" width="0.55" height="1.4" opacity="0.6"/><rect x="54.05" y="48.25" width="0.55" height="1.4" opacity="0.6"/><rect x="56.37" y="48.25" width="0.55" height="1.4" opacity="0.6"/><rect x="60.99" y="48.25" width="0.55" height="1.4" opacity="0.6"/><rect x="63.30" y="48.25" width="0.55" height="1.4" opacity="0.6"/><rect x="65.61" y="48.25" width="0.55" height="1.4" opacity="0.6"/><rect x="67.92" y="48.25" width="0.55" height="1.4" opacity="0.6"/><rect x="70.23" y="48.25" width="0.55" height="1.4" opacity="0.6"/><rect x="72.54" y="48.25" width="0.55" height="1.4" opacity="0.6"/><rect x="79.48" y="48.25" width="0.55" height="1.4" opacity="0.6"/><rect x="12.46" y="50.89" width="0.55" height="1.4" opacity="0.6"/><rect x="17.08" y="50.89" width="0.55" height="1.4" opacity="0.6"/><rect x="21.70" y="50.89" width="0.55" height="1.4" opacity="0.6"/><rect x="24.01" y="50.89" width="0.55" height="1.4" opacity="0.6"/><rect x="26.32" y="50.89" width="0.55" height="1.4" opacity="0.6"/><rect x="28.63" y="50.89" width="0.55" height="1.4" opacity="0.6"/><rect x="30.94" y="50.89" width="0.55" height="1.4" opacity="0.6"/><rect x="35.57" y="50.89" width="0.55" height="1.4" opacity="0.6"/><rect x="37.88" y="50.89" width="0.55" height="1.4" opacity="0.6"/><rect x="40.19" y="50.89" width="0.55" height="1.4" opacity="0.6"/><rect x="42.50" y="50.89" width="0.55" height="1.4" opacity="0.6"/><rect x="44.81" y="50.89" width="0.55" height="1.4" opacity="0.6"/><rect x="47.12" y="50.89" width="0.55" height="1.4" opacity="0.6"/><rect x="49.43" y="50.89" width="0.55" height="1.4" opacity="0.6"/><rect x="51.74" y="50.89" width="0.55" height="1.4" opacity="0.6"/><rect x="56.37" y="50.89" width="0.55" height="1.4" opacity="0.6"/><rect x="58.68" y="50.89" width="0.55" height="1.4" opacity="0.6"/><rect x="60.99" y="50.89" width="0.55" height="1.4" opacity="0.6"/><rect x="63.30" y="50.89" width="0.55" height="1.4" opacity="0.6"/><rect x="67.92" y="50.89" width="0.55" height="1.4" opacity="0.6"/><rect x="74.85" y="50.89" width="0.55" height="1.4" opacity="0.6"/><rect x="86.41" y="50.89" width="0.55" height="1.4" opacity="0.6"/><rect x="12.46" y="53.54" width="0.55" height="1.4" opacity="0.6"/><rect x="17.08" y="53.54" width="0.55" height="1.4" opacity="0.6"/><rect x="26.32" y="53.54" width="0.55" height="1.4" opacity="0.6"/><rect x="30.94" y="53.54" width="0.55" height="1.4" opacity="0.6"/><rect x="35.57" y="53.54" width="0.55" height="1.4" opacity="0.6"/><rect x="40.19" y="53.54" width="0.55" height="1.4" opacity="0.6"/><rect x="42.50" y="53.54" width="0.55" height="1.4" opacity="0.6"/><rect x="44.81" y="53.54" width="0.55" height="1.4" opacity="0.6"/><rect x="47.12" y="53.54" width="0.55" height="1.4" opacity="0.6"/><rect x="49.43" y="53.54" width="0.55" height="1.4" opacity="0.6"/><rect x="51.74" y="53.54" width="0.55" height="1.4" opacity="0.6"/><rect x="54.05" y="53.54" width="0.55" height="1.4" opacity="0.6"/><rect x="58.68" y="53.54" width="0.55" height="1.4" opacity="0.6"/><rect x="60.99" y="53.54" width="0.55" height="1.4" opacity="0.6"/><rect x="65.61" y="53.54" width="0.55" height="1.4" opacity="0.6"/><rect x="70.23" y="53.54" width="0.55" height="1.4" opacity="0.6"/><rect x="72.54" y="53.54" width="0.55" height="1.4" opacity="0.6"/><rect x="74.85" y="53.54" width="0.55" height="1.4" opacity="0.6"/><rect x="81.79" y="53.54" width="0.55" height="1.4" opacity="0.6"/><rect x="84.10" y="53.54" width="0.55" height="1.4" opacity="0.6"/><rect x="19.39" y="56.19" width="0.55" height="1.4" opacity="0.6"/><rect x="24.01" y="56.19" width="0.55" height="1.4" opacity="0.6"/><rect x="28.63" y="56.19" width="0.55" height="1.4" opacity="0.6"/><rect x="47.12" y="56.19" width="0.55" height="1.4" opacity="0.6"/><rect x="54.05" y="56.19" width="0.55" height="1.4" opacity="0.6"/><rect x="60.99" y="56.19" width="0.55" height="1.4" opacity="0.6"/><rect x="63.30" y="56.19" width="0.55" height="1.4" opacity="0.6"/><rect x="77.16" y="56.19" width="0.55" height="1.4" opacity="0.6"/><rect x="81.79" y="56.19" width="0.55" height="1.4" opacity="0.6"/><rect x="86.41" y="56.19" width="0.55" height="1.4" opacity="0.6"/><rect x="12.46" y="58.84" width="0.55" height="1.4" opacity="0.6"/><rect x="35.57" y="58.84" width="0.55" height="1.4" opacity="0.6"/><rect x="74.85" y="58.84" width="0.55" height="1.4" opacity="0.6"/><rect x="60.99" y="61.48" width="0.55" height="1.4" opacity="0.6"/></g></svg>
<line x1="404.90" y1="189" x2="404.90" y2="191" stroke="#333" stroke-width="0.6"/>
<text x="404.90" y="197.50" font-size="7.6" text-anchor="middle" fill="#262626" font-weight="normal" textLength="4.07" lengthAdjust="spacingAndGlyphs" stroke="#262626" stroke-width="0.12">0</text>
<line x1="451.12" y1="189" x2="451.12" y2="191" stroke="#333" stroke-width="0.6"/>
<text x="451.12" y="197.50" font-size="7.6" text-anchor="middle" fill="#262626" font-weight="normal" textLength="8.91" lengthAdjust="spacingAndGlyphs" stroke="#262626" stroke-width="0.12">20</text>
<line x1="497.34" y1="189" x2="497.34" y2="191" stroke="#333" stroke-width="0.6"/>
<text x="497.34" y="197.50" font-size="7.6" text-anchor="middle" fill="#262626" font-weight="normal" textLength="8.91" lengthAdjust="spacingAndGlyphs" stroke="#262626" stroke-width="0.12">40</text>
<line x1="402.9" y1="117.00" x2="404.9" y2="117.00" stroke="#333" stroke-width="0.6"/>
<text x="401.90" y="119.50" font-size="7.6" text-anchor="end" fill="#262626" font-weight="normal" textLength="4.07" lengthAdjust="spacingAndGlyphs" stroke="#262626" stroke-width="0.12">0</text>
<line x1="402.9" y1="143.47" x2="404.9" y2="143.47" stroke="#333" stroke-width="0.6"/>
<text x="401.90" y="145.97" font-size="7.6" text-anchor="end" fill="#262626" font-weight="normal" textLength="8.91" lengthAdjust="spacingAndGlyphs" stroke="#262626" stroke-width="0.12">10</text>
<line x1="402.9" y1="169.94" x2="404.9" y2="169.94" stroke="#333" stroke-width="0.6"/>
<text x="401.90" y="172.44" font-size="7.6" text-anchor="end" fill="#262626" font-weight="normal" textLength="8.91" lengthAdjust="spacingAndGlyphs" stroke="#262626" stroke-width="0.12">20</text>
<text x="454.55" y="206.50" font-size="8.0" text-anchor="middle" fill="#262626" font-weight="normal" textLength="87.00" lengthAdjust="spacingAndGlyphs" stroke="#262626" stroke-width="0.12">Horizontal surface (px)</text>
<text x="390.30" y="153.00" font-size="8.0" text-anchor="middle" fill="#262626" font-weight="normal" textLength="76.50" lengthAdjust="spacingAndGlyphs" stroke="#262626" stroke-width="0.12" transform="rotate(-90 390.30 153.00)">Vertical surface (px)</text>
<rect x="510.80" y="117" width="4.3" height="72" fill="url(#cbc)" stroke="#555" stroke-width="0.3"/>
<line x1="515.10" y1="124.20" x2="516.90" y2="124.20" stroke="#333" stroke-width="0.6"/>
<text x="517.70" y="126.80" font-size="7.6" text-anchor="start" fill="#262626" font-weight="normal" textLength="4.07" lengthAdjust="spacingAndGlyphs" stroke="#262626" stroke-width="0.12">4</text>
<line x1="515.10" y1="138.60" x2="516.90" y2="138.60" stroke="#333" stroke-width="0.6"/>
<text x="517.70" y="141.20" font-size="7.6" text-anchor="start" fill="#262626" font-weight="normal" textLength="4.07" lengthAdjust="spacingAndGlyphs" stroke="#262626" stroke-width="0.12">2</text>
<line x1="515.10" y1="153.00" x2="516.90" y2="153.00" stroke="#333" stroke-width="0.6"/>
<text x="517.70" y="155.60" font-size="7.6" text-anchor="start" fill="#262626" font-weight="normal" textLength="4.07" lengthAdjust="spacingAndGlyphs" stroke="#262626" stroke-width="0.12">0</text>
<line x1="515.10" y1="167.40" x2="516.90" y2="167.40" stroke="#333" stroke-width="0.6"/>
<text x="517.70" y="170.00" font-size="7.6" text-anchor="start" fill="#262626" font-weight="normal" textLength="10.44" lengthAdjust="spacingAndGlyphs" stroke="#262626" stroke-width="0.12">−2</text>
<line x1="515.10" y1="181.80" x2="516.90" y2="181.80" stroke="#333" stroke-width="0.6"/>
<text x="517.70" y="184.40" font-size="7.6" text-anchor="start" fill="#262626" font-weight="normal" textLength="10.44" lengthAdjust="spacingAndGlyphs" stroke="#262626" stroke-width="0.12">−4</text>
<text x="535.10" y="153.50" font-size="8.0" text-anchor="middle" fill="#262626" font-weight="normal" textLength="35.00" lengthAdjust="spacingAndGlyphs" stroke="#262626" stroke-width="0.12" transform="rotate(-90 535.10 153.50)">v_x (px/f)</text>
<line x1="44.5" y1="218.60" x2="165.5" y2="218.60" stroke="#e8e8e8" stroke-width="0.7"/>
<line x1="44.5" y1="234.95" x2="165.5" y2="234.95" stroke="#e8e8e8" stroke-width="0.7"/>
<line x1="44.5" y1="251.30" x2="165.5" y2="251.30" stroke="#e8e8e8" stroke-width="0.7"/>
<line x1="44.5" y1="267.65" x2="165.5" y2="267.65" stroke="#e8e8e8" stroke-width="0.7"/>
<line x1="44.5" y1="284.00" x2="165.5" y2="284.00" stroke="#e8e8e8" stroke-width="0.7"/>
<polyline points="48.30,251.00 52.09,251.00 55.88,251.48 59.67,252.90 63.46,254.55 67.25,256.44 71.04,258.57 74.83,260.46 78.62,261.41 82.41,261.88 86.20,262.12 89.99,261.88 93.78,260.46 97.57,259.28 101.36,257.62 105.15,255.73 108.94,253.37 112.73,251.00 116.52,248.64 120.31,245.80 124.10,243.44 127.89,241.55 131.68,240.60 135.47,240.13 139.26,239.89 143.05,241.08 146.84,242.73 150.63,244.39 154.42,246.75 158.21,248.64 162.00,251.00" fill="none" stroke="#ffa500" stroke-width="0"/>
<circle cx="48.30" cy="251.00" r="1.55" fill="#ffa500"/>
<circle cx="52.09" cy="251.00" r="1.55" fill="#ffa500"/>
<circle cx="55.88" cy="251.48" r="1.55" fill="#ffa500"/>
<circle cx="59.67" cy="252.90" r="1.55" fill="#ffa500"/>
<circle cx="63.46" cy="254.55" r="1.55" fill="#ffa500"/>
<circle cx="67.25" cy="256.44" r="1.55" fill="#ffa500"/>
<circle cx="71.04" cy="258.57" r="1.55" fill="#ffa500"/>
<circle cx="74.83" cy="260.46" r="1.55" fill="#ffa500"/>
<circle cx="78.62" cy="261.41" r="1.55" fill="#ffa500"/>
<circle cx="82.41" cy="261.88" r="1.55" fill="#ffa500"/>
<circle cx="86.20" cy="262.12" r="1.55" fill="#ffa500"/>
<circle cx="89.99" cy="261.88" r="1.55" fill="#ffa500"/>
<circle cx="93.78" cy="260.46" r="1.55" fill="#ffa500"/>
<circle cx="97.57" cy="259.28" r="1.55" fill="#ffa500"/>
<circle cx="101.36" cy="257.62" r="1.55" fill="#ffa500"/>
<circle cx="105.15" cy="255.73" r="1.55" fill="#ffa500"/>
<circle cx="108.94" cy="253.37" r="1.55" fill="#ffa500"/>
<circle cx="112.73" cy="251.00" r="1.55" fill="#ffa500"/>
<circle cx="116.52" cy="248.64" r="1.55" fill="#ffa500"/>
<circle cx="120.31" cy="245.80" r="1.55" fill="#ffa500"/>
<circle cx="124.10" cy="243.44" r="1.55" fill="#ffa500"/>
<circle cx="127.89" cy="241.55" r="1.55" fill="#ffa500"/>
<circle cx="131.68" cy="240.60" r="1.55" fill="#ffa500"/>
<circle cx="135.47" cy="240.13" r="1.55" fill="#ffa500"/>
<circle cx="139.26" cy="239.89" r="1.55" fill="#ffa500"/>
<circle cx="143.05" cy="241.08" r="1.55" fill="#ffa500"/>
<circle cx="146.84" cy="242.73" r="1.55" fill="#ffa500"/>
<circle cx="150.63" cy="244.39" r="1.55" fill="#ffa500"/>
<circle cx="154.42" cy="246.75" r="1.55" fill="#ffa500"/>
<circle cx="158.21" cy="248.64" r="1.55" fill="#ffa500"/>
<circle cx="162.00" cy="251.00" r="1.55" fill="#ffa500"/>
<rect x="42.5" y="215.6" width="125" height="71.9" fill="none" stroke="#7a7a7a" stroke-width="0.8"/>
<line x1="48.30" y1="287.5" x2="48.30" y2="289.5" stroke="#333" stroke-width="0.6"/>
<text x="48.30" y="296.00" font-size="7.6" text-anchor="middle" fill="#262626" font-weight="normal" textLength="4.07" lengthAdjust="spacingAndGlyphs" stroke="#262626" stroke-width="0.12">0</text>
<line x1="71.04" y1="287.5" x2="71.04" y2="289.5" stroke="#333" stroke-width="0.6"/>
<text x="71.04" y="296.00" font-size="7.6" text-anchor="middle" fill="#262626" font-weight="normal" textLength="4.07" lengthAdjust="spacingAndGlyphs" stroke="#262626" stroke-width="0.12">2</text>
<line x1="93.78" y1="287.5" x2="93.78" y2="289.5" stroke="#333" stroke-width="0.6"/>
<text x="93.78" y="296.00" font-size="7.6" text-anchor="middle" fill="#262626" font-weight="normal" textLength="4.07" lengthAdjust="spacingAndGlyphs" stroke="#262626" stroke-width="0.12">4</text>
<line x1="116.52" y1="287.5" x2="116.52" y2="289.5" stroke="#333" stroke-width="0.6"/>
<text x="116.52" y="296.00" font-size="7.6" text-anchor="middle" fill="#262626" font-weight="normal" textLength="4.07" lengthAdjust="spacingAndGlyphs" stroke="#262626" stroke-width="0.12">6</text>
<line x1="139.26" y1="287.5" x2="139.26" y2="289.5" stroke="#333" stroke-width="0.6"/>
<text x="139.26" y="296.00" font-size="7.6" text-anchor="middle" fill="#262626" font-weight="normal" textLength="4.07" lengthAdjust="spacingAndGlyphs" stroke="#262626" stroke-width="0.12">8</text>
<line x1="162.00" y1="287.5" x2="162.00" y2="289.5" stroke="#333" stroke-width="0.6"/>
<text x="162.00" y="296.00" font-size="7.6" text-anchor="middle" fill="#262626" font-weight="normal" textLength="8.91" lengthAdjust="spacingAndGlyphs" stroke="#262626" stroke-width="0.12">10</text>
<line x1="40.5" y1="218.60" x2="42.5" y2="218.60" stroke="#333" stroke-width="0.6"/>
<text x="39.50" y="221.10" font-size="7.6" text-anchor="end" fill="#262626" font-weight="normal" textLength="8.91" lengthAdjust="spacingAndGlyphs" stroke="#262626" stroke-width="0.12">10</text>
<line x1="40.5" y1="234.95" x2="42.5" y2="234.95" stroke="#333" stroke-width="0.6"/>
<text x="39.50" y="237.45" font-size="7.6" text-anchor="end" fill="#262626" font-weight="normal" textLength="4.07" lengthAdjust="spacingAndGlyphs" stroke="#262626" stroke-width="0.12">5</text>
<line x1="40.5" y1="251.30" x2="42.5" y2="251.30" stroke="#333" stroke-width="0.6"/>
<text x="39.50" y="253.80" font-size="7.6" text-anchor="end" fill="#262626" font-weight="normal" textLength="4.07" lengthAdjust="spacingAndGlyphs" stroke="#262626" stroke-width="0.12">0</text>
<line x1="40.5" y1="267.65" x2="42.5" y2="267.65" stroke="#333" stroke-width="0.6"/>
<text x="39.50" y="270.15" font-size="7.6" text-anchor="end" fill="#262626" font-weight="normal" textLength="10.44" lengthAdjust="spacingAndGlyphs" stroke="#262626" stroke-width="0.12">−5</text>
<line x1="40.5" y1="284.00" x2="42.5" y2="284.00" stroke="#333" stroke-width="0.6"/>
<text x="39.50" y="286.50" font-size="7.6" text-anchor="end" fill="#262626" font-weight="normal" textLength="15.28" lengthAdjust="spacingAndGlyphs" stroke="#262626" stroke-width="0.12">−10</text>
<text x="105.00" y="305.00" font-size="8.0" text-anchor="middle" fill="#262626" font-weight="normal" textLength="92.00" lengthAdjust="spacingAndGlyphs" stroke="#262626" stroke-width="0.12">Horizontal surface (mm)</text>
<text x="22.10" y="250.50" font-size="8.0" text-anchor="middle" fill="#262626" font-weight="normal" textLength="64.00" lengthAdjust="spacingAndGlyphs" stroke="#262626" stroke-width="0.12" transform="rotate(-90 22.10 250.50)">Shear stress (Pa)</text>
<line x1="226.7" y1="218.60" x2="347.7" y2="218.60" stroke="#e8e8e8" stroke-width="0.7"/>
<line x1="226.7" y1="234.95" x2="347.7" y2="234.95" stroke="#e8e8e8" stroke-width="0.7"/>
<line x1="226.7" y1="251.30" x2="347.7" y2="251.30" stroke="#e8e8e8" stroke-width="0.7"/>
<line x1="226.7" y1="267.65" x2="347.7" y2="267.65" stroke="#e8e8e8" stroke-width="0.7"/>
<line x1="226.7" y1="284.00" x2="347.7" y2="284.00" stroke="#e8e8e8" stroke-width="0.7"/>
<polyline points="230.50,273.30 234.29,260.60 238.08,250.80 241.87,255.90 245.66,248.40 249.45,254.00 253.24,278.30 257.03,260.90 260.82,284.60 264.61,244.50 268.40,266.90 272.19,269.30 275.98,238.80 279.77,256.70 283.56,259.00 287.35,257.90 291.14,258.60 294.93,238.80 298.72,252.20 302.51,242.60 306.30,236.90 310.09,248.30 313.88,244.80 317.67,231.90 321.46,244.80 325.25,252.20 329.04,261.70 332.83,247.20 336.62,242.40 340.41,248.40 344.20,245.30" fill="none" stroke="#4169e1" stroke-width="0.9"/>
<circle cx="230.50" cy="273.30" r="1.55" fill="#4169e1"/>
<circle cx="234.29" cy="260.60" r="1.55" fill="#4169e1"/>
<circle cx="238.08" cy="250.80" r="1.55" fill="#4169e1"/>
<circle cx="241.87" cy="255.90" r="1.55" fill="#4169e1"/>
<circle cx="245.66" cy="248.40" r="1.55" fill="#4169e1"/>
<circle cx="249.45" cy="254.00" r="1.55" fill="#4169e1"/>
<circle cx="253.24" cy="278.30" r="1.55" fill="#4169e1"/>
<circle cx="257.03" cy="260.90" r="1.55" fill="#4169e1"/>
<circle cx="260.82" cy="284.60" r="1.55" fill="#4169e1"/>
<circle cx="264.61" cy="244.50" r="1.55" fill="#4169e1"/>
<circle cx="268.40" cy="266.90" r="1.55" fill="#4169e1"/>
<circle cx="272.19" cy="269.30" r="1.55" fill="#4169e1"/>
<circle cx="275.98" cy="238.80" r="1.55" fill="#4169e1"/>
<circle cx="279.77" cy="256.70" r="1.55" fill="#4169e1"/>
<circle cx="283.56" cy="259.00" r="1.55" fill="#4169e1"/>
<circle cx="287.35" cy="257.90" r="1.55" fill="#4169e1"/>
<circle cx="291.14" cy="258.60" r="1.55" fill="#4169e1"/>
<circle cx="294.93" cy="238.80" r="1.55" fill="#4169e1"/>
<circle cx="298.72" cy="252.20" r="1.55" fill="#4169e1"/>
<circle cx="302.51" cy="242.60" r="1.55" fill="#4169e1"/>
<circle cx="306.30" cy="236.90" r="1.55" fill="#4169e1"/>
<circle cx="310.09" cy="248.30" r="1.55" fill="#4169e1"/>
<circle cx="313.88" cy="244.80" r="1.55" fill="#4169e1"/>
<circle cx="317.67" cy="231.90" r="1.55" fill="#4169e1"/>
<circle cx="321.46" cy="244.80" r="1.55" fill="#4169e1"/>
<circle cx="325.25" cy="252.20" r="1.55" fill="#4169e1"/>
<circle cx="329.04" cy="261.70" r="1.55" fill="#4169e1"/>
<circle cx="332.83" cy="247.20" r="1.55" fill="#4169e1"/>
<circle cx="336.62" cy="242.40" r="1.55" fill="#4169e1"/>
<circle cx="340.41" cy="248.40" r="1.55" fill="#4169e1"/>
<circle cx="344.20" cy="245.30" r="1.55" fill="#4169e1"/>
<rect x="224.7" y="215.6" width="125" height="71.9" fill="none" stroke="#7a7a7a" stroke-width="0.8"/>
<line x1="230.50" y1="287.5" x2="230.50" y2="289.5" stroke="#333" stroke-width="0.6"/>
<text x="230.50" y="296.00" font-size="7.6" text-anchor="middle" fill="#262626" font-weight="normal" textLength="4.07" lengthAdjust="spacingAndGlyphs" stroke="#262626" stroke-width="0.12">0</text>
<line x1="253.24" y1="287.5" x2="253.24" y2="289.5" stroke="#333" stroke-width="0.6"/>
<text x="253.24" y="296.00" font-size="7.6" text-anchor="middle" fill="#262626" font-weight="normal" textLength="4.07" lengthAdjust="spacingAndGlyphs" stroke="#262626" stroke-width="0.12">2</text>
<line x1="275.98" y1="287.5" x2="275.98" y2="289.5" stroke="#333" stroke-width="0.6"/>
<text x="275.98" y="296.00" font-size="7.6" text-anchor="middle" fill="#262626" font-weight="normal" textLength="4.07" lengthAdjust="spacingAndGlyphs" stroke="#262626" stroke-width="0.12">4</text>
<line x1="298.72" y1="287.5" x2="298.72" y2="289.5" stroke="#333" stroke-width="0.6"/>
<text x="298.72" y="296.00" font-size="7.6" text-anchor="middle" fill="#262626" font-weight="normal" textLength="4.07" lengthAdjust="spacingAndGlyphs" stroke="#262626" stroke-width="0.12">6</text>
<line x1="321.46" y1="287.5" x2="321.46" y2="289.5" stroke="#333" stroke-width="0.6"/>
<text x="321.46" y="296.00" font-size="7.6" text-anchor="middle" fill="#262626" font-weight="normal" textLength="4.07" lengthAdjust="spacingAndGlyphs" stroke="#262626" stroke-width="0.12">8</text>
<line x1="344.20" y1="287.5" x2="344.20" y2="289.5" stroke="#333" stroke-width="0.6"/>
<text x="344.20" y="296.00" font-size="7.6" text-anchor="middle" fill="#262626" font-weight="normal" textLength="8.91" lengthAdjust="spacingAndGlyphs" stroke="#262626" stroke-width="0.12">10</text>
<line x1="222.7" y1="218.60" x2="224.7" y2="218.60" stroke="#333" stroke-width="0.6"/>
<text x="221.70" y="221.10" font-size="7.6" text-anchor="end" fill="#262626" font-weight="normal" textLength="8.91" lengthAdjust="spacingAndGlyphs" stroke="#262626" stroke-width="0.12">10</text>
<line x1="222.7" y1="234.95" x2="224.7" y2="234.95" stroke="#333" stroke-width="0.6"/>
<text x="221.70" y="237.45" font-size="7.6" text-anchor="end" fill="#262626" font-weight="normal" textLength="4.07" lengthAdjust="spacingAndGlyphs" stroke="#262626" stroke-width="0.12">5</text>
<line x1="222.7" y1="251.30" x2="224.7" y2="251.30" stroke="#333" stroke-width="0.6"/>
<text x="221.70" y="253.80" font-size="7.6" text-anchor="end" fill="#262626" font-weight="normal" textLength="4.07" lengthAdjust="spacingAndGlyphs" stroke="#262626" stroke-width="0.12">0</text>
<line x1="222.7" y1="267.65" x2="224.7" y2="267.65" stroke="#333" stroke-width="0.6"/>
<text x="221.70" y="270.15" font-size="7.6" text-anchor="end" fill="#262626" font-weight="normal" textLength="10.44" lengthAdjust="spacingAndGlyphs" stroke="#262626" stroke-width="0.12">−5</text>
<line x1="222.7" y1="284.00" x2="224.7" y2="284.00" stroke="#333" stroke-width="0.6"/>
<text x="221.70" y="286.50" font-size="7.6" text-anchor="end" fill="#262626" font-weight="normal" textLength="15.28" lengthAdjust="spacingAndGlyphs" stroke="#262626" stroke-width="0.12">−10</text>
<text x="287.20" y="305.00" font-size="8.0" text-anchor="middle" fill="#262626" font-weight="normal" textLength="92.00" lengthAdjust="spacingAndGlyphs" stroke="#262626" stroke-width="0.12">Horizontal surface (mm)</text>
<text x="204.30" y="250.50" font-size="8.0" text-anchor="middle" fill="#262626" font-weight="normal" textLength="64.00" lengthAdjust="spacingAndGlyphs" stroke="#262626" stroke-width="0.12" transform="rotate(-90 204.30 250.50)">Shear stress (Pa)</text>
<line x1="407.2" y1="218.60" x2="528.2" y2="218.60" stroke="#e8e8e8" stroke-width="0.7"/>
<line x1="407.2" y1="234.95" x2="528.2" y2="234.95" stroke="#e8e8e8" stroke-width="0.7"/>
<line x1="407.2" y1="251.30" x2="528.2" y2="251.30" stroke="#e8e8e8" stroke-width="0.7"/>
<line x1="407.2" y1="267.65" x2="528.2" y2="267.65" stroke="#e8e8e8" stroke-width="0.7"/>
<line x1="407.2" y1="284.00" x2="528.2" y2="284.00" stroke="#e8e8e8" stroke-width="0.7"/>
<polyline points="411.00,248.10 414.79,256.30 418.58,252.60 422.37,252.60 426.16,258.70 429.95,265.70 433.74,261.40 437.53,275.30 441.32,272.50 445.11,249.20 448.90,267.40 452.69,270.10 456.48,261.40 460.27,262.50 464.06,260.10 467.85,257.50 471.64,264.60 475.43,245.30 479.22,240.10 483.01,243.20 486.80,246.70 490.59,248.00 494.38,249.10 498.17,256.30 501.96,252.40 505.75,253.50 509.54,241.60 513.33,250.00 517.12,243.70 520.91,234.50 524.70,246.40" fill="none" stroke="#008000" stroke-width="0.9"/>
<circle cx="411.00" cy="248.10" r="1.55" fill="#008000"/>
<circle cx="414.79" cy="256.30" r="1.55" fill="#008000"/>
<circle cx="418.58" cy="252.60" r="1.55" fill="#008000"/>
<circle cx="422.37" cy="252.60" r="1.55" fill="#008000"/>
<circle cx="426.16" cy="258.70" r="1.55" fill="#008000"/>
<circle cx="429.95" cy="265.70" r="1.55" fill="#008000"/>
<circle cx="433.74" cy="261.40" r="1.55" fill="#008000"/>
<circle cx="437.53" cy="275.30" r="1.55" fill="#008000"/>
<circle cx="441.32" cy="272.50" r="1.55" fill="#008000"/>
<circle cx="445.11" cy="249.20" r="1.55" fill="#008000"/>
<circle cx="448.90" cy="267.40" r="1.55" fill="#008000"/>
<circle cx="452.69" cy="270.10" r="1.55" fill="#008000"/>
<circle cx="456.48" cy="261.40" r="1.55" fill="#008000"/>
<circle cx="460.27" cy="262.50" r="1.55" fill="#008000"/>
<circle cx="464.06" cy="260.10" r="1.55" fill="#008000"/>
<circle cx="467.85" cy="257.50" r="1.55" fill="#008000"/>
<circle cx="471.64" cy="264.60" r="1.55" fill="#008000"/>
<circle cx="475.43" cy="245.30" r="1.55" fill="#008000"/>
<circle cx="479.22" cy="240.10" r="1.55" fill="#008000"/>
<circle cx="483.01" cy="243.20" r="1.55" fill="#008000"/>
<circle cx="486.80" cy="246.70" r="1.55" fill="#008000"/>
<circle cx="490.59" cy="248.00" r="1.55" fill="#008000"/>
<circle cx="494.38" cy="249.10" r="1.55" fill="#008000"/>
<circle cx="498.17" cy="256.30" r="1.55" fill="#008000"/>
<circle cx="501.96" cy="252.40" r="1.55" fill="#008000"/>
<circle cx="505.75" cy="253.50" r="1.55" fill="#008000"/>
<circle cx="509.54" cy="241.60" r="1.55" fill="#008000"/>
<circle cx="513.33" cy="250.00" r="1.55" fill="#008000"/>
<circle cx="517.12" cy="243.70" r="1.55" fill="#008000"/>
<circle cx="520.91" cy="234.50" r="1.55" fill="#008000"/>
<circle cx="524.70" cy="246.40" r="1.55" fill="#008000"/>
<rect x="405.2" y="215.6" width="125" height="71.9" fill="none" stroke="#7a7a7a" stroke-width="0.8"/>
<line x1="411.00" y1="287.5" x2="411.00" y2="289.5" stroke="#333" stroke-width="0.6"/>
<text x="411.00" y="296.00" font-size="7.6" text-anchor="middle" fill="#262626" font-weight="normal" textLength="4.07" lengthAdjust="spacingAndGlyphs" stroke="#262626" stroke-width="0.12">0</text>
<line x1="433.74" y1="287.5" x2="433.74" y2="289.5" stroke="#333" stroke-width="0.6"/>
<text x="433.74" y="296.00" font-size="7.6" text-anchor="middle" fill="#262626" font-weight="normal" textLength="4.07" lengthAdjust="spacingAndGlyphs" stroke="#262626" stroke-width="0.12">2</text>
<line x1="456.48" y1="287.5" x2="456.48" y2="289.5" stroke="#333" stroke-width="0.6"/>
<text x="456.48" y="296.00" font-size="7.6" text-anchor="middle" fill="#262626" font-weight="normal" textLength="4.07" lengthAdjust="spacingAndGlyphs" stroke="#262626" stroke-width="0.12">4</text>
<line x1="479.22" y1="287.5" x2="479.22" y2="289.5" stroke="#333" stroke-width="0.6"/>
<text x="479.22" y="296.00" font-size="7.6" text-anchor="middle" fill="#262626" font-weight="normal" textLength="4.07" lengthAdjust="spacingAndGlyphs" stroke="#262626" stroke-width="0.12">6</text>
<line x1="501.96" y1="287.5" x2="501.96" y2="289.5" stroke="#333" stroke-width="0.6"/>
<text x="501.96" y="296.00" font-size="7.6" text-anchor="middle" fill="#262626" font-weight="normal" textLength="4.07" lengthAdjust="spacingAndGlyphs" stroke="#262626" stroke-width="0.12">8</text>
<line x1="524.70" y1="287.5" x2="524.70" y2="289.5" stroke="#333" stroke-width="0.6"/>
<text x="524.70" y="296.00" font-size="7.6" text-anchor="middle" fill="#262626" font-weight="normal" textLength="8.91" lengthAdjust="spacingAndGlyphs" stroke="#262626" stroke-width="0.12">10</text>
<line x1="403.2" y1="218.60" x2="405.2" y2="218.60" stroke="#333" stroke-width="0.6"/>
<text x="402.20" y="221.10" font-size="7.6" text-anchor="end" fill="#262626" font-weight="normal" textLength="8.91" lengthAdjust="spacingAndGlyphs" stroke="#262626" stroke-width="0.12">10</text>
<line x1="403.2" y1="234.95" x2="405.2" y2="234.95" stroke="#333" stroke-width="0.6"/>
<text x="402.20" y="237.45" font-size="7.6" text-anchor="end" fill="#262626" font-weight="normal" textLength="4.07" lengthAdjust="spacingAndGlyphs" stroke="#262626" stroke-width="0.12">5</text>
<line x1="403.2" y1="251.30" x2="405.2" y2="251.30" stroke="#333" stroke-width="0.6"/>
<text x="402.20" y="253.80" font-size="7.6" text-anchor="end" fill="#262626" font-weight="normal" textLength="4.07" lengthAdjust="spacingAndGlyphs" stroke="#262626" stroke-width="0.12">0</text>
<line x1="403.2" y1="267.65" x2="405.2" y2="267.65" stroke="#333" stroke-width="0.6"/>
<text x="402.20" y="270.15" font-size="7.6" text-anchor="end" fill="#262626" font-weight="normal" textLength="10.44" lengthAdjust="spacingAndGlyphs" stroke="#262626" stroke-width="0.12">−5</text>
<line x1="403.2" y1="284.00" x2="405.2" y2="284.00" stroke="#333" stroke-width="0.6"/>
<text x="402.20" y="286.50" font-size="7.6" text-anchor="end" fill="#262626" font-weight="normal" textLength="15.28" lengthAdjust="spacingAndGlyphs" stroke="#262626" stroke-width="0.12">−10</text>
<text x="467.70" y="305.00" font-size="8.0" text-anchor="middle" fill="#262626" font-weight="normal" textLength="92.00" lengthAdjust="spacingAndGlyphs" stroke="#262626" stroke-width="0.12">Horizontal surface (mm)</text>
<text x="384.80" y="250.50" font-size="8.0" text-anchor="middle" fill="#262626" font-weight="normal" textLength="64.00" lengthAdjust="spacingAndGlyphs" stroke="#262626" stroke-width="0.12" transform="rotate(-90 384.80 250.50)">Shear stress (Pa)</text>
<svg x="207" y="327.7" width="170.60000000000002" height="126.69999999999999" viewBox="207 327.7 170.60000000000002 126.69999999999999">
<line x1="207" y1="437.50" x2="377.6" y2="437.50" stroke="#ebebeb" stroke-width="0.6"/>
<line x1="207" y1="420.60" x2="377.6" y2="420.60" stroke="#ebebeb" stroke-width="0.6"/>
<line x1="207" y1="403.70" x2="377.6" y2="403.70" stroke="#ebebeb" stroke-width="0.6"/>
<line x1="207" y1="386.80" x2="377.6" y2="386.80" stroke="#ebebeb" stroke-width="0.6"/>
<line x1="207" y1="369.90" x2="377.6" y2="369.90" stroke="#ebebeb" stroke-width="0.6"/>
<line x1="207" y1="353.00" x2="377.6" y2="353.00" stroke="#ebebeb" stroke-width="0.6"/>
<line x1="207" y1="336.10" x2="377.6" y2="336.10" stroke="#ebebeb" stroke-width="0.6"/>
<rect x="246.10" y="361.11" width="10.50" height="93.29" fill="#ffa500" fill-opacity="0.4"/>
<rect x="256.60" y="382.07" width="10.50" height="72.33" fill="#ffa500" fill-opacity="0.4"/>
<rect x="267.10" y="333.73" width="10.60" height="120.67" fill="#ffa500" fill-opacity="0.4"/>
<rect x="247.00" y="386.12" width="13.00" height="68.28" fill="#4169e1" fill-opacity="0.4"/>
<rect x="260.00" y="363.14" width="13.00" height="91.26" fill="#4169e1" fill-opacity="0.4"/>
<rect x="273.00" y="424.32" width="13.00" height="30.08" fill="#4169e1" fill-opacity="0.4"/>
<rect x="286.00" y="439.53" width="13.00" height="14.87" fill="#4169e1" fill-opacity="0.4"/>
<rect x="299.00" y="439.53" width="13.00" height="14.87" fill="#4169e1" fill-opacity="0.4"/>
<rect x="312.00" y="447.10" width="13.00" height="7.30" fill="#4169e1" fill-opacity="0.4"/>
<rect x="325.00" y="447.10" width="13.00" height="7.30" fill="#4169e1" fill-opacity="0.4"/>
<rect x="248.90" y="353.00" width="12.80" height="101.40" fill="#32cd32" fill-opacity="0.4"/>
<rect x="261.70" y="391.87" width="12.80" height="62.53" fill="#32cd32" fill-opacity="0.4"/>
<rect x="274.50" y="415.87" width="12.80" height="38.53" fill="#32cd32" fill-opacity="0.4"/>
<rect x="287.30" y="431.08" width="12.80" height="23.32" fill="#32cd32" fill-opacity="0.4"/>
<rect x="300.10" y="439.53" width="12.80" height="14.87" fill="#32cd32" fill-opacity="0.4"/>
<polyline points="207.60,454.40 208.03,454.40 208.46,454.40 208.88,454.40 209.31,454.40 209.74,454.40 210.17,454.40 210.59,454.40 211.02,454.40 211.45,454.40 211.88,454.40 212.30,454.40 212.73,454.40 213.16,454.40 213.59,454.40 214.01,454.40 214.44,454.40 214.87,454.40 215.30,454.40 215.72,454.40 216.15,454.40 216.58,454.40 217.01,454.40 217.43,454.40 217.86,454.40 218.29,454.39 218.72,454.39 219.14,454.39 219.57,454.39 220.00,454.39 220.43,454.38 220.85,454.38 221.28,454.37 221.71,454.36 222.14,454.36 222.56,454.35 222.99,454.33 223.42,454.32 223.85,454.30 224.27,454.28 224.70,454.25 225.13,454.21 225.56,454.18 225.98,454.13 226.41,454.07 226.84,454.01 227.26,453.93 227.69,453.84 228.12,453.73 228.55,453.61 228.97,453.46 229.40,453.29 229.83,453.10 230.26,452.88 230.68,452.62 231.11,452.33 231.54,452.00 231.97,451.63 232.39,451.20 232.82,450.73 233.25,450.19 233.68,449.60 234.10,448.94 234.53,448.20 234.96,447.40 235.39,446.51 235.81,445.53 236.24,444.47 236.67,443.32 237.10,442.07 237.52,440.72 237.95,439.28 238.38,437.74 238.81,436.09 239.23,434.35 239.66,432.52 240.09,430.59 240.52,428.58 240.94,426.48 241.37,424.32 241.80,422.08 242.23,419.79 242.65,417.45 243.08,415.08 243.51,412.69 243.94,410.29 244.36,407.90 244.79,405.53 245.22,403.20 245.65,400.92 246.07,398.71 246.50,396.59 246.93,394.57 247.36,392.66 247.78,390.87 248.21,389.23 248.64,387.73 249.07,386.39 249.49,385.22 249.92,384.21 250.35,383.37 250.78,382.70 251.20,382.20 251.63,381.86 252.06,381.68 252.49,381.65 252.91,381.75 253.34,381.97 253.77,382.30 254.20,382.71 254.62,383.20 255.05,383.73 255.48,384.30 255.91,384.88 256.33,385.45 256.76,385.98 257.19,386.47 257.62,386.89 258.04,387.23 258.47,387.47 258.90,387.59 259.33,387.59 259.75,387.46 260.18,387.19 260.61,386.78 261.04,386.24 261.46,385.56 261.89,384.75 262.32,383.82 262.75,382.78 263.17,381.64 263.60,380.44 264.03,379.17 264.46,377.87 264.88,376.55 265.31,375.24 265.74,373.96 266.17,372.72 266.59,371.56 267.02,370.48 267.45,369.50 267.88,368.62 268.30,367.84 268.73,367.14 269.16,366.51 269.59,365.91 270.01,365.31 270.44,364.66 270.87,363.94 271.29,363.10 271.72,362.16 272.15,361.13 272.58,360.07 273.00,359.09 273.43,358.30 273.86,357.86 274.29,357.93 274.71,358.65 275.14,360.16 275.57,362.50 276.00,365.71 276.42,369.72 276.85,374.42 277.28,379.66 277.71,385.24 278.13,390.97 278.56,396.67 278.99,402.19 279.42,407.39 279.84,412.21 280.27,416.59 280.70,420.55 281.13,424.08 281.55,427.23 281.98,430.04 282.41,432.54 282.84,434.79 283.26,436.82 283.69,438.66 284.12,440.32 284.55,441.84 284.97,443.21 285.40,444.47 285.83,445.61 286.26,446.64 286.68,447.57 287.11,448.41 287.54,449.17 287.97,449.84 288.39,450.44 288.82,450.97 289.25,451.45 289.68,451.86 290.10,452.22 290.53,452.54 290.96,452.82 291.39,453.06 291.81,453.27 292.24,453.44 292.67,453.60 293.10,453.73 293.52,453.84 293.95,453.93 294.38,454.01 294.81,454.08 295.23,454.14 295.66,454.18 296.09,454.22 296.52,454.26 296.94,454.28 297.37,454.31 297.80,454.32 298.23,454.34 298.65,454.35 299.08,454.36 299.51,454.37 299.94,454.38 300.36,454.38 300.79,454.38 301.22,454.39 301.65,454.39 302.07,454.39 302.50,454.39 302.93,454.40 303.36,454.40 303.78,454.40 304.21,454.40 304.64,454.40 305.07,454.40 305.49,454.40 305.92,454.40 306.35,454.40 306.78,454.40 307.20,454.40 307.63,454.40 308.06,454.40 308.49,454.40 308.91,454.40 309.34,454.40 309.77,454.40 310.20,454.40 310.62,454.40 311.05,454.40 311.48,454.40 311.91,454.40 312.33,454.40 312.76,454.40 313.19,454.40 313.62,454.40 314.04,454.40 314.47,454.40 314.90,454.40 315.32,454.40 315.75,454.40 316.18,454.40 316.61,454.40 317.03,454.40 317.46,454.40 317.89,454.40 318.32,454.40 318.74,454.40 319.17,454.40 319.60,454.40 320.03,454.40 320.45,454.40 320.88,454.40 321.31,454.40 321.74,454.40 322.16,454.40 322.59,454.40 323.02,454.40 323.45,454.40 323.87,454.40 324.30,454.40 324.73,454.40 325.16,454.40 325.58,454.40 326.01,454.40 326.44,454.40 326.87,454.40 327.29,454.40 327.72,454.40 328.15,454.40 328.58,454.40 329.00,454.40 329.43,454.40 329.86,454.40 330.29,454.40 330.71,454.40 331.14,454.40 331.57,454.40 332.00,454.40 332.42,454.40 332.85,454.40 333.28,454.40 333.71,454.40 334.13,454.40 334.56,454.40 334.99,454.40 335.42,454.40 335.84,454.40 336.27,454.40 336.70,454.40 337.13,454.40 337.55,454.40 337.98,454.40 338.41,454.40 338.84,454.40 339.26,454.40 339.69,454.40 340.12,454.40 340.55,454.40 340.97,454.40 341.40,454.40 341.83,454.40 342.26,454.40 342.68,454.40 343.11,454.40 343.54,454.40 343.97,454.40 344.39,454.40 344.82,454.40 345.25,454.40 345.68,454.40 346.10,454.40 346.53,454.40 346.96,454.40 347.39,454.40 347.81,454.40 348.24,454.40 348.67,454.40 349.10,454.40 349.52,454.40 349.95,454.40 350.38,454.40 350.81,454.40 351.23,454.40 351.66,454.40 352.09,454.40 352.52,454.40 352.94,454.40 353.37,454.40 353.80,454.40 354.23,454.40 354.65,454.40 355.08,454.40 355.51,454.40 355.94,454.40 356.36,454.40 356.79,454.40 357.22,454.40 357.65,454.40 358.07,454.40 358.50,454.40 358.93,454.40 359.36,454.40 359.78,454.40 360.21,454.40 360.64,454.40 361.06,454.40 361.49,454.40 361.92,454.40 362.35,454.40 362.77,454.40 363.20,454.40 363.63,454.40 364.06,454.40 364.48,454.40 364.91,454.40 365.34,454.40 365.77,454.40 366.19,454.40 366.62,454.40 367.05,454.40 367.48,454.40 367.90,454.40 368.33,454.40 368.76,454.40 369.19,454.40 369.61,454.40 370.04,454.40 370.47,454.40 370.90,454.40 371.32,454.40 371.75,454.40 372.18,454.40 372.61,454.40 373.03,454.40 373.46,454.40 373.89,454.40 374.32,454.40 374.74,454.40 375.17,454.40 375.60,454.40 376.03,454.40 376.45,454.40 376.88,454.40 377.31,454.40 377.74,454.40 378.16,454.40" fill="none" stroke="#ffa500" stroke-width="1.1"/>
<polyline points="207.60,454.38 208.03,454.38 208.46,454.38 208.88,454.37 209.31,454.37 209.74,454.37 210.17,454.36 210.59,454.36 211.02,454.35 211.45,454.34 211.88,454.34 212.30,454.33 212.73,454.32 213.16,454.31 213.59,454.30 214.01,454.29 214.44,454.27 214.87,454.26 215.30,454.24 215.72,454.22 216.15,454.20 216.58,454.18 217.01,454.15 217.43,454.13 217.86,454.10 218.29,454.06 218.72,454.03 219.14,453.99 219.57,453.94 220.00,453.90 220.43,453.84 220.85,453.79 221.28,453.72 221.71,453.65 222.14,453.58 222.56,453.50 222.99,453.41 223.42,453.32 223.85,453.21 224.27,453.10 224.70,452.98 225.13,452.85 225.56,452.71 225.98,452.56 226.41,452.40 226.84,452.22 227.26,452.04 227.69,451.83 228.12,451.62 228.55,451.39 228.97,451.14 229.40,450.88 229.83,450.60 230.26,450.30 230.68,449.99 231.11,449.65 231.54,449.29 231.97,448.92 232.39,448.52 232.82,448.09 233.25,447.65 233.68,447.18 234.10,446.68 234.53,446.16 234.96,445.62 235.39,445.05 235.81,444.45 236.24,443.82 236.67,443.16 237.10,442.48 237.52,441.77 237.95,441.03 238.38,440.26 238.81,439.46 239.23,438.63 239.66,437.77 240.09,436.89 240.52,435.97 240.94,435.03 241.37,434.06 241.80,433.07 242.23,432.05 242.65,431.00 243.08,429.93 243.51,428.83 243.94,427.72 244.36,426.58 244.79,425.43 245.22,424.26 245.65,423.07 246.07,421.87 246.50,420.65 246.93,419.43 247.36,418.20 247.78,416.96 248.21,415.72 248.64,414.48 249.07,413.24 249.49,412.01 249.92,410.78 250.35,409.56 250.78,408.36 251.20,407.16 251.63,405.99 252.06,404.84 252.49,403.71 252.91,402.60 253.34,401.52 253.77,400.48 254.20,399.47 254.62,398.49 255.05,397.55 255.48,396.65 255.91,395.80 256.33,394.99 256.76,394.22 257.19,393.51 257.62,392.84 258.04,392.23 258.47,391.67 258.90,391.17 259.33,390.72 259.75,390.33 260.18,389.99 260.61,389.71 261.04,389.49 261.46,389.33 261.89,389.23 262.32,389.18 262.75,389.19 263.17,389.26 263.60,389.38 264.03,389.56 264.46,389.79 264.88,390.08 265.31,390.41 265.74,390.79 266.17,391.22 266.59,391.70 267.02,392.22 267.45,392.78 267.88,393.37 268.30,394.01 268.73,394.68 269.16,395.38 269.59,396.10 270.01,396.86 270.44,397.64 270.87,398.44 271.29,399.25 271.72,400.09 272.15,400.93 272.58,401.79 273.00,402.66 273.43,403.53 273.86,404.40 274.29,405.28 274.71,406.15 275.14,407.02 275.57,407.89 276.00,408.75 276.42,409.60 276.85,410.44 277.28,411.27 277.71,412.08 278.13,412.88 278.56,413.66 278.99,414.43 279.42,415.17 279.84,415.90 280.27,416.61 280.70,417.30 281.13,417.97 281.55,418.62 281.98,419.25 282.41,419.86 282.84,420.45 283.26,421.02 283.69,421.57 284.12,422.10 284.55,422.61 284.97,423.11 285.40,423.58 285.83,424.04 286.26,424.48 286.68,424.91 287.11,425.32 287.54,425.72 287.97,426.11 288.39,426.48 288.82,426.84 289.25,427.20 289.68,427.54 290.10,427.88 290.53,428.21 290.96,428.53 291.39,428.85 291.81,429.16 292.24,429.47 292.67,429.78 293.10,430.09 293.52,430.39 293.95,430.70 294.38,431.00 294.81,431.31 295.23,431.61 295.66,431.92 296.09,432.23 296.52,432.54 296.94,432.86 297.37,433.17 297.80,433.50 298.23,433.82 298.65,434.15 299.08,434.48 299.51,434.81 299.94,435.15 300.36,435.49 300.79,435.83 301.22,436.18 301.65,436.53 302.07,436.88 302.50,437.23 302.93,437.59 303.36,437.94 303.78,438.30 304.21,438.65 304.64,439.01 305.07,439.37 305.49,439.72 305.92,440.07 306.35,440.42 306.78,440.77 307.20,441.11 307.63,441.45 308.06,441.79 308.49,442.12 308.91,442.44 309.34,442.76 309.77,443.07 310.20,443.37 310.62,443.67 311.05,443.96 311.48,444.24 311.91,444.51 312.33,444.78 312.76,445.03 313.19,445.28 313.62,445.51 314.04,445.73 314.47,445.95 314.90,446.15 315.32,446.35 315.75,446.53 316.18,446.70 316.61,446.86 317.03,447.01 317.46,447.15 317.89,447.29 318.32,447.41 318.74,447.52 319.17,447.62 319.60,447.71 320.03,447.80 320.45,447.87 320.88,447.94 321.31,448.00 321.74,448.06 322.16,448.10 322.59,448.15 323.02,448.18 323.45,448.21 323.87,448.24 324.30,448.27 324.73,448.29 325.16,448.31 325.58,448.32 326.01,448.34 326.44,448.36 326.87,448.37 327.29,448.39 327.72,448.41 328.15,448.43 328.58,448.45 329.00,448.47 329.43,448.50 329.86,448.53 330.29,448.56 330.71,448.60 331.14,448.65 331.57,448.69 332.00,448.74 332.42,448.80 332.85,448.86 333.28,448.93 333.71,449.00 334.13,449.08 334.56,449.16 334.99,449.25 335.42,449.34 335.84,449.44 336.27,449.54 336.70,449.65 337.13,449.75 337.55,449.87 337.98,449.98 338.41,450.10 338.84,450.22 339.26,450.35 339.69,450.47 340.12,450.60 340.55,450.73 340.97,450.86 341.40,450.99 341.83,451.12 342.26,451.25 342.68,451.38 343.11,451.51 343.54,451.64 343.97,451.76 344.39,451.89 344.82,452.01 345.25,452.13 345.68,452.24 346.10,452.36 346.53,452.47 346.96,452.57 347.39,452.68 347.81,452.78 348.24,452.88 348.67,452.97 349.10,453.06 349.52,453.15 349.95,453.23 350.38,453.31 350.81,453.38 351.23,453.46 351.66,453.52 352.09,453.59 352.52,453.65 352.94,453.71 353.37,453.76 353.80,453.81 354.23,453.86 354.65,453.90 355.08,453.94 355.51,453.98 355.94,454.02 356.36,454.05 356.79,454.08 357.22,454.11 357.65,454.14 358.07,454.16 358.50,454.19 358.93,454.21 359.36,454.23 359.78,454.24 360.21,454.26 360.64,454.27 361.06,454.29 361.49,454.30 361.92,454.31 362.35,454.32 362.77,454.33 363.20,454.34 363.63,454.34 364.06,454.35 364.48,454.36 364.91,454.36 365.34,454.37 365.77,454.37 366.19,454.37 366.62,454.38 367.05,454.38 367.48,454.38 367.90,454.38 368.33,454.39 368.76,454.39 369.19,454.39 369.61,454.39 370.04,454.39 370.47,454.39 370.90,454.39 371.32,454.39 371.75,454.40 372.18,454.40 372.61,454.40 373.03,454.40 373.46,454.40 373.89,454.40 374.32,454.40 374.74,454.40 375.17,454.40 375.60,454.40 376.03,454.40 376.45,454.40 376.88,454.40 377.31,454.40 377.74,454.40 378.16,454.40" fill="none" stroke="#4169e1" stroke-width="1.1"/>
<polyline points="207.60,454.38 208.03,454.38 208.46,454.38 208.88,454.37 209.31,454.37 209.74,454.37 210.17,454.36 210.59,454.36 211.02,454.36 211.45,454.35 211.88,454.35 212.30,454.34 212.73,454.33 213.16,454.33 213.59,454.32 214.01,454.31 214.44,454.30 214.87,454.29 215.30,454.28 215.72,454.26 216.15,454.25 216.58,454.23 217.01,454.21 217.43,454.19 217.86,454.17 218.29,454.14 218.72,454.11 219.14,454.08 219.57,454.05 220.00,454.01 220.43,453.96 220.85,453.92 221.28,453.86 221.71,453.81 222.14,453.74 222.56,453.67 222.99,453.59 223.42,453.51 223.85,453.41 224.27,453.31 224.70,453.20 225.13,453.08 225.56,452.94 225.98,452.79 226.41,452.63 226.84,452.46 227.26,452.27 227.69,452.06 228.12,451.83 228.55,451.59 228.97,451.33 229.40,451.04 229.83,450.73 230.26,450.40 230.68,450.05 231.11,449.66 231.54,449.25 231.97,448.81 232.39,448.34 232.82,447.84 233.25,447.30 233.68,446.73 234.10,446.12 234.53,445.48 234.96,444.80 235.39,444.08 235.81,443.32 236.24,442.52 236.67,441.67 237.10,440.79 237.52,439.86 237.95,438.89 238.38,437.88 238.81,436.82 239.23,435.73 239.66,434.58 240.09,433.40 240.52,432.18 240.94,430.92 241.37,429.62 241.80,428.28 242.23,426.91 242.65,425.50 243.08,424.06 243.51,422.60 243.94,421.11 244.36,419.60 244.79,418.07 245.22,416.52 245.65,414.96 246.07,413.39 246.50,411.82 246.93,410.24 247.36,408.67 247.78,407.11 248.21,405.56 248.64,404.03 249.07,402.52 249.49,401.04 249.92,399.58 250.35,398.16 250.78,396.78 251.20,395.45 251.63,394.16 252.06,392.92 252.49,391.74 252.91,390.62 253.34,389.56 253.77,388.57 254.20,387.65 254.62,386.79 255.05,386.01 255.48,385.31 255.91,384.68 256.33,384.13 256.76,383.67 257.19,383.28 257.62,382.96 258.04,382.73 258.47,382.58 258.90,382.51 259.33,382.51 259.75,382.59 260.18,382.74 260.61,382.96 261.04,383.25 261.46,383.61 261.89,384.03 262.32,384.51 262.75,385.04 263.17,385.63 263.60,386.27 264.03,386.95 264.46,387.67 264.88,388.43 265.31,389.23 265.74,390.05 266.17,390.90 266.59,391.77 267.02,392.66 267.45,393.56 267.88,394.47 268.30,395.39 268.73,396.31 269.16,397.24 269.59,398.16 270.01,399.08 270.44,399.98 270.87,400.88 271.29,401.77 271.72,402.64 272.15,403.49 272.58,404.33 273.00,405.15 273.43,405.95 273.86,406.73 274.29,407.49 274.71,408.22 275.14,408.94 275.57,409.63 276.00,410.30 276.42,410.95 276.85,411.58 277.28,412.19 277.71,412.77 278.13,413.34 278.56,413.89 278.99,414.42 279.42,414.94 279.84,415.43 280.27,415.92 280.70,416.39 281.13,416.85 281.55,417.29 281.98,417.73 282.41,418.16 282.84,418.58 283.26,418.99 283.69,419.40 284.12,419.80 284.55,420.20 284.97,420.60 285.40,420.99 285.83,421.38 286.26,421.77 286.68,422.17 287.11,422.56 287.54,422.95 287.97,423.35 288.39,423.75 288.82,424.15 289.25,424.55 289.68,424.96 290.10,425.37 290.53,425.78 290.96,426.20 291.39,426.62 291.81,427.05 292.24,427.48 292.67,427.91 293.10,428.35 293.52,428.79 293.95,429.23 294.38,429.68 294.81,430.13 295.23,430.58 295.66,431.04 296.09,431.49 296.52,431.95 296.94,432.41 297.37,432.87 297.80,433.33 298.23,433.79 298.65,434.25 299.08,434.71 299.51,435.17 299.94,435.63 300.36,436.08 300.79,436.54 301.22,436.99 301.65,437.44 302.07,437.88 302.50,438.33 302.93,438.77 303.36,439.20 303.78,439.63 304.21,440.05 304.64,440.47 305.07,440.89 305.49,441.30 305.92,441.70 306.35,442.10 306.78,442.49 307.20,442.88 307.63,443.25 308.06,443.62 308.49,443.99 308.91,444.35 309.34,444.70 309.77,445.04 310.20,445.37 310.62,445.70 311.05,446.02 311.48,446.34 311.91,446.64 312.33,446.94 312.76,447.23 313.19,447.51 313.62,447.79 314.04,448.05 314.47,448.31 314.90,448.56 315.32,448.81 315.75,449.04 316.18,449.27 316.61,449.50 317.03,449.71 317.46,449.92 317.89,450.12 318.32,450.31 318.74,450.50 319.17,450.68 319.60,450.86 320.03,451.02 320.45,451.19 320.88,451.34 321.31,451.49 321.74,451.63 322.16,451.77 322.59,451.90 323.02,452.03 323.45,452.15 323.87,452.27 324.30,452.38 324.73,452.49 325.16,452.59 325.58,452.69 326.01,452.78 326.44,452.87 326.87,452.95 327.29,453.03 327.72,453.11 328.15,453.18 328.58,453.25 329.00,453.32 329.43,453.38 329.86,453.44 330.29,453.50 330.71,453.55 331.14,453.60 331.57,453.65 332.00,453.70 332.42,453.74 332.85,453.78 333.28,453.82 333.71,453.86 334.13,453.89 334.56,453.93 334.99,453.96 335.42,453.98 335.84,454.01 336.27,454.04 336.70,454.06 337.13,454.08 337.55,454.11 337.98,454.13 338.41,454.14 338.84,454.16 339.26,454.18 339.69,454.19 340.12,454.21 340.55,454.22 340.97,454.24 341.40,454.25 341.83,454.26 342.26,454.27 342.68,454.28 343.11,454.29 343.54,454.30 343.97,454.30 344.39,454.31 344.82,454.32 345.25,454.32 345.68,454.33 346.10,454.34 346.53,454.34 346.96,454.34 347.39,454.35 347.81,454.35 348.24,454.36 348.67,454.36 349.10,454.36 349.52,454.37 349.95,454.37 350.38,454.37 350.81,454.37 351.23,454.38 351.66,454.38 352.09,454.38 352.52,454.38 352.94,454.38 353.37,454.38 353.80,454.39 354.23,454.39 354.65,454.39 355.08,454.39 355.51,454.39 355.94,454.39 356.36,454.39 356.79,454.39 357.22,454.39 357.65,454.39 358.07,454.39 358.50,454.39 358.93,454.40 359.36,454.40 359.78,454.40 360.21,454.40 360.64,454.40 361.06,454.40 361.49,454.40 361.92,454.40 362.35,454.40 362.77,454.40 363.20,454.40 363.63,454.40 364.06,454.40 364.48,454.40 364.91,454.40 365.34,454.40 365.77,454.40 366.19,454.40 366.62,454.40 367.05,454.40 367.48,454.40 367.90,454.40 368.33,454.40 368.76,454.40 369.19,454.40 369.61,454.40 370.04,454.40 370.47,454.40 370.90,454.40 371.32,454.40 371.75,454.40 372.18,454.40 372.61,454.40 373.03,454.40 373.46,454.40 373.89,454.40 374.32,454.40 374.74,454.40 375.17,454.40 375.60,454.40 376.03,454.40 376.45,454.40 376.88,454.40 377.31,454.40 377.74,454.40 378.16,454.40" fill="none" stroke="#32cd32" stroke-width="1.1"/>
</svg>
<rect x="207" y="327.7" width="170.60000000000002" height="126.69999999999999" fill="none" stroke="#7a7a7a" stroke-width="0.8"/>
<line x1="205" y1="454.40" x2="207" y2="454.40" stroke="#333" stroke-width="0.6"/>
<text x="204.00" y="456.70" font-size="6.5" text-anchor="end" fill="#262626" font-weight="normal" textLength="14.50" lengthAdjust="spacingAndGlyphs" stroke="#262626" stroke-width="0.12">0.00</text>
<line x1="205" y1="437.50" x2="207" y2="437.50" stroke="#333" stroke-width="0.6"/>
<text x="204.00" y="439.80" font-size="6.5" text-anchor="end" fill="#262626" font-weight="normal" textLength="14.50" lengthAdjust="spacingAndGlyphs" stroke="#262626" stroke-width="0.12">0.05</text>
<line x1="205" y1="420.60" x2="207" y2="420.60" stroke="#333" stroke-width="0.6"/>
<text x="204.00" y="422.90" font-size="6.5" text-anchor="end" fill="#262626" font-weight="normal" textLength="14.50" lengthAdjust="spacingAndGlyphs" stroke="#262626" stroke-width="0.12">0.10</text>
<line x1="205" y1="403.70" x2="207" y2="403.70" stroke="#333" stroke-width="0.6"/>
<text x="204.00" y="406.00" font-size="6.5" text-anchor="end" fill="#262626" font-weight="normal" textLength="14.50" lengthAdjust="spacingAndGlyphs" stroke="#262626" stroke-width="0.12">0.15</text>
<line x1="205" y1="386.80" x2="207" y2="386.80" stroke="#333" stroke-width="0.6"/>
<text x="204.00" y="389.10" font-size="6.5" text-anchor="end" fill="#262626" font-weight="normal" textLength="14.50" lengthAdjust="spacingAndGlyphs" stroke="#262626" stroke-width="0.12">0.20</text>
<line x1="205" y1="369.90" x2="207" y2="369.90" stroke="#333" stroke-width="0.6"/>
<text x="204.00" y="372.20" font-size="6.5" text-anchor="end" fill="#262626" font-weight="normal" textLength="14.50" lengthAdjust="spacingAndGlyphs" stroke="#262626" stroke-width="0.12">0.25</text>
<line x1="205" y1="353.00" x2="207" y2="353.00" stroke="#333" stroke-width="0.6"/>
<text x="204.00" y="355.30" font-size="6.5" text-anchor="end" fill="#262626" font-weight="normal" textLength="14.50" lengthAdjust="spacingAndGlyphs" stroke="#262626" stroke-width="0.12">0.30</text>
<line x1="205" y1="336.10" x2="207" y2="336.10" stroke="#333" stroke-width="0.6"/>
<text x="204.00" y="338.40" font-size="6.5" text-anchor="end" fill="#262626" font-weight="normal" textLength="14.50" lengthAdjust="spacingAndGlyphs" stroke="#262626" stroke-width="0.12">0.35</text>
<line x1="223.68" y1="454.4" x2="223.68" y2="456.4" stroke="#333" stroke-width="0.6"/>
<text x="223.68" y="463.30" font-size="6.5" text-anchor="middle" fill="#262626" font-weight="normal" textLength="15.13" lengthAdjust="spacingAndGlyphs" stroke="#262626" stroke-width="0.12">−2.5</text>
<line x1="246.00" y1="454.4" x2="246.00" y2="456.4" stroke="#333" stroke-width="0.6"/>
<text x="246.00" y="463.30" font-size="6.5" text-anchor="middle" fill="#262626" font-weight="normal" textLength="9.69" lengthAdjust="spacingAndGlyphs" stroke="#262626" stroke-width="0.12">0.0</text>
<line x1="268.32" y1="454.4" x2="268.32" y2="456.4" stroke="#333" stroke-width="0.6"/>
<text x="268.32" y="463.30" font-size="6.5" text-anchor="middle" fill="#262626" font-weight="normal" textLength="9.69" lengthAdjust="spacingAndGlyphs" stroke="#262626" stroke-width="0.12">2.5</text>
<line x1="290.65" y1="454.4" x2="290.65" y2="456.4" stroke="#333" stroke-width="0.6"/>
<text x="290.65" y="463.30" font-size="6.5" text-anchor="middle" fill="#262626" font-weight="normal" textLength="9.69" lengthAdjust="spacingAndGlyphs" stroke="#262626" stroke-width="0.12">5.0</text>
<line x1="312.98" y1="454.4" x2="312.98" y2="456.4" stroke="#333" stroke-width="0.6"/>
<text x="312.98" y="463.30" font-size="6.5" text-anchor="middle" fill="#262626" font-weight="normal" textLength="9.69" lengthAdjust="spacingAndGlyphs" stroke="#262626" stroke-width="0.12">7.5</text>
<line x1="335.30" y1="454.4" x2="335.30" y2="456.4" stroke="#333" stroke-width="0.6"/>
<text x="335.30" y="463.30" font-size="6.5" text-anchor="middle" fill="#262626" font-weight="normal" textLength="13.82" lengthAdjust="spacingAndGlyphs" stroke="#262626" stroke-width="0.12">10.0</text>
<line x1="357.62" y1="454.4" x2="357.62" y2="456.4" stroke="#333" stroke-width="0.6"/>
<text x="357.62" y="463.30" font-size="6.5" text-anchor="middle" fill="#262626" font-weight="normal" textLength="13.82" lengthAdjust="spacingAndGlyphs" stroke="#262626" stroke-width="0.12">12.5</text>
<text x="292.30" y="472.50" font-size="8.0" text-anchor="middle" fill="#262626" font-weight="normal" textLength="64.40" lengthAdjust="spacingAndGlyphs" stroke="#262626" stroke-width="0.12">Shear stress (Pa)</text>
<text x="185.20" y="392.00" font-size="8.0" text-anchor="middle" fill="#262626" font-weight="normal" textLength="29.00" lengthAdjust="spacingAndGlyphs" stroke="#262626" stroke-width="0.12" transform="rotate(-90 185.20 392.00)">Density</text>
<rect x="341" y="331" width="32.6" height="31" rx="1.5" fill="#fff" fill-opacity="0.92" stroke="#dcdcdc" stroke-width="0.6"/>
<rect x="343.6" y="334.0" width="13" height="4.2" fill="#ffa500" fill-opacity="0.4"/>
<text x="362.00" y="338.60" font-size="7.0" text-anchor="start" fill="#262626" font-weight="normal" textLength="8.97" lengthAdjust="spacingAndGlyphs" stroke="#262626" stroke-width="0.12">CV</text>
<rect x="343.6" y="344.0" width="13" height="4.2" fill="#4169e1" fill-opacity="0.4"/>
<text x="362.00" y="348.60" font-size="7.0" text-anchor="start" fill="#262626" font-weight="normal" textLength="8.39" lengthAdjust="spacingAndGlyphs" stroke="#262626" stroke-width="0.12">RP</text>
<rect x="343.6" y="354.0" width="13" height="4.2" fill="#32cd32" fill-opacity="0.4"/>
<text x="362.00" y="358.60" font-size="7.0" text-anchor="start" fill="#262626" font-weight="normal" textLength="8.31" lengthAdjust="spacingAndGlyphs" stroke="#262626" stroke-width="0.12">VP</text>
</svg></body></html>
